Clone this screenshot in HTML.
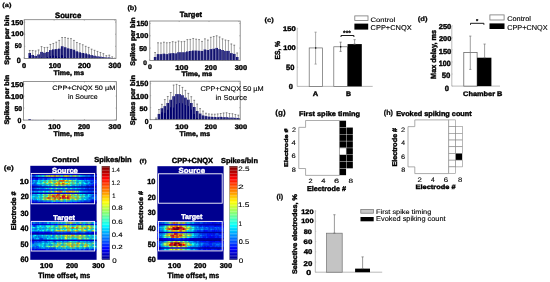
<!DOCTYPE html>
<html><head><meta charset="utf-8"><style>
html,body{margin:0;padding:0;background:#fff;width:550px;height:282px;overflow:hidden}
svg{display:block}
text{font-family:"Liberation Sans", Arial, sans-serif;text-rendering:geometricPrecision}
</style></head><body>
<svg width="550" height="282" viewBox="0 0 550 282">
<!-- panel a -->
<rect x="28.48" y="53.01" width="2.53" height="5.39" fill="#00006c" stroke="none" stroke-width="1"/>
<rect x="31.43" y="55.01" width="2.53" height="3.39" fill="#00006c" stroke="none" stroke-width="1"/>
<rect x="34.37" y="55.91" width="2.53" height="2.49" fill="#00006c" stroke="none" stroke-width="1"/>
<rect x="37.32" y="54.41" width="2.53" height="3.99" fill="#00006c" stroke="none" stroke-width="1"/>
<rect x="40.26" y="51.87" width="2.53" height="6.53" fill="#00006c" stroke="none" stroke-width="1"/>
<rect x="43.21" y="52.69" width="2.53" height="5.71" fill="#00006c" stroke="none" stroke-width="1"/>
<rect x="46.15" y="51.99" width="2.53" height="6.41" fill="#00006c" stroke="none" stroke-width="1"/>
<rect x="49.10" y="50.10" width="2.53" height="8.30" fill="#00006c" stroke="none" stroke-width="1"/>
<rect x="52.04" y="49.35" width="2.53" height="9.05" fill="#00006c" stroke="none" stroke-width="1"/>
<rect x="54.99" y="49.11" width="2.53" height="9.29" fill="#00006c" stroke="none" stroke-width="1"/>
<rect x="57.93" y="48.60" width="2.53" height="9.80" fill="#00006c" stroke="none" stroke-width="1"/>
<rect x="60.88" y="46.21" width="2.53" height="12.19" fill="#00006c" stroke="none" stroke-width="1"/>
<rect x="63.82" y="47.20" width="2.53" height="11.20" fill="#00006c" stroke="none" stroke-width="1"/>
<rect x="66.77" y="48.29" width="2.53" height="10.11" fill="#00006c" stroke="none" stroke-width="1"/>
<rect x="69.71" y="48.89" width="2.53" height="9.51" fill="#00006c" stroke="none" stroke-width="1"/>
<rect x="72.66" y="49.69" width="2.53" height="8.71" fill="#00006c" stroke="none" stroke-width="1"/>
<rect x="75.60" y="51.29" width="2.53" height="7.11" fill="#00006c" stroke="none" stroke-width="1"/>
<rect x="78.55" y="52.26" width="2.53" height="6.14" fill="#00006c" stroke="none" stroke-width="1"/>
<rect x="81.49" y="53.01" width="2.53" height="5.39" fill="#00006c" stroke="none" stroke-width="1"/>
<rect x="84.44" y="53.39" width="2.53" height="5.01" fill="#00006c" stroke="none" stroke-width="1"/>
<rect x="87.38" y="54.29" width="2.53" height="4.11" fill="#00006c" stroke="none" stroke-width="1"/>
<rect x="90.33" y="55.11" width="2.53" height="3.29" fill="#00006c" stroke="none" stroke-width="1"/>
<rect x="93.27" y="55.69" width="2.53" height="2.71" fill="#00006c" stroke="none" stroke-width="1"/>
<rect x="96.22" y="56.30" width="2.53" height="2.10" fill="#00006c" stroke="none" stroke-width="1"/>
<rect x="99.16" y="56.61" width="2.53" height="1.79" fill="#00006c" stroke="none" stroke-width="1"/>
<rect x="102.11" y="57.09" width="2.53" height="1.31" fill="#00006c" stroke="none" stroke-width="1"/>
<rect x="105.05" y="57.41" width="2.53" height="0.99" fill="#00006c" stroke="none" stroke-width="1"/>
<rect x="108.00" y="57.41" width="2.53" height="0.99" fill="#00006c" stroke="none" stroke-width="1"/>
<rect x="110.94" y="57.99" width="2.53" height="0.41" fill="#00006c" stroke="none" stroke-width="1"/>
<line x1="29.75" y1="50.18" x2="29.75" y2="53.01" stroke="#a2a2a2" stroke-width="1.0"/>
<line x1="29.75" y1="53.01" x2="29.75" y2="55.84" stroke="#6a6a90" stroke-width="0.6"/>
<line x1="28.85" y1="50.48" x2="30.65" y2="50.48" stroke="#666" stroke-width="0.7"/>
<line x1="32.70" y1="50.18" x2="32.70" y2="55.01" stroke="#a2a2a2" stroke-width="1.0"/>
<line x1="32.70" y1="55.01" x2="32.70" y2="58.40" stroke="#6a6a90" stroke-width="0.6"/>
<line x1="31.80" y1="50.48" x2="33.59" y2="50.48" stroke="#666" stroke-width="0.7"/>
<line x1="35.64" y1="50.66" x2="35.64" y2="55.91" stroke="#a2a2a2" stroke-width="1.0"/>
<line x1="35.64" y1="55.91" x2="35.64" y2="58.40" stroke="#6a6a90" stroke-width="0.6"/>
<line x1="34.74" y1="50.96" x2="36.54" y2="50.96" stroke="#666" stroke-width="0.7"/>
<line x1="38.59" y1="49.69" x2="38.59" y2="54.41" stroke="#a2a2a2" stroke-width="1.0"/>
<line x1="38.59" y1="54.41" x2="38.59" y2="58.40" stroke="#6a6a90" stroke-width="0.6"/>
<line x1="37.69" y1="49.99" x2="39.48" y2="49.99" stroke="#666" stroke-width="0.7"/>
<line x1="41.53" y1="46.31" x2="41.53" y2="51.87" stroke="#a2a2a2" stroke-width="1.0"/>
<line x1="41.53" y1="51.87" x2="41.53" y2="57.43" stroke="#6a6a90" stroke-width="0.6"/>
<line x1="40.63" y1="46.61" x2="42.43" y2="46.61" stroke="#666" stroke-width="0.7"/>
<line x1="44.48" y1="47.27" x2="44.48" y2="52.69" stroke="#a2a2a2" stroke-width="1.0"/>
<line x1="44.48" y1="52.69" x2="44.48" y2="58.11" stroke="#6a6a90" stroke-width="0.6"/>
<line x1="43.58" y1="47.57" x2="45.38" y2="47.57" stroke="#666" stroke-width="0.7"/>
<line x1="47.42" y1="47.03" x2="47.42" y2="51.99" stroke="#a2a2a2" stroke-width="1.0"/>
<line x1="47.42" y1="51.99" x2="47.42" y2="56.95" stroke="#6a6a90" stroke-width="0.6"/>
<line x1="46.52" y1="47.33" x2="48.32" y2="47.33" stroke="#666" stroke-width="0.7"/>
<line x1="50.36" y1="44.13" x2="50.36" y2="50.10" stroke="#a2a2a2" stroke-width="1.0"/>
<line x1="50.36" y1="50.10" x2="50.36" y2="56.08" stroke="#6a6a90" stroke-width="0.6"/>
<line x1="49.46" y1="44.43" x2="51.26" y2="44.43" stroke="#666" stroke-width="0.7"/>
<line x1="53.31" y1="43.16" x2="53.31" y2="49.35" stroke="#a2a2a2" stroke-width="1.0"/>
<line x1="53.31" y1="49.35" x2="53.31" y2="55.55" stroke="#6a6a90" stroke-width="0.6"/>
<line x1="52.41" y1="43.46" x2="54.21" y2="43.46" stroke="#666" stroke-width="0.7"/>
<line x1="56.25" y1="41.90" x2="56.25" y2="49.11" stroke="#a2a2a2" stroke-width="1.0"/>
<line x1="56.25" y1="49.11" x2="56.25" y2="56.32" stroke="#6a6a90" stroke-width="0.6"/>
<line x1="55.35" y1="42.20" x2="57.15" y2="42.20" stroke="#666" stroke-width="0.7"/>
<line x1="59.20" y1="40.11" x2="59.20" y2="48.60" stroke="#a2a2a2" stroke-width="1.0"/>
<line x1="59.20" y1="48.60" x2="59.20" y2="57.09" stroke="#6a6a90" stroke-width="0.6"/>
<line x1="58.30" y1="40.41" x2="60.10" y2="40.41" stroke="#666" stroke-width="0.7"/>
<line x1="62.14" y1="37.21" x2="62.14" y2="46.21" stroke="#a2a2a2" stroke-width="1.0"/>
<line x1="62.14" y1="46.21" x2="62.14" y2="55.21" stroke="#6a6a90" stroke-width="0.6"/>
<line x1="61.24" y1="37.51" x2="63.04" y2="37.51" stroke="#666" stroke-width="0.7"/>
<line x1="65.09" y1="37.21" x2="65.09" y2="47.20" stroke="#a2a2a2" stroke-width="1.0"/>
<line x1="65.09" y1="47.20" x2="65.09" y2="57.19" stroke="#6a6a90" stroke-width="0.6"/>
<line x1="64.19" y1="37.51" x2="65.99" y2="37.51" stroke="#666" stroke-width="0.7"/>
<line x1="68.03" y1="38.01" x2="68.03" y2="48.29" stroke="#a2a2a2" stroke-width="1.0"/>
<line x1="68.03" y1="48.29" x2="68.03" y2="58.40" stroke="#6a6a90" stroke-width="0.6"/>
<line x1="67.13" y1="38.31" x2="68.94" y2="38.31" stroke="#666" stroke-width="0.7"/>
<line x1="70.98" y1="38.32" x2="70.98" y2="48.89" stroke="#a2a2a2" stroke-width="1.0"/>
<line x1="70.98" y1="48.89" x2="70.98" y2="58.40" stroke="#6a6a90" stroke-width="0.6"/>
<line x1="70.08" y1="38.62" x2="71.88" y2="38.62" stroke="#666" stroke-width="0.7"/>
<line x1="73.92" y1="40.11" x2="73.92" y2="49.69" stroke="#a2a2a2" stroke-width="1.0"/>
<line x1="73.92" y1="49.69" x2="73.92" y2="58.40" stroke="#6a6a90" stroke-width="0.6"/>
<line x1="73.02" y1="40.41" x2="74.83" y2="40.41" stroke="#666" stroke-width="0.7"/>
<line x1="76.87" y1="42.19" x2="76.87" y2="51.29" stroke="#a2a2a2" stroke-width="1.0"/>
<line x1="76.87" y1="51.29" x2="76.87" y2="58.40" stroke="#6a6a90" stroke-width="0.6"/>
<line x1="75.97" y1="42.49" x2="77.77" y2="42.49" stroke="#666" stroke-width="0.7"/>
<line x1="79.81" y1="43.40" x2="79.81" y2="52.26" stroke="#a2a2a2" stroke-width="1.0"/>
<line x1="79.81" y1="52.26" x2="79.81" y2="58.40" stroke="#6a6a90" stroke-width="0.6"/>
<line x1="78.91" y1="43.70" x2="80.72" y2="43.70" stroke="#666" stroke-width="0.7"/>
<line x1="82.76" y1="44.49" x2="82.76" y2="53.01" stroke="#a2a2a2" stroke-width="1.0"/>
<line x1="82.76" y1="53.01" x2="82.76" y2="58.40" stroke="#6a6a90" stroke-width="0.6"/>
<line x1="81.86" y1="44.79" x2="83.66" y2="44.79" stroke="#666" stroke-width="0.7"/>
<line x1="85.70" y1="45.99" x2="85.70" y2="53.39" stroke="#a2a2a2" stroke-width="1.0"/>
<line x1="85.70" y1="53.39" x2="85.70" y2="58.40" stroke="#6a6a90" stroke-width="0.6"/>
<line x1="84.80" y1="46.29" x2="86.61" y2="46.29" stroke="#666" stroke-width="0.7"/>
<line x1="88.65" y1="47.10" x2="88.65" y2="54.29" stroke="#a2a2a2" stroke-width="1.0"/>
<line x1="88.65" y1="54.29" x2="88.65" y2="58.40" stroke="#6a6a90" stroke-width="0.6"/>
<line x1="87.75" y1="47.40" x2="89.55" y2="47.40" stroke="#666" stroke-width="0.7"/>
<line x1="91.59" y1="48.89" x2="91.59" y2="55.11" stroke="#a2a2a2" stroke-width="1.0"/>
<line x1="91.59" y1="55.11" x2="91.59" y2="58.40" stroke="#6a6a90" stroke-width="0.6"/>
<line x1="90.69" y1="49.19" x2="92.50" y2="49.19" stroke="#666" stroke-width="0.7"/>
<line x1="94.54" y1="50.01" x2="94.54" y2="55.69" stroke="#a2a2a2" stroke-width="1.0"/>
<line x1="94.54" y1="55.69" x2="94.54" y2="58.40" stroke="#6a6a90" stroke-width="0.6"/>
<line x1="93.64" y1="50.31" x2="95.44" y2="50.31" stroke="#666" stroke-width="0.7"/>
<line x1="97.48" y1="51.10" x2="97.48" y2="56.30" stroke="#a2a2a2" stroke-width="1.0"/>
<line x1="97.48" y1="56.30" x2="97.48" y2="58.40" stroke="#6a6a90" stroke-width="0.6"/>
<line x1="96.58" y1="51.40" x2="98.39" y2="51.40" stroke="#666" stroke-width="0.7"/>
<line x1="100.43" y1="52.21" x2="100.43" y2="56.61" stroke="#a2a2a2" stroke-width="1.0"/>
<line x1="100.43" y1="56.61" x2="100.43" y2="58.40" stroke="#6a6a90" stroke-width="0.6"/>
<line x1="99.53" y1="52.51" x2="101.33" y2="52.51" stroke="#666" stroke-width="0.7"/>
<line x1="103.38" y1="53.39" x2="103.38" y2="57.09" stroke="#a2a2a2" stroke-width="1.0"/>
<line x1="103.38" y1="57.09" x2="103.38" y2="58.40" stroke="#6a6a90" stroke-width="0.6"/>
<line x1="102.47" y1="53.69" x2="104.28" y2="53.69" stroke="#666" stroke-width="0.7"/>
<line x1="106.32" y1="55.40" x2="106.32" y2="57.41" stroke="#a2a2a2" stroke-width="1.0"/>
<line x1="106.32" y1="57.41" x2="106.32" y2="58.40" stroke="#6a6a90" stroke-width="0.6"/>
<line x1="105.42" y1="55.70" x2="107.22" y2="55.70" stroke="#666" stroke-width="0.7"/>
<line x1="109.27" y1="54.89" x2="109.27" y2="57.41" stroke="#a2a2a2" stroke-width="1.0"/>
<line x1="109.27" y1="57.41" x2="109.27" y2="58.40" stroke="#6a6a90" stroke-width="0.6"/>
<line x1="108.36" y1="55.19" x2="110.17" y2="55.19" stroke="#666" stroke-width="0.7"/>
<line x1="112.21" y1="56.61" x2="112.21" y2="57.99" stroke="#a2a2a2" stroke-width="1.0"/>
<line x1="112.21" y1="57.99" x2="112.21" y2="58.40" stroke="#6a6a90" stroke-width="0.6"/>
<line x1="111.31" y1="56.91" x2="113.11" y2="56.91" stroke="#666" stroke-width="0.7"/>
<rect x="24.30" y="19.70" width="91.70" height="38.70" fill="none" stroke="#7a7a7a" stroke-width="0.8"/>
<line x1="23.90" y1="58.40" x2="23.90" y2="57.40" stroke="#7a7a7a" stroke-width="0.5"/>
<line x1="23.90" y1="19.70" x2="23.90" y2="20.70" stroke="#7a7a7a" stroke-width="0.5"/>
<line x1="54.13" y1="58.40" x2="54.13" y2="57.40" stroke="#7a7a7a" stroke-width="0.5"/>
<line x1="54.13" y1="19.70" x2="54.13" y2="20.70" stroke="#7a7a7a" stroke-width="0.5"/>
<line x1="84.37" y1="58.40" x2="84.37" y2="57.40" stroke="#7a7a7a" stroke-width="0.5"/>
<line x1="84.37" y1="19.70" x2="84.37" y2="20.70" stroke="#7a7a7a" stroke-width="0.5"/>
<line x1="114.60" y1="58.40" x2="114.60" y2="57.40" stroke="#7a7a7a" stroke-width="0.5"/>
<line x1="114.60" y1="19.70" x2="114.60" y2="20.70" stroke="#7a7a7a" stroke-width="0.5"/>
<line x1="24.30" y1="58.40" x2="25.30" y2="58.40" stroke="#7a7a7a" stroke-width="0.5"/>
<line x1="116.00" y1="58.40" x2="115.00" y2="58.40" stroke="#7a7a7a" stroke-width="0.5"/>
<line x1="24.30" y1="46.31" x2="25.30" y2="46.31" stroke="#7a7a7a" stroke-width="0.5"/>
<line x1="116.00" y1="46.31" x2="115.00" y2="46.31" stroke="#7a7a7a" stroke-width="0.5"/>
<line x1="24.30" y1="34.21" x2="25.30" y2="34.21" stroke="#7a7a7a" stroke-width="0.5"/>
<line x1="116.00" y1="34.21" x2="115.00" y2="34.21" stroke="#7a7a7a" stroke-width="0.5"/>
<line x1="24.30" y1="22.12" x2="25.30" y2="22.12" stroke="#7a7a7a" stroke-width="0.5"/>
<line x1="116.00" y1="22.12" x2="115.00" y2="22.12" stroke="#7a7a7a" stroke-width="0.5"/>
<rect x="28.33" y="119.26" width="2.54" height="0.84" fill="#00006c" stroke="none" stroke-width="1"/>
<rect x="31.28" y="119.91" width="2.54" height="0.19" fill="#00006c" stroke="none" stroke-width="1"/>
<rect x="34.23" y="119.96" width="2.54" height="0.14" fill="#00006c" stroke="none" stroke-width="1"/>
<rect x="37.18" y="119.98" width="2.54" height="0.12" fill="#00006c" stroke="none" stroke-width="1"/>
<rect x="40.13" y="119.98" width="2.54" height="0.12" fill="#00006c" stroke="none" stroke-width="1"/>
<rect x="43.08" y="119.98" width="2.54" height="0.12" fill="#00006c" stroke="none" stroke-width="1"/>
<rect x="46.03" y="119.98" width="2.54" height="0.12" fill="#00006c" stroke="none" stroke-width="1"/>
<rect x="48.98" y="120.00" width="2.54" height="0.10" fill="#00006c" stroke="none" stroke-width="1"/>
<rect x="51.93" y="120.00" width="2.54" height="0.10" fill="#00006c" stroke="none" stroke-width="1"/>
<rect x="54.88" y="120.00" width="2.54" height="0.10" fill="#00006c" stroke="none" stroke-width="1"/>
<rect x="57.83" y="120.00" width="2.54" height="0.10" fill="#00006c" stroke="none" stroke-width="1"/>
<rect x="60.78" y="120.00" width="2.54" height="0.10" fill="#00006c" stroke="none" stroke-width="1"/>
<rect x="63.73" y="120.00" width="2.54" height="0.10" fill="#00006c" stroke="none" stroke-width="1"/>
<rect x="66.68" y="120.00" width="2.54" height="0.10" fill="#00006c" stroke="none" stroke-width="1"/>
<rect x="69.63" y="120.00" width="2.54" height="0.10" fill="#00006c" stroke="none" stroke-width="1"/>
<rect x="72.58" y="120.00" width="2.54" height="0.10" fill="#00006c" stroke="none" stroke-width="1"/>
<rect x="75.53" y="120.00" width="2.54" height="0.10" fill="#00006c" stroke="none" stroke-width="1"/>
<rect x="78.48" y="120.00" width="2.54" height="0.10" fill="#00006c" stroke="none" stroke-width="1"/>
<rect x="81.43" y="120.00" width="2.54" height="0.10" fill="#00006c" stroke="none" stroke-width="1"/>
<rect x="84.38" y="120.00" width="2.54" height="0.10" fill="#00006c" stroke="none" stroke-width="1"/>
<rect x="87.33" y="120.00" width="2.54" height="0.10" fill="#00006c" stroke="none" stroke-width="1"/>
<rect x="90.28" y="120.00" width="2.54" height="0.10" fill="#00006c" stroke="none" stroke-width="1"/>
<rect x="93.23" y="120.00" width="2.54" height="0.10" fill="#00006c" stroke="none" stroke-width="1"/>
<rect x="96.18" y="120.00" width="2.54" height="0.10" fill="#00006c" stroke="none" stroke-width="1"/>
<rect x="99.13" y="120.00" width="2.54" height="0.10" fill="#00006c" stroke="none" stroke-width="1"/>
<rect x="102.08" y="120.00" width="2.54" height="0.10" fill="#00006c" stroke="none" stroke-width="1"/>
<rect x="105.03" y="120.00" width="2.54" height="0.10" fill="#00006c" stroke="none" stroke-width="1"/>
<rect x="107.98" y="120.00" width="2.54" height="0.10" fill="#00006c" stroke="none" stroke-width="1"/>
<rect x="110.93" y="120.03" width="2.54" height="0.07" fill="#00006c" stroke="none" stroke-width="1"/>
<rect x="23.50" y="81.60" width="93.00" height="38.50" fill="none" stroke="#7a7a7a" stroke-width="0.8"/>
<line x1="23.10" y1="120.10" x2="23.10" y2="119.10" stroke="#7a7a7a" stroke-width="0.5"/>
<line x1="23.10" y1="81.60" x2="23.10" y2="82.60" stroke="#7a7a7a" stroke-width="0.5"/>
<line x1="53.77" y1="120.10" x2="53.77" y2="119.10" stroke="#7a7a7a" stroke-width="0.5"/>
<line x1="53.77" y1="81.60" x2="53.77" y2="82.60" stroke="#7a7a7a" stroke-width="0.5"/>
<line x1="84.43" y1="120.10" x2="84.43" y2="119.10" stroke="#7a7a7a" stroke-width="0.5"/>
<line x1="84.43" y1="81.60" x2="84.43" y2="82.60" stroke="#7a7a7a" stroke-width="0.5"/>
<line x1="115.10" y1="120.10" x2="115.10" y2="119.10" stroke="#7a7a7a" stroke-width="0.5"/>
<line x1="115.10" y1="81.60" x2="115.10" y2="82.60" stroke="#7a7a7a" stroke-width="0.5"/>
<line x1="23.50" y1="120.10" x2="24.50" y2="120.10" stroke="#7a7a7a" stroke-width="0.5"/>
<line x1="116.50" y1="120.10" x2="115.50" y2="120.10" stroke="#7a7a7a" stroke-width="0.5"/>
<line x1="23.50" y1="108.07" x2="24.50" y2="108.07" stroke="#7a7a7a" stroke-width="0.5"/>
<line x1="116.50" y1="108.07" x2="115.50" y2="108.07" stroke="#7a7a7a" stroke-width="0.5"/>
<line x1="23.50" y1="96.04" x2="24.50" y2="96.04" stroke="#7a7a7a" stroke-width="0.5"/>
<line x1="116.50" y1="96.04" x2="115.50" y2="96.04" stroke="#7a7a7a" stroke-width="0.5"/>
<line x1="23.50" y1="84.01" x2="24.50" y2="84.01" stroke="#7a7a7a" stroke-width="0.5"/>
<line x1="116.50" y1="84.01" x2="115.50" y2="84.01" stroke="#7a7a7a" stroke-width="0.5"/>
<text transform="matrix(1.2631 0 0 1 2.23 7.34)" font-size="5.968" font-weight="bold" fill="#000" stroke="#000" stroke-width="0.22">(a)</text>
<text transform="matrix(0.9865 0 0 1 54.96 17.70)" font-size="7.871" font-weight="bold" fill="#000" stroke="#000" stroke-width="0.38">Source</text>
<text transform="matrix(1.0345 0 0 1 11.32 24.50)" font-size="7.014" font-weight="bold" fill="#000" stroke="#000" stroke-width="0.38">150</text>
<text transform="matrix(1.0784 0 0 1 11.32 36.00)" font-size="6.729" font-weight="bold" fill="#000" stroke="#000" stroke-width="0.38">100</text>
<text transform="matrix(0.9174 0 0 1 14.80 47.80)" font-size="6.729" font-weight="bold" fill="#000" stroke="#000" stroke-width="0.38">50</text>
<text transform="matrix(0.9492 0 0 1 16.70 62.80)" font-size="7.586" font-weight="bold" fill="#000" stroke="#000" stroke-width="0.38">0</text>
<text transform="matrix(1.1014 0 0 1 21.89 67.70)" font-size="6.729" font-weight="bold" fill="#000" stroke="#000" stroke-width="0.38">0</text>
<text transform="matrix(1.0840 0 0 1 48.71 67.80)" font-size="6.871" font-weight="bold" fill="#000" stroke="#000" stroke-width="0.38">100</text>
<text transform="matrix(1.0914 0 0 1 77.92 67.80)" font-size="7.157" font-weight="bold" fill="#000" stroke="#000" stroke-width="0.38">200</text>
<text transform="matrix(1.0262 0 0 1 108.50 67.80)" font-size="7.443" font-weight="bold" fill="#000" stroke="#000" stroke-width="0.38">300</text>
<text transform="matrix(1.0645 0 0 1 53.62 74.80)" font-size="6.634" font-weight="bold" fill="#000" stroke="#000" stroke-width="0.38">Time, ms</text>
<text transform="matrix(0 -1.1187 1 0 9.20 64.63)" font-size="6.497" font-weight="bold" fill="#000" stroke="#000" stroke-width="0.38">Spikes per bin</text>
<text transform="matrix(1.0619 0 0 1 10.91 86.70)" font-size="7.014" font-weight="bold" fill="#000" stroke="#000" stroke-width="0.38">150</text>
<text transform="matrix(1.0840 0 0 1 10.91 98.90)" font-size="6.871" font-weight="bold" fill="#000" stroke="#000" stroke-width="0.38">100</text>
<text transform="matrix(0.9823 0 0 1 14.39 111.20)" font-size="6.871" font-weight="bold" fill="#000" stroke="#000" stroke-width="0.38">50</text>
<text transform="matrix(0.9575 0 0 1 17.51 122.90)" font-size="7.300" font-weight="bold" fill="#000" stroke="#000" stroke-width="0.38">0</text>
<text transform="matrix(0.9965 0 0 1 21.71 128.70)" font-size="7.014" font-weight="bold" fill="#000" stroke="#000" stroke-width="0.38">0</text>
<text transform="matrix(1.0840 0 0 1 48.21 128.50)" font-size="6.871" font-weight="bold" fill="#000" stroke="#000" stroke-width="0.38">100</text>
<text transform="matrix(1.0636 0 0 1 77.93 128.50)" font-size="6.871" font-weight="bold" fill="#000" stroke="#000" stroke-width="0.38">200</text>
<text transform="matrix(1.1024 0 0 1 108.50 128.50)" font-size="6.871" font-weight="bold" fill="#000" stroke="#000" stroke-width="0.38">300</text>
<text transform="matrix(1.0020 0 0 1 53.62 135.80)" font-size="7.048" font-weight="bold" fill="#000" stroke="#000" stroke-width="0.38">Time, ms</text>
<text transform="matrix(0 -1.0977 1 0 9.00 124.53)" font-size="6.634" font-weight="bold" fill="#000" stroke="#000" stroke-width="0.38">Spikes per bin</text>
<text transform="matrix(1.1586 0 0 1 52.19 90.00)" font-size="6.343" font-weight="normal" fill="#000" stroke="#000" stroke-width="0.12">CPP+CNQX 50 µM</text>
<text transform="matrix(1.0407 0 0 1 67.90 98.70)" font-size="6.814" font-weight="normal" fill="#000" stroke="#000" stroke-width="0.12">in Source</text>
<!-- panel b -->
<rect x="153.84" y="57.00" width="2.52" height="3.40" fill="#00006c" stroke="none" stroke-width="1"/>
<rect x="156.77" y="54.10" width="2.52" height="6.30" fill="#00006c" stroke="none" stroke-width="1"/>
<rect x="159.70" y="54.10" width="2.52" height="6.30" fill="#00006c" stroke="none" stroke-width="1"/>
<rect x="162.64" y="53.60" width="2.52" height="6.80" fill="#00006c" stroke="none" stroke-width="1"/>
<rect x="165.57" y="54.10" width="2.52" height="6.30" fill="#00006c" stroke="none" stroke-width="1"/>
<rect x="168.50" y="53.31" width="2.52" height="7.09" fill="#00006c" stroke="none" stroke-width="1"/>
<rect x="171.43" y="53.11" width="2.52" height="7.29" fill="#00006c" stroke="none" stroke-width="1"/>
<rect x="174.36" y="53.31" width="2.52" height="7.09" fill="#00006c" stroke="none" stroke-width="1"/>
<rect x="177.30" y="52.20" width="2.52" height="8.20" fill="#00006c" stroke="none" stroke-width="1"/>
<rect x="180.23" y="52.20" width="2.52" height="8.20" fill="#00006c" stroke="none" stroke-width="1"/>
<rect x="183.16" y="52.20" width="2.52" height="8.20" fill="#00006c" stroke="none" stroke-width="1"/>
<rect x="186.09" y="51.41" width="2.52" height="8.99" fill="#00006c" stroke="none" stroke-width="1"/>
<rect x="189.02" y="50.99" width="2.52" height="9.41" fill="#00006c" stroke="none" stroke-width="1"/>
<rect x="191.96" y="50.50" width="2.52" height="9.90" fill="#00006c" stroke="none" stroke-width="1"/>
<rect x="194.89" y="50.50" width="2.52" height="9.90" fill="#00006c" stroke="none" stroke-width="1"/>
<rect x="197.82" y="50.70" width="2.52" height="9.70" fill="#00006c" stroke="none" stroke-width="1"/>
<rect x="200.75" y="50.99" width="2.52" height="9.41" fill="#00006c" stroke="none" stroke-width="1"/>
<rect x="203.68" y="49.42" width="2.52" height="10.98" fill="#00006c" stroke="none" stroke-width="1"/>
<rect x="206.62" y="50.01" width="2.52" height="10.39" fill="#00006c" stroke="none" stroke-width="1"/>
<rect x="209.55" y="49.10" width="2.52" height="11.30" fill="#00006c" stroke="none" stroke-width="1"/>
<rect x="212.48" y="48.70" width="2.52" height="11.70" fill="#00006c" stroke="none" stroke-width="1"/>
<rect x="215.41" y="47.89" width="2.52" height="12.51" fill="#00006c" stroke="none" stroke-width="1"/>
<rect x="218.34" y="49.10" width="2.52" height="11.30" fill="#00006c" stroke="none" stroke-width="1"/>
<rect x="221.28" y="50.01" width="2.52" height="10.39" fill="#00006c" stroke="none" stroke-width="1"/>
<rect x="224.21" y="50.89" width="2.52" height="9.51" fill="#00006c" stroke="none" stroke-width="1"/>
<rect x="227.14" y="50.89" width="2.52" height="9.51" fill="#00006c" stroke="none" stroke-width="1"/>
<rect x="230.07" y="53.11" width="2.52" height="7.29" fill="#00006c" stroke="none" stroke-width="1"/>
<rect x="233.00" y="53.90" width="2.52" height="6.50" fill="#00006c" stroke="none" stroke-width="1"/>
<rect x="235.94" y="57.00" width="2.52" height="3.40" fill="#00006c" stroke="none" stroke-width="1"/>
<line x1="155.10" y1="52.20" x2="155.10" y2="57.00" stroke="#a2a2a2" stroke-width="1.0"/>
<line x1="155.10" y1="57.00" x2="155.10" y2="60.40" stroke="#6a6a90" stroke-width="0.6"/>
<line x1="154.20" y1="52.50" x2="156.00" y2="52.50" stroke="#666" stroke-width="0.7"/>
<line x1="158.03" y1="42.50" x2="158.03" y2="54.10" stroke="#a2a2a2" stroke-width="1.0"/>
<line x1="158.03" y1="54.10" x2="158.03" y2="60.40" stroke="#6a6a90" stroke-width="0.6"/>
<line x1="157.13" y1="42.80" x2="158.93" y2="42.80" stroke="#666" stroke-width="0.7"/>
<line x1="160.96" y1="42.69" x2="160.96" y2="54.10" stroke="#a2a2a2" stroke-width="1.0"/>
<line x1="160.96" y1="54.10" x2="160.96" y2="60.40" stroke="#6a6a90" stroke-width="0.6"/>
<line x1="160.06" y1="42.99" x2="161.86" y2="42.99" stroke="#666" stroke-width="0.7"/>
<line x1="163.90" y1="41.91" x2="163.90" y2="53.60" stroke="#a2a2a2" stroke-width="1.0"/>
<line x1="163.90" y1="53.60" x2="163.90" y2="60.40" stroke="#6a6a90" stroke-width="0.6"/>
<line x1="163.00" y1="42.21" x2="164.80" y2="42.21" stroke="#666" stroke-width="0.7"/>
<line x1="166.83" y1="42.50" x2="166.83" y2="54.10" stroke="#a2a2a2" stroke-width="1.0"/>
<line x1="166.83" y1="54.10" x2="166.83" y2="60.40" stroke="#6a6a90" stroke-width="0.6"/>
<line x1="165.93" y1="42.80" x2="167.73" y2="42.80" stroke="#666" stroke-width="0.7"/>
<line x1="169.76" y1="42.30" x2="169.76" y2="53.31" stroke="#a2a2a2" stroke-width="1.0"/>
<line x1="169.76" y1="53.31" x2="169.76" y2="60.40" stroke="#6a6a90" stroke-width="0.6"/>
<line x1="168.86" y1="42.60" x2="170.66" y2="42.60" stroke="#666" stroke-width="0.7"/>
<line x1="172.69" y1="41.39" x2="172.69" y2="53.11" stroke="#a2a2a2" stroke-width="1.0"/>
<line x1="172.69" y1="53.11" x2="172.69" y2="60.40" stroke="#6a6a90" stroke-width="0.6"/>
<line x1="171.79" y1="41.69" x2="173.59" y2="41.69" stroke="#666" stroke-width="0.7"/>
<line x1="175.62" y1="41.91" x2="175.62" y2="53.31" stroke="#a2a2a2" stroke-width="1.0"/>
<line x1="175.62" y1="53.31" x2="175.62" y2="60.40" stroke="#6a6a90" stroke-width="0.6"/>
<line x1="174.72" y1="42.21" x2="176.52" y2="42.21" stroke="#666" stroke-width="0.7"/>
<line x1="178.56" y1="40.80" x2="178.56" y2="52.20" stroke="#a2a2a2" stroke-width="1.0"/>
<line x1="178.56" y1="52.20" x2="178.56" y2="60.40" stroke="#6a6a90" stroke-width="0.6"/>
<line x1="177.66" y1="41.10" x2="179.46" y2="41.10" stroke="#666" stroke-width="0.7"/>
<line x1="181.49" y1="41.39" x2="181.49" y2="52.20" stroke="#a2a2a2" stroke-width="1.0"/>
<line x1="181.49" y1="52.20" x2="181.49" y2="60.40" stroke="#6a6a90" stroke-width="0.6"/>
<line x1="180.59" y1="41.69" x2="182.39" y2="41.69" stroke="#666" stroke-width="0.7"/>
<line x1="184.42" y1="41.09" x2="184.42" y2="52.20" stroke="#a2a2a2" stroke-width="1.0"/>
<line x1="184.42" y1="52.20" x2="184.42" y2="60.40" stroke="#6a6a90" stroke-width="0.6"/>
<line x1="183.52" y1="41.39" x2="185.32" y2="41.39" stroke="#666" stroke-width="0.7"/>
<line x1="187.35" y1="39.30" x2="187.35" y2="51.41" stroke="#a2a2a2" stroke-width="1.0"/>
<line x1="187.35" y1="51.41" x2="187.35" y2="60.40" stroke="#6a6a90" stroke-width="0.6"/>
<line x1="186.45" y1="39.60" x2="188.25" y2="39.60" stroke="#666" stroke-width="0.7"/>
<line x1="190.28" y1="39.10" x2="190.28" y2="50.99" stroke="#a2a2a2" stroke-width="1.0"/>
<line x1="190.28" y1="50.99" x2="190.28" y2="60.40" stroke="#6a6a90" stroke-width="0.6"/>
<line x1="189.38" y1="39.40" x2="191.18" y2="39.40" stroke="#666" stroke-width="0.7"/>
<line x1="193.22" y1="38.19" x2="193.22" y2="50.50" stroke="#a2a2a2" stroke-width="1.0"/>
<line x1="193.22" y1="50.50" x2="193.22" y2="60.40" stroke="#6a6a90" stroke-width="0.6"/>
<line x1="192.32" y1="38.49" x2="194.12" y2="38.49" stroke="#666" stroke-width="0.7"/>
<line x1="196.15" y1="38.90" x2="196.15" y2="50.50" stroke="#a2a2a2" stroke-width="1.0"/>
<line x1="196.15" y1="50.50" x2="196.15" y2="60.40" stroke="#6a6a90" stroke-width="0.6"/>
<line x1="195.25" y1="39.20" x2="197.05" y2="39.20" stroke="#666" stroke-width="0.7"/>
<line x1="199.08" y1="39.30" x2="199.08" y2="50.70" stroke="#a2a2a2" stroke-width="1.0"/>
<line x1="199.08" y1="50.70" x2="199.08" y2="60.40" stroke="#6a6a90" stroke-width="0.6"/>
<line x1="198.18" y1="39.60" x2="199.98" y2="39.60" stroke="#666" stroke-width="0.7"/>
<line x1="202.01" y1="41.09" x2="202.01" y2="50.99" stroke="#a2a2a2" stroke-width="1.0"/>
<line x1="202.01" y1="50.99" x2="202.01" y2="60.40" stroke="#6a6a90" stroke-width="0.6"/>
<line x1="201.11" y1="41.39" x2="202.91" y2="41.39" stroke="#666" stroke-width="0.7"/>
<line x1="204.94" y1="38.56" x2="204.94" y2="49.42" stroke="#a2a2a2" stroke-width="1.0"/>
<line x1="204.94" y1="49.42" x2="204.94" y2="60.28" stroke="#6a6a90" stroke-width="0.6"/>
<line x1="204.04" y1="38.86" x2="205.84" y2="38.86" stroke="#666" stroke-width="0.7"/>
<line x1="207.88" y1="39.79" x2="207.88" y2="50.01" stroke="#a2a2a2" stroke-width="1.0"/>
<line x1="207.88" y1="50.01" x2="207.88" y2="60.23" stroke="#6a6a90" stroke-width="0.6"/>
<line x1="206.98" y1="40.09" x2="208.78" y2="40.09" stroke="#666" stroke-width="0.7"/>
<line x1="210.81" y1="37.01" x2="210.81" y2="49.10" stroke="#a2a2a2" stroke-width="1.0"/>
<line x1="210.81" y1="49.10" x2="210.81" y2="60.40" stroke="#6a6a90" stroke-width="0.6"/>
<line x1="209.91" y1="37.31" x2="211.71" y2="37.31" stroke="#666" stroke-width="0.7"/>
<line x1="213.74" y1="36.19" x2="213.74" y2="48.70" stroke="#a2a2a2" stroke-width="1.0"/>
<line x1="213.74" y1="48.70" x2="213.74" y2="60.40" stroke="#6a6a90" stroke-width="0.6"/>
<line x1="212.84" y1="36.49" x2="214.64" y2="36.49" stroke="#666" stroke-width="0.7"/>
<line x1="216.67" y1="35.50" x2="216.67" y2="47.89" stroke="#a2a2a2" stroke-width="1.0"/>
<line x1="216.67" y1="47.89" x2="216.67" y2="60.28" stroke="#6a6a90" stroke-width="0.6"/>
<line x1="215.77" y1="35.80" x2="217.57" y2="35.80" stroke="#666" stroke-width="0.7"/>
<line x1="219.60" y1="36.71" x2="219.60" y2="49.10" stroke="#a2a2a2" stroke-width="1.0"/>
<line x1="219.60" y1="49.10" x2="219.60" y2="60.40" stroke="#6a6a90" stroke-width="0.6"/>
<line x1="218.70" y1="37.01" x2="220.50" y2="37.01" stroke="#666" stroke-width="0.7"/>
<line x1="222.54" y1="38.61" x2="222.54" y2="50.01" stroke="#a2a2a2" stroke-width="1.0"/>
<line x1="222.54" y1="50.01" x2="222.54" y2="60.40" stroke="#6a6a90" stroke-width="0.6"/>
<line x1="221.64" y1="38.91" x2="223.44" y2="38.91" stroke="#666" stroke-width="0.7"/>
<line x1="225.47" y1="39.79" x2="225.47" y2="50.89" stroke="#a2a2a2" stroke-width="1.0"/>
<line x1="225.47" y1="50.89" x2="225.47" y2="60.40" stroke="#6a6a90" stroke-width="0.6"/>
<line x1="224.57" y1="40.09" x2="226.37" y2="40.09" stroke="#666" stroke-width="0.7"/>
<line x1="228.40" y1="40.31" x2="228.40" y2="50.89" stroke="#a2a2a2" stroke-width="1.0"/>
<line x1="228.40" y1="50.89" x2="228.40" y2="60.40" stroke="#6a6a90" stroke-width="0.6"/>
<line x1="227.50" y1="40.61" x2="229.30" y2="40.61" stroke="#666" stroke-width="0.7"/>
<line x1="231.33" y1="43.70" x2="231.33" y2="53.11" stroke="#a2a2a2" stroke-width="1.0"/>
<line x1="231.33" y1="53.11" x2="231.33" y2="60.40" stroke="#6a6a90" stroke-width="0.6"/>
<line x1="230.43" y1="44.00" x2="232.23" y2="44.00" stroke="#666" stroke-width="0.7"/>
<line x1="234.26" y1="44.91" x2="234.26" y2="53.90" stroke="#a2a2a2" stroke-width="1.0"/>
<line x1="234.26" y1="53.90" x2="234.26" y2="60.40" stroke="#6a6a90" stroke-width="0.6"/>
<line x1="233.36" y1="45.21" x2="235.16" y2="45.21" stroke="#666" stroke-width="0.7"/>
<line x1="237.20" y1="52.69" x2="237.20" y2="57.00" stroke="#a2a2a2" stroke-width="1.0"/>
<line x1="237.20" y1="57.00" x2="237.20" y2="60.40" stroke="#6a6a90" stroke-width="0.6"/>
<line x1="236.30" y1="52.99" x2="238.10" y2="52.99" stroke="#666" stroke-width="0.7"/>
<rect x="149.80" y="21.00" width="90.40" height="39.40" fill="none" stroke="#7a7a7a" stroke-width="0.8"/>
<line x1="149.40" y1="60.40" x2="149.40" y2="59.40" stroke="#7a7a7a" stroke-width="0.5"/>
<line x1="149.40" y1="21.00" x2="149.40" y2="22.00" stroke="#7a7a7a" stroke-width="0.5"/>
<line x1="179.20" y1="60.40" x2="179.20" y2="59.40" stroke="#7a7a7a" stroke-width="0.5"/>
<line x1="179.20" y1="21.00" x2="179.20" y2="22.00" stroke="#7a7a7a" stroke-width="0.5"/>
<line x1="209.00" y1="60.40" x2="209.00" y2="59.40" stroke="#7a7a7a" stroke-width="0.5"/>
<line x1="209.00" y1="21.00" x2="209.00" y2="22.00" stroke="#7a7a7a" stroke-width="0.5"/>
<line x1="238.80" y1="60.40" x2="238.80" y2="59.40" stroke="#7a7a7a" stroke-width="0.5"/>
<line x1="238.80" y1="21.00" x2="238.80" y2="22.00" stroke="#7a7a7a" stroke-width="0.5"/>
<line x1="149.80" y1="60.40" x2="150.80" y2="60.40" stroke="#7a7a7a" stroke-width="0.5"/>
<line x1="240.20" y1="60.40" x2="239.20" y2="60.40" stroke="#7a7a7a" stroke-width="0.5"/>
<line x1="149.80" y1="48.09" x2="150.80" y2="48.09" stroke="#7a7a7a" stroke-width="0.5"/>
<line x1="240.20" y1="48.09" x2="239.20" y2="48.09" stroke="#7a7a7a" stroke-width="0.5"/>
<line x1="149.80" y1="35.77" x2="150.80" y2="35.77" stroke="#7a7a7a" stroke-width="0.5"/>
<line x1="240.20" y1="35.77" x2="239.20" y2="35.77" stroke="#7a7a7a" stroke-width="0.5"/>
<line x1="149.80" y1="23.46" x2="150.80" y2="23.46" stroke="#7a7a7a" stroke-width="0.5"/>
<line x1="240.20" y1="23.46" x2="239.20" y2="23.46" stroke="#7a7a7a" stroke-width="0.5"/>
<rect x="154.74" y="118.98" width="2.53" height="0.72" fill="#00006c" stroke="none" stroke-width="1"/>
<rect x="157.68" y="113.92" width="2.53" height="5.78" fill="#00006c" stroke="none" stroke-width="1"/>
<rect x="160.62" y="108.20" width="2.53" height="11.50" fill="#00006c" stroke="none" stroke-width="1"/>
<rect x="163.56" y="106.10" width="2.53" height="13.60" fill="#00006c" stroke="none" stroke-width="1"/>
<rect x="166.50" y="103.00" width="2.53" height="16.70" fill="#00006c" stroke="none" stroke-width="1"/>
<rect x="169.44" y="99.73" width="2.53" height="19.97" fill="#00006c" stroke="none" stroke-width="1"/>
<rect x="172.38" y="96.19" width="2.53" height="23.51" fill="#00006c" stroke="none" stroke-width="1"/>
<rect x="175.32" y="94.10" width="2.53" height="25.60" fill="#00006c" stroke="none" stroke-width="1"/>
<rect x="178.26" y="94.10" width="2.53" height="25.60" fill="#00006c" stroke="none" stroke-width="1"/>
<rect x="181.20" y="95.20" width="2.53" height="24.50" fill="#00006c" stroke="none" stroke-width="1"/>
<rect x="184.14" y="97.59" width="2.53" height="22.11" fill="#00006c" stroke="none" stroke-width="1"/>
<rect x="187.08" y="99.61" width="2.53" height="20.09" fill="#00006c" stroke="none" stroke-width="1"/>
<rect x="190.02" y="103.00" width="2.53" height="16.70" fill="#00006c" stroke="none" stroke-width="1"/>
<rect x="192.96" y="107.00" width="2.53" height="12.71" fill="#00006c" stroke="none" stroke-width="1"/>
<rect x="195.90" y="110.99" width="2.53" height="8.71" fill="#00006c" stroke="none" stroke-width="1"/>
<rect x="198.84" y="113.49" width="2.53" height="6.21" fill="#00006c" stroke="none" stroke-width="1"/>
<rect x="201.78" y="115.37" width="2.53" height="4.33" fill="#00006c" stroke="none" stroke-width="1"/>
<rect x="204.72" y="116.09" width="2.53" height="3.61" fill="#00006c" stroke="none" stroke-width="1"/>
<rect x="207.66" y="116.57" width="2.53" height="3.13" fill="#00006c" stroke="none" stroke-width="1"/>
<rect x="210.60" y="116.81" width="2.53" height="2.89" fill="#00006c" stroke="none" stroke-width="1"/>
<rect x="213.54" y="117.05" width="2.53" height="2.65" fill="#00006c" stroke="none" stroke-width="1"/>
<rect x="216.48" y="117.17" width="2.53" height="2.53" fill="#00006c" stroke="none" stroke-width="1"/>
<rect x="219.42" y="116.81" width="2.53" height="2.89" fill="#00006c" stroke="none" stroke-width="1"/>
<rect x="222.36" y="117.17" width="2.53" height="2.53" fill="#00006c" stroke="none" stroke-width="1"/>
<rect x="225.30" y="117.17" width="2.53" height="2.53" fill="#00006c" stroke="none" stroke-width="1"/>
<rect x="228.24" y="117.53" width="2.53" height="2.17" fill="#00006c" stroke="none" stroke-width="1"/>
<rect x="231.18" y="117.53" width="2.53" height="2.17" fill="#00006c" stroke="none" stroke-width="1"/>
<rect x="234.12" y="117.78" width="2.53" height="1.93" fill="#00006c" stroke="none" stroke-width="1"/>
<rect x="237.06" y="118.02" width="2.53" height="1.68" fill="#00006c" stroke="none" stroke-width="1"/>
<line x1="156.00" y1="117.78" x2="156.00" y2="118.98" stroke="#a2a2a2" stroke-width="1.0"/>
<line x1="156.00" y1="118.98" x2="156.00" y2="119.70" stroke="#6a6a90" stroke-width="0.6"/>
<line x1="155.10" y1="118.08" x2="156.90" y2="118.08" stroke="#666" stroke-width="0.7"/>
<line x1="158.94" y1="109.21" x2="158.94" y2="113.92" stroke="#a2a2a2" stroke-width="1.0"/>
<line x1="158.94" y1="113.92" x2="158.94" y2="118.64" stroke="#6a6a90" stroke-width="0.6"/>
<line x1="158.04" y1="109.51" x2="159.84" y2="109.51" stroke="#666" stroke-width="0.7"/>
<line x1="161.88" y1="104.06" x2="161.88" y2="108.20" stroke="#a2a2a2" stroke-width="1.0"/>
<line x1="161.88" y1="108.20" x2="161.88" y2="112.34" stroke="#6a6a90" stroke-width="0.6"/>
<line x1="160.98" y1="104.36" x2="162.78" y2="104.36" stroke="#666" stroke-width="0.7"/>
<line x1="164.82" y1="99.30" x2="164.82" y2="106.10" stroke="#a2a2a2" stroke-width="1.0"/>
<line x1="164.82" y1="106.10" x2="164.82" y2="112.91" stroke="#6a6a90" stroke-width="0.6"/>
<line x1="163.92" y1="99.59" x2="165.72" y2="99.59" stroke="#666" stroke-width="0.7"/>
<line x1="167.76" y1="96.19" x2="167.76" y2="103.00" stroke="#a2a2a2" stroke-width="1.0"/>
<line x1="167.76" y1="103.00" x2="167.76" y2="109.81" stroke="#6a6a90" stroke-width="0.6"/>
<line x1="166.86" y1="96.49" x2="168.66" y2="96.49" stroke="#666" stroke-width="0.7"/>
<line x1="170.70" y1="92.20" x2="170.70" y2="99.73" stroke="#a2a2a2" stroke-width="1.0"/>
<line x1="170.70" y1="99.73" x2="170.70" y2="107.26" stroke="#6a6a90" stroke-width="0.6"/>
<line x1="169.80" y1="92.50" x2="171.60" y2="92.50" stroke="#666" stroke-width="0.7"/>
<line x1="173.64" y1="84.81" x2="173.64" y2="96.19" stroke="#a2a2a2" stroke-width="1.0"/>
<line x1="173.64" y1="96.19" x2="173.64" y2="107.57" stroke="#6a6a90" stroke-width="0.6"/>
<line x1="172.74" y1="85.11" x2="174.54" y2="85.11" stroke="#666" stroke-width="0.7"/>
<line x1="176.58" y1="84.09" x2="176.58" y2="94.10" stroke="#a2a2a2" stroke-width="1.0"/>
<line x1="176.58" y1="94.10" x2="176.58" y2="104.11" stroke="#6a6a90" stroke-width="0.6"/>
<line x1="175.68" y1="84.39" x2="177.48" y2="84.39" stroke="#666" stroke-width="0.7"/>
<line x1="179.52" y1="85.19" x2="179.52" y2="94.10" stroke="#a2a2a2" stroke-width="1.0"/>
<line x1="179.52" y1="94.10" x2="179.52" y2="103.00" stroke="#6a6a90" stroke-width="0.6"/>
<line x1="178.62" y1="85.49" x2="180.42" y2="85.49" stroke="#666" stroke-width="0.7"/>
<line x1="182.46" y1="87.10" x2="182.46" y2="95.20" stroke="#a2a2a2" stroke-width="1.0"/>
<line x1="182.46" y1="95.20" x2="182.46" y2="103.31" stroke="#6a6a90" stroke-width="0.6"/>
<line x1="181.56" y1="87.40" x2="183.36" y2="87.40" stroke="#666" stroke-width="0.7"/>
<line x1="185.40" y1="90.10" x2="185.40" y2="97.59" stroke="#a2a2a2" stroke-width="1.0"/>
<line x1="185.40" y1="97.59" x2="185.40" y2="105.07" stroke="#6a6a90" stroke-width="0.6"/>
<line x1="184.50" y1="90.40" x2="186.30" y2="90.40" stroke="#666" stroke-width="0.7"/>
<line x1="188.34" y1="93.09" x2="188.34" y2="99.61" stroke="#a2a2a2" stroke-width="1.0"/>
<line x1="188.34" y1="99.61" x2="188.34" y2="106.13" stroke="#6a6a90" stroke-width="0.6"/>
<line x1="187.44" y1="93.39" x2="189.24" y2="93.39" stroke="#666" stroke-width="0.7"/>
<line x1="191.28" y1="96.41" x2="191.28" y2="103.00" stroke="#a2a2a2" stroke-width="1.0"/>
<line x1="191.28" y1="103.00" x2="191.28" y2="109.59" stroke="#6a6a90" stroke-width="0.6"/>
<line x1="190.38" y1="96.71" x2="192.18" y2="96.71" stroke="#666" stroke-width="0.7"/>
<line x1="194.22" y1="99.99" x2="194.22" y2="107.00" stroke="#a2a2a2" stroke-width="1.0"/>
<line x1="194.22" y1="107.00" x2="194.22" y2="114.00" stroke="#6a6a90" stroke-width="0.6"/>
<line x1="193.32" y1="100.29" x2="195.12" y2="100.29" stroke="#666" stroke-width="0.7"/>
<line x1="197.16" y1="103.82" x2="197.16" y2="110.99" stroke="#a2a2a2" stroke-width="1.0"/>
<line x1="197.16" y1="110.99" x2="197.16" y2="118.16" stroke="#6a6a90" stroke-width="0.6"/>
<line x1="196.26" y1="104.12" x2="198.06" y2="104.12" stroke="#666" stroke-width="0.7"/>
<line x1="200.10" y1="108.29" x2="200.10" y2="113.49" stroke="#a2a2a2" stroke-width="1.0"/>
<line x1="200.10" y1="113.49" x2="200.10" y2="118.69" stroke="#6a6a90" stroke-width="0.6"/>
<line x1="199.20" y1="108.59" x2="201.00" y2="108.59" stroke="#666" stroke-width="0.7"/>
<line x1="203.04" y1="110.80" x2="203.04" y2="115.37" stroke="#a2a2a2" stroke-width="1.0"/>
<line x1="203.04" y1="115.37" x2="203.04" y2="119.70" stroke="#6a6a90" stroke-width="0.6"/>
<line x1="202.14" y1="111.10" x2="203.94" y2="111.10" stroke="#666" stroke-width="0.7"/>
<line x1="205.98" y1="112.96" x2="205.98" y2="116.09" stroke="#a2a2a2" stroke-width="1.0"/>
<line x1="205.98" y1="116.09" x2="205.98" y2="119.22" stroke="#6a6a90" stroke-width="0.6"/>
<line x1="205.08" y1="113.26" x2="206.88" y2="113.26" stroke="#666" stroke-width="0.7"/>
<line x1="208.92" y1="113.68" x2="208.92" y2="116.57" stroke="#a2a2a2" stroke-width="1.0"/>
<line x1="208.92" y1="116.57" x2="208.92" y2="119.46" stroke="#6a6a90" stroke-width="0.6"/>
<line x1="208.02" y1="113.98" x2="209.82" y2="113.98" stroke="#666" stroke-width="0.7"/>
<line x1="211.86" y1="113.92" x2="211.86" y2="116.81" stroke="#a2a2a2" stroke-width="1.0"/>
<line x1="211.86" y1="116.81" x2="211.86" y2="119.70" stroke="#6a6a90" stroke-width="0.6"/>
<line x1="210.96" y1="114.22" x2="212.76" y2="114.22" stroke="#666" stroke-width="0.7"/>
<line x1="214.80" y1="113.92" x2="214.80" y2="117.05" stroke="#a2a2a2" stroke-width="1.0"/>
<line x1="214.80" y1="117.05" x2="214.80" y2="119.70" stroke="#6a6a90" stroke-width="0.6"/>
<line x1="213.90" y1="114.22" x2="215.70" y2="114.22" stroke="#666" stroke-width="0.7"/>
<line x1="217.74" y1="113.68" x2="217.74" y2="117.17" stroke="#a2a2a2" stroke-width="1.0"/>
<line x1="217.74" y1="117.17" x2="217.74" y2="119.70" stroke="#6a6a90" stroke-width="0.6"/>
<line x1="216.84" y1="113.98" x2="218.64" y2="113.98" stroke="#666" stroke-width="0.7"/>
<line x1="220.68" y1="113.20" x2="220.68" y2="116.81" stroke="#a2a2a2" stroke-width="1.0"/>
<line x1="220.68" y1="116.81" x2="220.68" y2="119.70" stroke="#6a6a90" stroke-width="0.6"/>
<line x1="219.78" y1="113.50" x2="221.58" y2="113.50" stroke="#666" stroke-width="0.7"/>
<line x1="223.62" y1="112.72" x2="223.62" y2="117.17" stroke="#a2a2a2" stroke-width="1.0"/>
<line x1="223.62" y1="117.17" x2="223.62" y2="119.70" stroke="#6a6a90" stroke-width="0.6"/>
<line x1="222.72" y1="113.02" x2="224.52" y2="113.02" stroke="#666" stroke-width="0.7"/>
<line x1="226.56" y1="112.48" x2="226.56" y2="117.17" stroke="#a2a2a2" stroke-width="1.0"/>
<line x1="226.56" y1="117.17" x2="226.56" y2="119.70" stroke="#6a6a90" stroke-width="0.6"/>
<line x1="225.66" y1="112.78" x2="227.46" y2="112.78" stroke="#666" stroke-width="0.7"/>
<line x1="229.50" y1="113.20" x2="229.50" y2="117.53" stroke="#a2a2a2" stroke-width="1.0"/>
<line x1="229.50" y1="117.53" x2="229.50" y2="119.70" stroke="#6a6a90" stroke-width="0.6"/>
<line x1="228.60" y1="113.50" x2="230.40" y2="113.50" stroke="#666" stroke-width="0.7"/>
<line x1="232.44" y1="113.44" x2="232.44" y2="117.53" stroke="#a2a2a2" stroke-width="1.0"/>
<line x1="232.44" y1="117.53" x2="232.44" y2="119.70" stroke="#6a6a90" stroke-width="0.6"/>
<line x1="231.54" y1="113.74" x2="233.34" y2="113.74" stroke="#666" stroke-width="0.7"/>
<line x1="235.38" y1="114.17" x2="235.38" y2="117.78" stroke="#a2a2a2" stroke-width="1.0"/>
<line x1="235.38" y1="117.78" x2="235.38" y2="119.70" stroke="#6a6a90" stroke-width="0.6"/>
<line x1="234.48" y1="114.47" x2="236.28" y2="114.47" stroke="#666" stroke-width="0.7"/>
<line x1="238.32" y1="114.89" x2="238.32" y2="118.02" stroke="#a2a2a2" stroke-width="1.0"/>
<line x1="238.32" y1="118.02" x2="238.32" y2="119.70" stroke="#6a6a90" stroke-width="0.6"/>
<line x1="237.42" y1="115.19" x2="239.22" y2="115.19" stroke="#666" stroke-width="0.7"/>
<rect x="150.20" y="81.20" width="90.00" height="38.50" fill="none" stroke="#7a7a7a" stroke-width="0.8"/>
<line x1="149.80" y1="119.70" x2="149.80" y2="118.70" stroke="#7a7a7a" stroke-width="0.5"/>
<line x1="149.80" y1="81.20" x2="149.80" y2="82.20" stroke="#7a7a7a" stroke-width="0.5"/>
<line x1="179.47" y1="119.70" x2="179.47" y2="118.70" stroke="#7a7a7a" stroke-width="0.5"/>
<line x1="179.47" y1="81.20" x2="179.47" y2="82.20" stroke="#7a7a7a" stroke-width="0.5"/>
<line x1="209.13" y1="119.70" x2="209.13" y2="118.70" stroke="#7a7a7a" stroke-width="0.5"/>
<line x1="209.13" y1="81.20" x2="209.13" y2="82.20" stroke="#7a7a7a" stroke-width="0.5"/>
<line x1="238.80" y1="119.70" x2="238.80" y2="118.70" stroke="#7a7a7a" stroke-width="0.5"/>
<line x1="238.80" y1="81.20" x2="238.80" y2="82.20" stroke="#7a7a7a" stroke-width="0.5"/>
<line x1="150.20" y1="119.70" x2="151.20" y2="119.70" stroke="#7a7a7a" stroke-width="0.5"/>
<line x1="240.20" y1="119.70" x2="239.20" y2="119.70" stroke="#7a7a7a" stroke-width="0.5"/>
<line x1="150.20" y1="107.67" x2="151.20" y2="107.67" stroke="#7a7a7a" stroke-width="0.5"/>
<line x1="240.20" y1="107.67" x2="239.20" y2="107.67" stroke="#7a7a7a" stroke-width="0.5"/>
<line x1="150.20" y1="95.64" x2="151.20" y2="95.64" stroke="#7a7a7a" stroke-width="0.5"/>
<line x1="240.20" y1="95.64" x2="239.20" y2="95.64" stroke="#7a7a7a" stroke-width="0.5"/>
<line x1="150.20" y1="83.61" x2="151.20" y2="83.61" stroke="#7a7a7a" stroke-width="0.5"/>
<line x1="240.20" y1="83.61" x2="239.20" y2="83.61" stroke="#7a7a7a" stroke-width="0.5"/>
<text transform="matrix(1.1001 0 0 1 127.45 9.70)" font-size="6.610" font-weight="bold" fill="#000" stroke="#000" stroke-width="0.22">(b)</text>
<text transform="matrix(0.9852 0 0 1 179.82 17.40)" font-size="7.551" font-weight="bold" fill="#000" stroke="#000" stroke-width="0.38">Target</text>
<text transform="matrix(0.9577 0 0 1 136.43 26.10)" font-size="7.443" font-weight="bold" fill="#000" stroke="#000" stroke-width="0.38">150</text>
<text transform="matrix(1.0528 0 0 1 136.01 38.40)" font-size="7.014" font-weight="bold" fill="#000" stroke="#000" stroke-width="0.38">100</text>
<text transform="matrix(1.0243 0 0 1 139.18 50.60)" font-size="6.871" font-weight="bold" fill="#000" stroke="#000" stroke-width="0.38">50</text>
<text transform="matrix(0.9974 0 0 1 143.33 65.30)" font-size="6.586" font-weight="bold" fill="#000" stroke="#000" stroke-width="0.38">0</text>
<text transform="matrix(1.0613 0 0 1 148.11 69.00)" font-size="6.586" font-weight="bold" fill="#000" stroke="#000" stroke-width="0.38">0</text>
<text transform="matrix(1.1259 0 0 1 175.18 69.60)" font-size="7.014" font-weight="bold" fill="#000" stroke="#000" stroke-width="0.38">100</text>
<text transform="matrix(1.0329 0 0 1 204.84 69.60)" font-size="7.014" font-weight="bold" fill="#000" stroke="#000" stroke-width="0.38">200</text>
<text transform="matrix(1.0710 0 0 1 234.70 69.60)" font-size="7.014" font-weight="bold" fill="#000" stroke="#000" stroke-width="0.38">300</text>
<text transform="matrix(1.1015 0 0 1 181.42 75.70)" font-size="6.497" font-weight="bold" fill="#000" stroke="#000" stroke-width="0.38">Time, ms</text>
<text transform="matrix(0 -1.0490 1 0 135.10 65.82)" font-size="6.772" font-weight="bold" fill="#000" stroke="#000" stroke-width="0.38">Spikes per bin</text>
<text transform="matrix(0.9922 0 0 1 136.01 86.40)" font-size="7.443" font-weight="bold" fill="#000" stroke="#000" stroke-width="0.38">150</text>
<text transform="matrix(1.0116 0 0 1 136.01 98.60)" font-size="7.300" font-weight="bold" fill="#000" stroke="#000" stroke-width="0.38">100</text>
<text transform="matrix(1.1223 0 0 1 139.47 110.60)" font-size="6.443" font-weight="bold" fill="#000" stroke="#000" stroke-width="0.38">50</text>
<text transform="matrix(0.9472 0 0 1 144.72 124.30)" font-size="7.157" font-weight="bold" fill="#000" stroke="#000" stroke-width="0.38">0</text>
<text transform="matrix(0.8640 0 0 1 148.65 129.30)" font-size="6.871" font-weight="bold" fill="#000" stroke="#000" stroke-width="0.38">0</text>
<text transform="matrix(1.1992 0 0 1 175.18 129.30)" font-size="6.586" font-weight="bold" fill="#000" stroke="#000" stroke-width="0.38">100</text>
<text transform="matrix(1.1002 0 0 1 204.84 129.30)" font-size="6.586" font-weight="bold" fill="#000" stroke="#000" stroke-width="0.38">200</text>
<text transform="matrix(1.1407 0 0 1 234.70 129.30)" font-size="6.586" font-weight="bold" fill="#000" stroke="#000" stroke-width="0.38">300</text>
<text transform="matrix(1.0428 0 0 1 179.62 136.20)" font-size="6.772" font-weight="bold" fill="#000" stroke="#000" stroke-width="0.38">Time, ms</text>
<text transform="matrix(0 -1.0884 1 0 134.90 125.33)" font-size="6.772" font-weight="bold" fill="#000" stroke="#000" stroke-width="0.38">Spikes per bin</text>
<text transform="matrix(1.0870 0 0 1 200.39 90.70)" font-size="6.771" font-weight="normal" fill="#000" stroke="#000" stroke-width="0.12">CPP+CNQX 50 µM</text>
<text transform="matrix(1.0383 0 0 1 215.57 99.50)" font-size="7.228" font-weight="normal" fill="#000" stroke="#000" stroke-width="0.12">in Source</text>
<!-- panel c -->
<line x1="297.20" y1="27.70" x2="297.20" y2="86.40" stroke="#a8a8a8" stroke-width="0.8"/>
<line x1="297.20" y1="86.40" x2="372.70" y2="86.40" stroke="#a8a8a8" stroke-width="0.8"/>
<line x1="297.20" y1="86.40" x2="298.20" y2="86.40" stroke="#a8a8a8" stroke-width="0.5"/>
<line x1="297.20" y1="67.17" x2="298.20" y2="67.17" stroke="#a8a8a8" stroke-width="0.5"/>
<line x1="297.20" y1="47.93" x2="298.20" y2="47.93" stroke="#a8a8a8" stroke-width="0.5"/>
<line x1="297.20" y1="28.70" x2="298.20" y2="28.70" stroke="#a8a8a8" stroke-width="0.5"/>
<rect x="309.20" y="47.93" width="13.20" height="38.47" fill="#fff" stroke="#666" stroke-width="0.7"/>
<line x1="315.60" y1="32.16" x2="315.60" y2="64.09" stroke="#888" stroke-width="0.7"/>
<line x1="314.50" y1="32.16" x2="316.70" y2="32.16" stroke="#888" stroke-width="0.7"/>
<line x1="314.50" y1="64.09" x2="316.70" y2="64.09" stroke="#888" stroke-width="0.7"/>
<rect x="315.00" y="47.33" width="1.30" height="1.30" fill="#000" stroke="none" stroke-width="1"/>
<rect x="333.80" y="46.78" width="13.80" height="39.62" fill="#fff" stroke="#666" stroke-width="0.7"/>
<line x1="340.60" y1="42.16" x2="340.60" y2="51.40" stroke="#666" stroke-width="0.7"/>
<line x1="339.50" y1="42.16" x2="341.70" y2="42.16" stroke="#666" stroke-width="0.7"/>
<line x1="339.50" y1="51.40" x2="341.70" y2="51.40" stroke="#666" stroke-width="0.7"/>
<rect x="340.00" y="46.18" width="1.30" height="1.30" fill="#000" stroke="none" stroke-width="1"/>
<rect x="347.60" y="44.09" width="14.20" height="42.31" fill="#000" stroke="none" stroke-width="1"/>
<line x1="354.60" y1="39.66" x2="354.60" y2="44.09" stroke="#777" stroke-width="0.7"/>
<line x1="353.50" y1="39.66" x2="355.70" y2="39.66" stroke="#777" stroke-width="0.7"/>
<line x1="353.50" y1="44.09" x2="355.70" y2="44.09" stroke="#777" stroke-width="0.7"/>
<path d="M341.0 37.0 V35.5 H353.9 V37.0" fill="none" stroke="#000" stroke-width="0.9"/>
<text transform="matrix(1.0519 0 0 1 343.09 35.11)" font-size="6.351" font-weight="bold" fill="#000" stroke="#000" stroke-width="0.25">***</text>
<text transform="matrix(1.2064 0 0 1 264.42 22.45)" font-size="6.396" font-weight="bold" fill="#000" stroke="#000" stroke-width="0.22">(c)</text>
<text transform="matrix(1.1356 0 0 1 282.99 31.10)" font-size="6.729" font-weight="bold" fill="#000" stroke="#000" stroke-width="0.38">150</text>
<text transform="matrix(1.1070 0 0 1 283.31 50.00)" font-size="6.729" font-weight="bold" fill="#000" stroke="#000" stroke-width="0.38">100</text>
<text transform="matrix(0.9912 0 0 1 285.96 70.00)" font-size="7.586" font-weight="bold" fill="#000" stroke="#000" stroke-width="0.38">50</text>
<text transform="matrix(1.0151 0 0 1 288.69 88.90)" font-size="7.300" font-weight="bold" fill="#000" stroke="#000" stroke-width="0.38">0</text>
<text transform="matrix(1.1463 0 0 1 312.80 96.00)" font-size="6.536" font-weight="bold" fill="#000" stroke="#000" stroke-width="0.38">A</text>
<text transform="matrix(1.0584 0 0 1 346.04 96.00)" font-size="6.536" font-weight="bold" fill="#000" stroke="#000" stroke-width="0.38">B</text>
<text transform="matrix(0 -0.9177 1 0 279.90 59.55)" font-size="7.300" font-weight="bold" fill="#000" stroke="#000" stroke-width="0.38">ES, %</text>
<rect x="354.80" y="15.90" width="13.20" height="4.60" fill="#fff" stroke="#777" stroke-width="0.8"/>
<rect x="354.40" y="23.60" width="13.80" height="6.00" fill="#000" stroke="none" stroke-width="1"/>
<text transform="matrix(1.1916 0 0 1 370.58 21.50)" font-size="6.400" font-weight="normal" fill="#000" stroke="#000" stroke-width="0.12">Control</text>
<text transform="matrix(1.0541 0 0 1 370.59 30.30)" font-size="7.057" font-weight="normal" fill="#000" stroke="#000" stroke-width="0.12">CPP+CNQX</text>
<!-- panel d -->
<line x1="451.80" y1="25.70" x2="451.80" y2="86.10" stroke="#a8a8a8" stroke-width="0.8"/>
<line x1="451.80" y1="86.10" x2="500.00" y2="86.10" stroke="#a8a8a8" stroke-width="0.8"/>
<line x1="451.80" y1="86.10" x2="452.80" y2="86.10" stroke="#a8a8a8" stroke-width="0.5"/>
<line x1="451.80" y1="74.02" x2="452.80" y2="74.02" stroke="#a8a8a8" stroke-width="0.5"/>
<line x1="451.80" y1="61.94" x2="452.80" y2="61.94" stroke="#a8a8a8" stroke-width="0.5"/>
<line x1="451.80" y1="49.86" x2="452.80" y2="49.86" stroke="#a8a8a8" stroke-width="0.5"/>
<line x1="451.80" y1="37.78" x2="452.80" y2="37.78" stroke="#a8a8a8" stroke-width="0.5"/>
<line x1="451.80" y1="25.70" x2="452.80" y2="25.70" stroke="#a8a8a8" stroke-width="0.5"/>
<rect x="463.80" y="52.64" width="13.30" height="33.46" fill="#fff" stroke="#555" stroke-width="0.7"/>
<line x1="470.30" y1="36.09" x2="470.30" y2="69.43" stroke="#777" stroke-width="0.7"/>
<line x1="469.20" y1="36.09" x2="471.40" y2="36.09" stroke="#777" stroke-width="0.7"/>
<line x1="469.20" y1="69.43" x2="471.40" y2="69.43" stroke="#777" stroke-width="0.7"/>
<rect x="477.10" y="57.71" width="14.30" height="28.39" fill="#000" stroke="none" stroke-width="1"/>
<line x1="484.60" y1="44.06" x2="484.60" y2="57.71" stroke="#777" stroke-width="0.7"/>
<line x1="483.50" y1="44.06" x2="485.70" y2="44.06" stroke="#777" stroke-width="0.7"/>
<line x1="483.50" y1="57.71" x2="485.70" y2="57.71" stroke="#777" stroke-width="0.7"/>
<path d="M470.5 24.8 V23.3 H483.9 V24.8" fill="none" stroke="#000" stroke-width="0.9"/>
<text transform="matrix(0.9737 0 0 1 476.00 23.33)" font-size="5.811" font-weight="bold" fill="#000" stroke="#000" stroke-width="0.25">*</text>
<text transform="matrix(1.1642 0 0 1 417.73 21.30)" font-size="6.610" font-weight="bold" fill="#000" stroke="#000" stroke-width="0.22">(d)</text>
<text transform="matrix(1.0563 0 0 1 438.73 28.90)" font-size="7.157" font-weight="bold" fill="#000" stroke="#000" stroke-width="0.38">250</text>
<text transform="matrix(1.0598 0 0 1 438.93 41.00)" font-size="7.014" font-weight="bold" fill="#000" stroke="#000" stroke-width="0.38">200</text>
<text transform="matrix(1.0379 0 0 1 438.70 53.80)" font-size="7.300" font-weight="bold" fill="#000" stroke="#000" stroke-width="0.38">150</text>
<text transform="matrix(0.9397 0 0 1 438.73 65.90)" font-size="7.586" font-weight="bold" fill="#000" stroke="#000" stroke-width="0.38">100</text>
<text transform="matrix(1.0102 0 0 1 441.66 77.90)" font-size="7.729" font-weight="bold" fill="#000" stroke="#000" stroke-width="0.38">50</text>
<text transform="matrix(1.0239 0 0 1 444.79 90.70)" font-size="7.443" font-weight="bold" fill="#000" stroke="#000" stroke-width="0.38">0</text>
<text transform="matrix(1.1127 0 0 1 463.09 95.50)" font-size="6.634" font-weight="bold" fill="#000" stroke="#000" stroke-width="0.38">Chamber B</text>
<text transform="matrix(0 -0.9771 1 0 436.00 78.88)" font-size="7.462" font-weight="bold" fill="#000" stroke="#000" stroke-width="0.38">Max delay, ms</text>
<rect x="489.90" y="14.90" width="14.20" height="5.10" fill="#fff" stroke="#777" stroke-width="0.8"/>
<rect x="489.50" y="23.40" width="15.00" height="5.60" fill="#000" stroke="none" stroke-width="1"/>
<text transform="matrix(1.0814 0 0 1 507.19 21.00)" font-size="6.814" font-weight="normal" fill="#000" stroke="#000" stroke-width="0.12">Control</text>
<text transform="matrix(1.0179 0 0 1 507.19 30.20)" font-size="7.200" font-weight="normal" fill="#000" stroke="#000" stroke-width="0.12">CPP+CNQX</text>
<!-- panel e -->
<rect x="30.30" y="165.80" width="66.30" height="94.00" fill="#00008f" stroke="none" stroke-width="1"/>
<path fill="#00009f" d="M30.3 173.63h3.82v1.57h-3.82zM38.0 173.63h1.27v1.57h-1.27zM83.8 173.63h5.10v1.57h-5.10zM91.5 173.63h5.10v1.57h-5.10zM30.3 176.77h3.82v1.57h-3.82zM89.0 176.77h7.65v1.57h-7.65zM30.3 186.17h5.10v1.57h-5.10zM86.4 186.17h10.20v1.57h-10.20zM30.3 192.43h1.27v1.57h-1.27zM90.2 192.43h6.38v1.57h-6.38zM30.3 233.17h3.82v1.57h-3.82zM35.4 233.17h2.55v1.57h-2.55z"/>
<path fill="#0000af" d="M34.1 173.63h3.82v1.57h-3.82zM39.2 173.63h1.27v1.57h-1.27zM78.8 173.63h1.27v1.57h-1.27zM81.3 173.63h2.55v1.57h-2.55zM89.0 173.63h2.55v1.57h-2.55zM34.1 176.77h5.10v1.57h-5.10zM81.3 176.77h7.65v1.57h-7.65zM35.4 186.17h11.47v1.57h-11.47zM81.3 186.17h5.10v1.57h-5.10zM92.8 189.30h1.27v1.57h-1.27zM95.3 189.30h1.27v1.57h-1.27zM31.6 192.43h2.55v1.57h-2.55zM35.4 192.43h2.55v1.57h-2.55zM40.5 192.43h1.27v1.57h-1.27zM80.0 192.43h2.55v1.57h-2.55zM83.8 192.43h6.38v1.57h-6.38zM89.0 201.83h7.65v1.57h-7.65zM32.9 220.63h1.27v1.57h-1.27zM46.9 220.63h1.27v1.57h-1.27zM34.1 233.17h1.27v1.57h-1.27zM38.0 233.17h1.27v1.57h-1.27zM41.8 233.17h2.55v1.57h-2.55zM45.6 233.17h1.27v1.57h-1.27zM50.7 233.17h1.27v1.57h-1.27zM58.3 233.17h2.55v1.57h-2.55zM92.8 233.17h1.27v1.57h-1.27zM30.3 239.43h5.10v1.57h-5.10zM41.8 239.43h1.27v1.57h-1.27zM44.3 239.43h2.55v1.57h-2.55zM48.1 239.43h1.27v1.57h-1.27zM53.2 239.43h1.27v1.57h-1.27zM92.8 239.43h2.55v1.57h-2.55z"/>
<path fill="#0000bf" d="M40.5 173.63h5.10v1.57h-5.10zM48.1 173.63h1.27v1.57h-1.27zM50.7 173.63h5.10v1.57h-5.10zM60.9 173.63h2.55v1.57h-2.55zM66.0 173.63h1.27v1.57h-1.27zM77.5 173.63h1.27v1.57h-1.27zM80.0 173.63h1.27v1.57h-1.27zM39.2 176.77h5.10v1.57h-5.10zM45.6 176.77h2.55v1.57h-2.55zM69.8 176.77h1.27v1.57h-1.27zM76.2 176.77h5.10v1.57h-5.10zM95.3 178.33h1.27v1.57h-1.27zM46.9 186.17h1.27v1.57h-1.27zM49.4 186.17h1.27v1.57h-1.27zM59.6 186.17h2.55v1.57h-2.55zM63.5 186.17h3.82v1.57h-3.82zM69.8 186.17h11.47v1.57h-11.47zM30.3 189.30h1.27v1.57h-1.27zM32.9 189.30h2.55v1.57h-2.55zM91.5 189.30h1.27v1.57h-1.27zM94.0 189.30h1.27v1.57h-1.27zM34.1 192.43h1.27v1.57h-1.27zM38.0 192.43h2.55v1.57h-2.55zM45.6 192.43h1.27v1.57h-1.27zM48.1 192.43h2.55v1.57h-2.55zM74.9 192.43h3.82v1.57h-3.82zM82.6 192.43h1.27v1.57h-1.27zM30.3 201.83h1.27v1.57h-1.27zM83.8 201.83h5.10v1.57h-5.10zM30.3 220.63h2.55v1.57h-2.55zM34.1 220.63h7.65v1.57h-7.65zM43.0 220.63h3.82v1.57h-3.82zM48.1 220.63h8.92v1.57h-8.92zM64.7 220.63h2.55v1.57h-2.55zM80.0 220.63h2.55v1.57h-2.55zM89.0 220.63h1.27v1.57h-1.27zM92.8 220.63h1.27v1.57h-1.27zM39.2 233.17h2.55v1.57h-2.55zM44.3 233.17h1.27v1.57h-1.27zM46.9 233.17h3.82v1.57h-3.82zM57.1 233.17h1.27v1.57h-1.27zM63.5 233.17h1.27v1.57h-1.27zM68.5 233.17h3.82v1.57h-3.82zM78.8 233.17h2.55v1.57h-2.55zM82.6 233.17h2.55v1.57h-2.55zM87.7 233.17h1.27v1.57h-1.27zM91.5 233.17h1.27v1.57h-1.27zM94.0 233.17h2.55v1.57h-2.55zM35.4 239.43h6.38v1.57h-6.38zM43.0 239.43h1.27v1.57h-1.27zM46.9 239.43h1.27v1.57h-1.27zM49.4 239.43h1.27v1.57h-1.27zM54.5 239.43h1.27v1.57h-1.27zM59.6 239.43h3.82v1.57h-3.82zM67.3 239.43h2.55v1.57h-2.55zM73.6 239.43h1.27v1.57h-1.27zM91.5 239.43h1.27v1.57h-1.27zM95.3 239.43h1.27v1.57h-1.27z"/>
<path fill="#0000cf" d="M45.6 173.63h2.55v1.57h-2.55zM49.4 173.63h1.27v1.57h-1.27zM58.3 173.63h2.55v1.57h-2.55zM64.7 173.63h1.27v1.57h-1.27zM67.3 173.63h2.55v1.57h-2.55zM71.1 173.63h6.38v1.57h-6.38zM44.3 176.77h1.27v1.57h-1.27zM48.1 176.77h1.27v1.57h-1.27zM52.0 176.77h2.55v1.57h-2.55zM55.8 176.77h1.27v1.57h-1.27zM62.2 176.77h3.82v1.57h-3.82zM67.3 176.77h1.27v1.57h-1.27zM71.1 176.77h1.27v1.57h-1.27zM73.6 176.77h2.55v1.57h-2.55zM48.1 186.17h1.27v1.57h-1.27zM50.7 186.17h3.82v1.57h-3.82zM55.8 186.17h3.82v1.57h-3.82zM62.2 186.17h1.27v1.57h-1.27zM67.3 186.17h2.55v1.57h-2.55zM31.6 189.30h1.27v1.57h-1.27zM35.4 189.30h3.82v1.57h-3.82zM83.8 189.30h7.65v1.57h-7.65zM41.8 192.43h3.82v1.57h-3.82zM46.9 192.43h1.27v1.57h-1.27zM50.7 192.43h1.27v1.57h-1.27zM57.1 192.43h5.10v1.57h-5.10zM68.5 192.43h1.27v1.57h-1.27zM71.1 192.43h1.27v1.57h-1.27zM73.6 192.43h1.27v1.57h-1.27zM78.8 192.43h1.27v1.57h-1.27zM31.6 201.83h5.10v1.57h-5.10zM39.2 201.83h3.82v1.57h-3.82zM78.8 201.83h1.27v1.57h-1.27zM81.3 201.83h2.55v1.57h-2.55zM41.8 220.63h1.27v1.57h-1.27zM57.1 220.63h3.82v1.57h-3.82zM67.3 220.63h2.55v1.57h-2.55zM90.2 220.63h2.55v1.57h-2.55zM94.0 220.63h2.55v1.57h-2.55zM36.7 223.77h2.55v1.57h-2.55zM36.7 231.60h1.27v1.57h-1.27zM52.0 233.17h5.10v1.57h-5.10zM60.9 233.17h2.55v1.57h-2.55zM64.7 233.17h3.82v1.57h-3.82zM72.4 233.17h2.55v1.57h-2.55zM76.2 233.17h1.27v1.57h-1.27zM81.3 233.17h1.27v1.57h-1.27zM85.1 233.17h2.55v1.57h-2.55zM89.0 233.17h2.55v1.57h-2.55zM50.7 239.43h2.55v1.57h-2.55zM55.8 239.43h3.82v1.57h-3.82zM63.5 239.43h2.55v1.57h-2.55zM69.8 239.43h3.82v1.57h-3.82zM74.9 239.43h1.27v1.57h-1.27zM80.0 239.43h5.10v1.57h-5.10zM86.4 239.43h5.10v1.57h-5.10z"/>
<path fill="#0000df" d="M55.8 173.63h2.55v1.57h-2.55zM63.5 173.63h1.27v1.57h-1.27zM69.8 173.63h1.27v1.57h-1.27zM49.4 176.77h2.55v1.57h-2.55zM54.5 176.77h1.27v1.57h-1.27zM57.1 176.77h1.27v1.57h-1.27zM60.9 176.77h1.27v1.57h-1.27zM66.0 176.77h1.27v1.57h-1.27zM68.5 176.77h1.27v1.57h-1.27zM72.4 176.77h1.27v1.57h-1.27zM94.0 178.33h1.27v1.57h-1.27zM54.5 186.17h1.27v1.57h-1.27zM39.2 189.30h1.27v1.57h-1.27zM80.0 189.30h2.55v1.57h-2.55zM62.2 192.43h2.55v1.57h-2.55zM67.3 192.43h1.27v1.57h-1.27zM69.8 192.43h1.27v1.57h-1.27zM72.4 192.43h1.27v1.57h-1.27zM95.3 200.27h1.27v1.57h-1.27zM36.7 201.83h2.55v1.57h-2.55zM44.3 201.83h1.27v1.57h-1.27zM77.5 201.83h1.27v1.57h-1.27zM60.9 220.63h3.82v1.57h-3.82zM69.8 220.63h1.27v1.57h-1.27zM73.6 220.63h1.27v1.57h-1.27zM76.2 220.63h3.82v1.57h-3.82zM82.6 220.63h1.27v1.57h-1.27zM85.1 220.63h3.82v1.57h-3.82zM35.4 223.77h1.27v1.57h-1.27zM40.5 223.77h6.38v1.57h-6.38zM35.4 231.60h1.27v1.57h-1.27zM38.0 231.60h1.27v1.57h-1.27zM46.9 231.60h1.27v1.57h-1.27zM74.9 233.17h1.27v1.57h-1.27zM77.5 233.17h1.27v1.57h-1.27zM66.0 239.43h1.27v1.57h-1.27zM76.2 239.43h3.82v1.57h-3.82zM85.1 239.43h1.27v1.57h-1.27zM35.4 248.83h1.27v1.57h-1.27zM41.8 248.83h1.27v1.57h-1.27z"/>
<path fill="#0000ef" d="M58.3 176.77h2.55v1.57h-2.55zM30.3 178.33h2.55v1.57h-2.55zM91.5 178.33h2.55v1.57h-2.55zM95.3 184.60h1.27v1.57h-1.27zM40.5 189.30h1.27v1.57h-1.27zM45.6 189.30h2.55v1.57h-2.55zM77.5 189.30h2.55v1.57h-2.55zM82.6 189.30h1.27v1.57h-1.27zM52.0 192.43h5.10v1.57h-5.10zM64.7 192.43h2.55v1.57h-2.55zM92.8 200.27h1.27v1.57h-1.27zM43.0 201.83h1.27v1.57h-1.27zM46.9 201.83h2.55v1.57h-2.55zM72.4 201.83h1.27v1.57h-1.27zM80.0 201.83h1.27v1.57h-1.27zM71.1 220.63h2.55v1.57h-2.55zM74.9 220.63h1.27v1.57h-1.27zM83.8 220.63h1.27v1.57h-1.27zM31.6 223.77h1.27v1.57h-1.27zM34.1 223.77h1.27v1.57h-1.27zM46.9 223.77h3.82v1.57h-3.82zM30.3 231.60h1.27v1.57h-1.27zM32.9 231.60h2.55v1.57h-2.55zM41.8 231.60h1.27v1.57h-1.27zM45.6 231.60h1.27v1.57h-1.27zM48.1 231.60h1.27v1.57h-1.27zM92.8 231.60h1.27v1.57h-1.27zM95.3 231.60h1.27v1.57h-1.27zM30.3 248.83h1.27v1.57h-1.27zM32.9 248.83h1.27v1.57h-1.27zM38.0 248.83h2.55v1.57h-2.55zM43.0 248.83h1.27v1.57h-1.27z"/>
<path fill="#0000ff" d="M35.4 178.33h2.55v1.57h-2.55zM82.6 178.33h1.27v1.57h-1.27zM89.0 178.33h1.27v1.57h-1.27zM94.0 184.60h1.27v1.57h-1.27zM43.0 189.30h2.55v1.57h-2.55zM48.1 189.30h1.27v1.57h-1.27zM30.3 200.27h1.27v1.57h-1.27zM91.5 200.27h1.27v1.57h-1.27zM45.6 201.83h1.27v1.57h-1.27zM49.4 201.83h1.27v1.57h-1.27zM53.2 201.83h2.55v1.57h-2.55zM58.3 201.83h3.82v1.57h-3.82zM64.7 201.83h1.27v1.57h-1.27zM68.5 201.83h2.55v1.57h-2.55zM73.6 201.83h3.82v1.57h-3.82zM30.3 223.77h1.27v1.57h-1.27zM32.9 223.77h1.27v1.57h-1.27zM39.2 223.77h1.27v1.57h-1.27zM54.5 223.77h2.55v1.57h-2.55zM78.8 223.77h1.27v1.57h-1.27zM91.5 223.77h1.27v1.57h-1.27zM31.6 231.60h1.27v1.57h-1.27zM40.5 231.60h1.27v1.57h-1.27zM44.3 231.60h1.27v1.57h-1.27zM91.5 231.60h1.27v1.57h-1.27zM94.0 231.60h1.27v1.57h-1.27zM32.9 241.00h1.27v1.57h-1.27zM31.6 248.83h1.27v1.57h-1.27zM36.7 248.83h1.27v1.57h-1.27zM40.5 248.83h1.27v1.57h-1.27zM44.3 248.83h1.27v1.57h-1.27z"/>
<path fill="#0010ff" d="M80.0 178.33h1.27v1.57h-1.27zM86.4 178.33h2.55v1.57h-2.55zM90.2 178.33h1.27v1.57h-1.27zM95.3 183.03h1.27v1.57h-1.27zM31.6 184.60h1.27v1.57h-1.27zM91.5 184.60h2.55v1.57h-2.55zM94.0 187.73h1.27v1.57h-1.27zM41.8 189.30h1.27v1.57h-1.27zM52.0 189.30h2.55v1.57h-2.55zM57.1 189.30h2.55v1.57h-2.55zM60.9 189.30h1.27v1.57h-1.27zM72.4 189.30h2.55v1.57h-2.55zM76.2 189.30h1.27v1.57h-1.27zM94.0 200.27h1.27v1.57h-1.27zM55.8 201.83h2.55v1.57h-2.55zM67.3 201.83h1.27v1.57h-1.27zM50.7 223.77h2.55v1.57h-2.55zM59.6 223.77h2.55v1.57h-2.55zM67.3 223.77h1.27v1.57h-1.27zM72.4 223.77h3.82v1.57h-3.82zM80.0 223.77h1.27v1.57h-1.27zM95.3 223.77h1.27v1.57h-1.27zM39.2 231.60h1.27v1.57h-1.27zM43.0 231.60h1.27v1.57h-1.27zM49.4 231.60h2.55v1.57h-2.55zM87.7 231.60h1.27v1.57h-1.27zM31.6 241.00h1.27v1.57h-1.27zM34.1 248.83h1.27v1.57h-1.27zM52.0 248.83h1.27v1.57h-1.27zM91.5 248.83h1.27v1.57h-1.27z"/>
<path fill="#0020ff" d="M95.3 175.20h1.27v1.57h-1.27zM32.9 178.33h1.27v1.57h-1.27zM78.8 178.33h1.27v1.57h-1.27zM81.3 178.33h1.27v1.57h-1.27zM83.8 178.33h2.55v1.57h-2.55zM91.5 181.47h1.27v1.57h-1.27zM30.3 184.60h1.27v1.57h-1.27zM32.9 184.60h1.27v1.57h-1.27zM31.6 187.73h1.27v1.57h-1.27zM95.3 187.73h1.27v1.57h-1.27zM62.2 189.30h1.27v1.57h-1.27zM66.0 189.30h1.27v1.57h-1.27zM69.8 189.30h1.27v1.57h-1.27zM74.9 189.30h1.27v1.57h-1.27zM31.6 200.27h2.55v1.57h-2.55zM90.2 200.27h1.27v1.57h-1.27zM50.7 201.83h1.27v1.57h-1.27zM62.2 201.83h1.27v1.57h-1.27zM66.0 201.83h1.27v1.57h-1.27zM71.1 201.83h1.27v1.57h-1.27zM53.2 223.77h1.27v1.57h-1.27zM57.1 223.77h2.55v1.57h-2.55zM68.5 223.77h1.27v1.57h-1.27zM77.5 223.77h1.27v1.57h-1.27zM85.1 223.77h2.55v1.57h-2.55zM90.2 223.77h1.27v1.57h-1.27zM92.8 223.77h1.27v1.57h-1.27zM55.8 231.60h1.27v1.57h-1.27zM69.8 231.60h1.27v1.57h-1.27zM48.1 248.83h1.27v1.57h-1.27zM50.7 248.83h1.27v1.57h-1.27zM85.1 248.83h2.55v1.57h-2.55z"/>
<path fill="#0030ff" d="M94.0 175.20h1.27v1.57h-1.27zM34.1 178.33h1.27v1.57h-1.27zM45.6 178.33h1.27v1.57h-1.27zM92.8 179.90h3.82v1.57h-3.82zM30.3 181.47h1.27v1.57h-1.27zM90.2 181.47h1.27v1.57h-1.27zM34.1 184.60h1.27v1.57h-1.27zM87.7 184.60h1.27v1.57h-1.27zM90.2 184.60h1.27v1.57h-1.27zM32.9 187.73h1.27v1.57h-1.27zM87.7 187.73h1.27v1.57h-1.27zM92.8 187.73h1.27v1.57h-1.27zM49.4 189.30h2.55v1.57h-2.55zM54.5 189.30h2.55v1.57h-2.55zM59.6 189.30h1.27v1.57h-1.27zM71.1 189.30h1.27v1.57h-1.27zM92.8 198.70h1.27v1.57h-1.27zM35.4 200.27h1.27v1.57h-1.27zM52.0 201.83h1.27v1.57h-1.27zM63.5 201.83h1.27v1.57h-1.27zM62.2 223.77h3.82v1.57h-3.82zM71.1 223.77h1.27v1.57h-1.27zM87.7 223.77h2.55v1.57h-2.55zM94.0 223.77h1.27v1.57h-1.27zM34.1 225.33h1.27v1.57h-1.27zM54.5 231.60h1.27v1.57h-1.27zM66.0 231.60h1.27v1.57h-1.27zM68.5 231.60h1.27v1.57h-1.27zM78.8 231.60h1.27v1.57h-1.27zM86.4 231.60h1.27v1.57h-1.27zM89.0 231.60h1.27v1.57h-1.27zM39.2 241.00h1.27v1.57h-1.27zM45.6 248.83h2.55v1.57h-2.55zM49.4 248.83h1.27v1.57h-1.27zM54.5 248.83h1.27v1.57h-1.27zM72.4 248.83h2.55v1.57h-2.55zM81.3 248.83h1.27v1.57h-1.27zM87.7 248.83h1.27v1.57h-1.27zM92.8 248.83h1.27v1.57h-1.27z"/>
<path fill="#0040ff" d="M32.9 175.20h1.27v1.57h-1.27zM91.5 175.20h1.27v1.57h-1.27zM40.5 178.33h1.27v1.57h-1.27zM77.5 178.33h1.27v1.57h-1.27zM94.0 181.47h2.55v1.57h-2.55zM92.8 183.03h2.55v1.57h-2.55zM36.7 184.60h1.27v1.57h-1.27zM86.4 184.60h1.27v1.57h-1.27zM30.3 187.73h1.27v1.57h-1.27zM90.2 187.73h1.27v1.57h-1.27zM63.5 189.30h2.55v1.57h-2.55zM67.3 189.30h2.55v1.57h-2.55zM95.3 190.87h1.27v1.57h-1.27zM30.3 194.00h1.27v1.57h-1.27zM91.5 195.57h2.55v1.57h-2.55zM91.5 198.70h1.27v1.57h-1.27zM36.7 200.27h1.27v1.57h-1.27zM83.8 200.27h2.55v1.57h-2.55zM81.3 223.77h2.55v1.57h-2.55zM52.0 231.60h2.55v1.57h-2.55zM59.6 231.60h1.27v1.57h-1.27zM63.5 231.60h2.55v1.57h-2.55zM67.3 231.60h1.27v1.57h-1.27zM77.5 231.60h1.27v1.57h-1.27zM80.0 231.60h1.27v1.57h-1.27zM85.1 231.60h1.27v1.57h-1.27zM90.2 231.60h1.27v1.57h-1.27zM41.8 237.87h1.27v1.57h-1.27zM30.3 241.00h1.27v1.57h-1.27zM34.1 241.00h2.55v1.57h-2.55zM32.9 242.57h1.27v1.57h-1.27zM30.3 247.27h1.27v1.57h-1.27zM32.9 247.27h1.27v1.57h-1.27zM53.2 248.83h1.27v1.57h-1.27zM55.8 248.83h1.27v1.57h-1.27zM94.0 248.83h2.55v1.57h-2.55z"/>
<path fill="#0050ff" d="M30.3 175.20h1.27v1.57h-1.27zM34.1 175.20h1.27v1.57h-1.27zM90.2 175.20h1.27v1.57h-1.27zM38.0 178.33h2.55v1.57h-2.55zM41.8 178.33h1.27v1.57h-1.27zM44.3 178.33h1.27v1.57h-1.27zM35.4 184.60h1.27v1.57h-1.27zM89.0 184.60h1.27v1.57h-1.27zM85.1 187.73h2.55v1.57h-2.55zM91.5 187.73h1.27v1.57h-1.27zM30.3 190.87h1.27v1.57h-1.27zM87.7 190.87h3.82v1.57h-3.82zM94.0 190.87h1.27v1.57h-1.27zM95.3 194.00h1.27v1.57h-1.27zM34.1 200.27h1.27v1.57h-1.27zM89.0 200.27h1.27v1.57h-1.27zM31.6 222.20h1.27v1.57h-1.27zM38.0 222.20h1.27v1.57h-1.27zM41.8 222.20h1.27v1.57h-1.27zM66.0 223.77h1.27v1.57h-1.27zM83.8 223.77h1.27v1.57h-1.27zM30.3 225.33h1.27v1.57h-1.27zM32.9 225.33h1.27v1.57h-1.27zM57.1 231.60h2.55v1.57h-2.55zM60.9 231.60h1.27v1.57h-1.27zM32.9 237.87h1.27v1.57h-1.27zM40.5 237.87h1.27v1.57h-1.27zM36.7 241.00h2.55v1.57h-2.55zM45.6 241.00h1.27v1.57h-1.27zM54.5 241.00h1.27v1.57h-1.27zM36.7 245.70h1.27v1.57h-1.27zM31.6 247.27h1.27v1.57h-1.27zM36.7 247.27h1.27v1.57h-1.27zM53.2 247.27h1.27v1.57h-1.27zM59.6 248.83h1.27v1.57h-1.27zM63.5 248.83h1.27v1.57h-1.27zM68.5 248.83h1.27v1.57h-1.27zM82.6 248.83h2.55v1.57h-2.55zM89.0 248.83h1.27v1.57h-1.27z"/>
<path fill="#0060ff" d="M92.8 175.20h1.27v1.57h-1.27zM69.8 178.33h1.27v1.57h-1.27zM73.6 178.33h1.27v1.57h-1.27zM31.6 179.90h1.27v1.57h-1.27zM90.2 179.90h1.27v1.57h-1.27zM31.6 181.47h1.27v1.57h-1.27zM92.8 181.47h1.27v1.57h-1.27zM30.3 183.03h1.27v1.57h-1.27zM34.1 183.03h1.27v1.57h-1.27zM38.0 184.60h1.27v1.57h-1.27zM81.3 184.60h1.27v1.57h-1.27zM34.1 187.73h1.27v1.57h-1.27zM89.0 187.73h1.27v1.57h-1.27zM91.5 190.87h1.27v1.57h-1.27zM92.8 194.00h1.27v1.57h-1.27zM94.0 195.57h1.27v1.57h-1.27zM89.0 197.13h1.27v1.57h-1.27zM30.3 198.70h1.27v1.57h-1.27zM94.0 198.70h2.55v1.57h-2.55zM41.8 200.27h1.27v1.57h-1.27zM87.7 200.27h1.27v1.57h-1.27zM30.3 222.20h1.27v1.57h-1.27zM43.0 222.20h1.27v1.57h-1.27zM69.8 223.77h1.27v1.57h-1.27zM76.2 223.77h1.27v1.57h-1.27zM30.3 230.03h1.27v1.57h-1.27zM62.2 231.60h1.27v1.57h-1.27zM72.4 231.60h2.55v1.57h-2.55zM31.6 237.87h1.27v1.57h-1.27zM39.2 237.87h1.27v1.57h-1.27zM53.2 241.00h1.27v1.57h-1.27zM90.2 241.00h1.27v1.57h-1.27zM31.6 242.57h1.27v1.57h-1.27zM32.9 245.70h1.27v1.57h-1.27zM38.0 247.27h1.27v1.57h-1.27zM49.4 247.27h2.55v1.57h-2.55zM67.3 248.83h1.27v1.57h-1.27zM69.8 248.83h1.27v1.57h-1.27zM74.9 248.83h1.27v1.57h-1.27zM78.8 248.83h2.55v1.57h-2.55zM90.2 248.83h1.27v1.57h-1.27z"/>
<path fill="#0070ff" d="M43.0 178.33h1.27v1.57h-1.27zM46.9 178.33h2.55v1.57h-2.55zM53.2 178.33h2.55v1.57h-2.55zM71.1 178.33h1.27v1.57h-1.27zM91.5 179.90h1.27v1.57h-1.27zM85.1 181.47h1.27v1.57h-1.27zM89.0 183.03h1.27v1.57h-1.27zM91.5 183.03h1.27v1.57h-1.27zM40.5 184.60h1.27v1.57h-1.27zM83.8 184.60h2.55v1.57h-2.55zM41.8 187.73h1.27v1.57h-1.27zM32.9 190.87h1.27v1.57h-1.27zM92.8 190.87h1.27v1.57h-1.27zM94.0 194.00h1.27v1.57h-1.27zM95.3 195.57h1.27v1.57h-1.27zM95.3 197.13h1.27v1.57h-1.27zM31.6 198.70h1.27v1.57h-1.27zM90.2 198.70h1.27v1.57h-1.27zM38.0 200.27h1.27v1.57h-1.27zM40.5 200.27h1.27v1.57h-1.27zM80.0 200.27h1.27v1.57h-1.27zM86.4 200.27h1.27v1.57h-1.27zM36.7 222.20h1.27v1.57h-1.27zM71.1 231.60h1.27v1.57h-1.27zM76.2 231.60h1.27v1.57h-1.27zM81.3 231.60h1.27v1.57h-1.27zM83.8 231.60h1.27v1.57h-1.27zM31.6 234.73h1.27v1.57h-1.27zM38.0 236.30h1.27v1.57h-1.27zM40.5 241.00h1.27v1.57h-1.27zM78.8 241.00h1.27v1.57h-1.27zM95.3 241.00h1.27v1.57h-1.27zM38.0 245.70h1.27v1.57h-1.27zM34.1 247.27h2.55v1.57h-2.55zM46.9 247.27h1.27v1.57h-1.27zM52.0 247.27h1.27v1.57h-1.27zM57.1 248.83h1.27v1.57h-1.27zM60.9 248.83h1.27v1.57h-1.27zM64.7 248.83h1.27v1.57h-1.27zM77.5 248.83h1.27v1.57h-1.27z"/>
<path fill="#0080ff" d="M31.6 175.20h1.27v1.57h-1.27zM89.0 175.20h1.27v1.57h-1.27zM63.5 178.33h2.55v1.57h-2.55zM72.4 178.33h1.27v1.57h-1.27zM74.9 178.33h2.55v1.57h-2.55zM30.3 179.90h1.27v1.57h-1.27zM83.8 179.90h1.27v1.57h-1.27zM89.0 179.90h1.27v1.57h-1.27zM35.4 181.47h1.27v1.57h-1.27zM86.4 181.47h1.27v1.57h-1.27zM39.2 184.60h1.27v1.57h-1.27zM78.8 184.60h1.27v1.57h-1.27zM38.0 187.73h1.27v1.57h-1.27zM43.0 187.73h1.27v1.57h-1.27zM82.6 187.73h1.27v1.57h-1.27zM82.6 190.87h2.55v1.57h-2.55zM31.6 194.00h1.27v1.57h-1.27zM90.2 197.13h1.27v1.57h-1.27zM87.7 198.70h2.55v1.57h-2.55zM81.3 200.27h2.55v1.57h-2.55zM35.4 222.20h1.27v1.57h-1.27zM45.6 222.20h1.27v1.57h-1.27zM35.4 225.33h1.27v1.57h-1.27zM30.3 226.90h1.27v1.57h-1.27zM34.1 228.47h1.27v1.57h-1.27zM95.3 228.47h1.27v1.57h-1.27zM74.9 231.60h1.27v1.57h-1.27zM82.6 231.60h1.27v1.57h-1.27zM35.4 236.30h1.27v1.57h-1.27zM30.3 237.87h1.27v1.57h-1.27zM43.0 237.87h1.27v1.57h-1.27zM44.3 241.00h1.27v1.57h-1.27zM62.2 241.00h1.27v1.57h-1.27zM89.0 241.00h1.27v1.57h-1.27zM95.3 244.13h1.27v1.57h-1.27zM34.1 245.70h2.55v1.57h-2.55zM86.4 247.27h2.55v1.57h-2.55zM58.3 248.83h1.27v1.57h-1.27zM62.2 248.83h1.27v1.57h-1.27zM71.1 248.83h1.27v1.57h-1.27z"/>
<path fill="#008fff" d="M85.1 175.20h1.27v1.57h-1.27zM87.7 175.20h1.27v1.57h-1.27zM52.0 178.33h1.27v1.57h-1.27zM57.1 178.33h1.27v1.57h-1.27zM67.3 178.33h1.27v1.57h-1.27zM36.7 179.90h1.27v1.57h-1.27zM32.9 181.47h1.27v1.57h-1.27zM31.6 183.03h2.55v1.57h-2.55zM90.2 183.03h1.27v1.57h-1.27zM82.6 184.60h1.27v1.57h-1.27zM35.4 187.73h1.27v1.57h-1.27zM81.3 187.73h1.27v1.57h-1.27zM83.8 187.73h1.27v1.57h-1.27zM31.6 190.87h1.27v1.57h-1.27zM36.7 190.87h1.27v1.57h-1.27zM85.1 190.87h1.27v1.57h-1.27zM34.1 198.70h2.55v1.57h-2.55zM39.2 200.27h1.27v1.57h-1.27zM43.0 200.27h1.27v1.57h-1.27zM40.5 222.20h1.27v1.57h-1.27zM49.4 222.20h1.27v1.57h-1.27zM30.3 228.47h1.27v1.57h-1.27zM32.9 228.47h1.27v1.57h-1.27zM35.4 228.47h1.27v1.57h-1.27zM38.0 230.03h1.27v1.57h-1.27zM30.3 234.73h1.27v1.57h-1.27zM38.0 234.73h1.27v1.57h-1.27zM46.9 236.30h1.27v1.57h-1.27zM45.6 237.87h1.27v1.57h-1.27zM41.8 241.00h2.55v1.57h-2.55zM46.9 241.00h1.27v1.57h-1.27zM66.0 241.00h1.27v1.57h-1.27zM91.5 241.00h1.27v1.57h-1.27zM34.1 242.57h1.27v1.57h-1.27zM36.7 242.57h1.27v1.57h-1.27zM39.2 247.27h1.27v1.57h-1.27zM45.6 247.27h1.27v1.57h-1.27zM54.5 247.27h1.27v1.57h-1.27zM66.0 248.83h1.27v1.57h-1.27zM76.2 248.83h1.27v1.57h-1.27z"/>
<path fill="#009fff" d="M83.8 175.20h1.27v1.57h-1.27zM86.4 175.20h1.27v1.57h-1.27zM49.4 178.33h1.27v1.57h-1.27zM34.1 181.47h1.27v1.57h-1.27zM35.4 183.03h1.27v1.57h-1.27zM36.7 187.73h1.27v1.57h-1.27zM40.5 187.73h1.27v1.57h-1.27zM80.0 187.73h1.27v1.57h-1.27zM86.4 190.87h1.27v1.57h-1.27zM86.4 194.00h1.27v1.57h-1.27zM91.5 194.00h1.27v1.57h-1.27zM90.2 195.57h1.27v1.57h-1.27zM94.0 197.13h1.27v1.57h-1.27zM86.4 198.70h1.27v1.57h-1.27zM45.6 200.27h1.27v1.57h-1.27zM77.5 200.27h2.55v1.57h-2.55zM32.9 222.20h2.55v1.57h-2.55zM95.3 222.20h1.27v1.57h-1.27zM35.4 226.90h1.27v1.57h-1.27zM31.6 228.47h1.27v1.57h-1.27zM39.2 228.47h1.27v1.57h-1.27zM48.1 230.03h1.27v1.57h-1.27zM36.7 234.73h1.27v1.57h-1.27zM43.0 234.73h1.27v1.57h-1.27zM53.2 234.73h1.27v1.57h-1.27zM31.6 236.30h1.27v1.57h-1.27zM39.2 236.30h1.27v1.57h-1.27zM52.0 236.30h1.27v1.57h-1.27zM52.0 241.00h1.27v1.57h-1.27zM55.8 241.00h1.27v1.57h-1.27zM63.5 241.00h2.55v1.57h-2.55zM67.3 241.00h1.27v1.57h-1.27zM77.5 241.00h1.27v1.57h-1.27zM83.8 241.00h1.27v1.57h-1.27zM86.4 241.00h1.27v1.57h-1.27zM94.0 241.00h1.27v1.57h-1.27zM30.3 242.57h1.27v1.57h-1.27zM38.0 242.57h1.27v1.57h-1.27zM30.3 244.13h1.27v1.57h-1.27zM44.3 244.13h1.27v1.57h-1.27zM49.4 244.13h2.55v1.57h-2.55zM31.6 245.70h1.27v1.57h-1.27zM40.5 247.27h2.55v1.57h-2.55zM82.6 247.27h1.27v1.57h-1.27zM95.3 247.27h1.27v1.57h-1.27z"/>
<path fill="#00afff" d="M35.4 175.20h2.55v1.57h-2.55zM82.6 175.20h1.27v1.57h-1.27zM68.5 178.33h1.27v1.57h-1.27zM32.9 179.90h1.27v1.57h-1.27zM35.4 179.90h1.27v1.57h-1.27zM86.4 179.90h2.55v1.57h-2.55zM89.0 181.47h1.27v1.57h-1.27zM43.0 184.60h1.27v1.57h-1.27zM73.6 184.60h1.27v1.57h-1.27zM80.0 184.60h1.27v1.57h-1.27zM46.9 187.73h1.27v1.57h-1.27zM77.5 187.73h2.55v1.57h-2.55zM32.9 194.00h2.55v1.57h-2.55zM85.1 194.00h1.27v1.57h-1.27zM30.3 195.57h1.27v1.57h-1.27zM36.7 195.57h1.27v1.57h-1.27zM89.0 195.57h1.27v1.57h-1.27zM30.3 197.13h1.27v1.57h-1.27zM34.1 197.13h1.27v1.57h-1.27zM91.5 197.13h2.55v1.57h-2.55zM32.9 198.70h1.27v1.57h-1.27zM82.6 198.70h1.27v1.57h-1.27zM46.9 200.27h2.55v1.57h-2.55zM44.3 222.20h1.27v1.57h-1.27zM38.0 225.33h1.27v1.57h-1.27zM41.8 225.33h1.27v1.57h-1.27zM41.8 228.47h3.82v1.57h-3.82zM34.1 230.03h1.27v1.57h-1.27zM30.3 236.30h1.27v1.57h-1.27zM40.5 236.30h1.27v1.57h-1.27zM43.0 236.30h1.27v1.57h-1.27zM53.2 236.30h1.27v1.57h-1.27zM34.1 237.87h1.27v1.57h-1.27zM48.1 241.00h1.27v1.57h-1.27zM58.3 241.00h1.27v1.57h-1.27zM82.6 241.00h1.27v1.57h-1.27zM87.7 241.00h1.27v1.57h-1.27zM92.8 241.00h1.27v1.57h-1.27zM46.9 242.57h1.27v1.57h-1.27zM95.3 242.57h1.27v1.57h-1.27zM34.1 244.13h1.27v1.57h-1.27zM94.0 244.13h1.27v1.57h-1.27zM43.0 245.70h1.27v1.57h-1.27zM43.0 247.27h2.55v1.57h-2.55zM57.1 247.27h1.27v1.57h-1.27zM60.9 247.27h1.27v1.57h-1.27zM92.8 247.27h1.27v1.57h-1.27z"/>
<path fill="#00bfff" d="M55.8 178.33h1.27v1.57h-1.27zM85.1 179.90h1.27v1.57h-1.27zM77.5 181.47h1.27v1.57h-1.27zM87.7 181.47h1.27v1.57h-1.27zM82.6 183.03h1.27v1.57h-1.27zM87.7 183.03h1.27v1.57h-1.27zM41.8 184.60h1.27v1.57h-1.27zM44.3 184.60h1.27v1.57h-1.27zM46.9 184.60h1.27v1.57h-1.27zM72.4 184.60h1.27v1.57h-1.27zM68.5 187.73h1.27v1.57h-1.27zM73.6 187.73h1.27v1.57h-1.27zM34.1 190.87h1.27v1.57h-1.27zM38.0 190.87h1.27v1.57h-1.27zM41.8 190.87h1.27v1.57h-1.27zM80.0 190.87h1.27v1.57h-1.27zM90.2 194.00h1.27v1.57h-1.27zM85.1 195.57h1.27v1.57h-1.27zM83.8 197.13h5.10v1.57h-5.10zM38.0 198.70h1.27v1.57h-1.27zM49.4 200.27h1.27v1.57h-1.27zM72.4 200.27h3.82v1.57h-3.82zM55.8 222.20h1.27v1.57h-1.27zM91.5 222.20h1.27v1.57h-1.27zM31.6 225.33h1.27v1.57h-1.27zM43.0 225.33h1.27v1.57h-1.27zM43.0 226.90h1.27v1.57h-1.27zM45.6 226.90h1.27v1.57h-1.27zM36.7 228.47h1.27v1.57h-1.27zM94.0 228.47h1.27v1.57h-1.27zM32.9 230.03h1.27v1.57h-1.27zM44.3 230.03h1.27v1.57h-1.27zM46.9 230.03h1.27v1.57h-1.27zM32.9 234.73h1.27v1.57h-1.27zM32.9 236.30h2.55v1.57h-2.55zM87.7 236.30h1.27v1.57h-1.27zM35.4 237.87h3.82v1.57h-3.82zM44.3 237.87h1.27v1.57h-1.27zM59.6 237.87h1.27v1.57h-1.27zM49.4 241.00h2.55v1.57h-2.55zM59.6 241.00h1.27v1.57h-1.27zM74.9 241.00h1.27v1.57h-1.27zM80.0 241.00h1.27v1.57h-1.27zM85.1 241.00h1.27v1.57h-1.27zM35.4 242.57h1.27v1.57h-1.27zM40.5 242.57h1.27v1.57h-1.27zM31.6 244.13h2.55v1.57h-2.55zM35.4 244.13h1.27v1.57h-1.27zM48.1 247.27h1.27v1.57h-1.27zM66.0 247.27h1.27v1.57h-1.27zM77.5 247.27h1.27v1.57h-1.27zM85.1 247.27h1.27v1.57h-1.27zM90.2 247.27h2.55v1.57h-2.55z"/>
<path fill="#00cfff" d="M80.0 175.20h1.27v1.57h-1.27zM50.7 178.33h1.27v1.57h-1.27zM66.0 178.33h1.27v1.57h-1.27zM76.2 181.47h1.27v1.57h-1.27zM82.6 181.47h2.55v1.57h-2.55zM86.4 183.03h1.27v1.57h-1.27zM45.6 184.60h1.27v1.57h-1.27zM49.4 184.60h1.27v1.57h-1.27zM66.0 184.60h1.27v1.57h-1.27zM76.2 184.60h1.27v1.57h-1.27zM39.2 187.73h1.27v1.57h-1.27zM44.3 187.73h1.27v1.57h-1.27zM48.1 187.73h1.27v1.57h-1.27zM35.4 190.87h1.27v1.57h-1.27zM35.4 194.00h1.27v1.57h-1.27zM40.5 194.00h1.27v1.57h-1.27zM89.0 194.00h1.27v1.57h-1.27zM44.3 200.27h1.27v1.57h-1.27zM50.7 200.27h1.27v1.57h-1.27zM55.8 200.27h2.55v1.57h-2.55zM69.8 200.27h1.27v1.57h-1.27zM39.2 222.20h1.27v1.57h-1.27zM52.0 222.20h1.27v1.57h-1.27zM36.7 225.33h1.27v1.57h-1.27zM44.3 225.33h1.27v1.57h-1.27zM55.8 225.33h1.27v1.57h-1.27zM39.2 226.90h1.27v1.57h-1.27zM48.1 228.47h1.27v1.57h-1.27zM36.7 230.03h1.27v1.57h-1.27zM53.2 230.03h1.27v1.57h-1.27zM95.3 230.03h1.27v1.57h-1.27zM39.2 234.73h1.27v1.57h-1.27zM46.9 234.73h1.27v1.57h-1.27zM52.0 234.73h1.27v1.57h-1.27zM36.7 236.30h1.27v1.57h-1.27zM41.8 236.30h1.27v1.57h-1.27zM50.7 236.30h1.27v1.57h-1.27zM91.5 236.30h1.27v1.57h-1.27zM94.0 236.30h1.27v1.57h-1.27zM90.2 237.87h1.27v1.57h-1.27zM60.9 241.00h1.27v1.57h-1.27zM39.2 242.57h1.27v1.57h-1.27zM44.3 242.57h1.27v1.57h-1.27zM54.5 242.57h2.55v1.57h-2.55zM36.7 244.13h1.27v1.57h-1.27zM60.9 244.13h1.27v1.57h-1.27zM92.8 244.13h1.27v1.57h-1.27zM44.3 245.70h1.27v1.57h-1.27zM76.2 247.27h1.27v1.57h-1.27z"/>
<path fill="#00dfff" d="M62.2 178.33h1.27v1.57h-1.27zM34.1 179.90h1.27v1.57h-1.27zM38.0 179.90h1.27v1.57h-1.27zM82.6 179.90h1.27v1.57h-1.27zM36.7 181.47h2.55v1.57h-2.55zM40.5 181.47h1.27v1.57h-1.27zM81.3 183.03h1.27v1.57h-1.27zM74.9 184.60h1.27v1.57h-1.27zM77.5 184.60h1.27v1.57h-1.27zM53.2 187.73h1.27v1.57h-1.27zM67.3 187.73h1.27v1.57h-1.27zM72.4 187.73h1.27v1.57h-1.27zM74.9 187.73h1.27v1.57h-1.27zM40.5 190.87h1.27v1.57h-1.27zM81.3 190.87h1.27v1.57h-1.27zM36.7 194.00h1.27v1.57h-1.27zM87.7 194.00h1.27v1.57h-1.27zM31.6 195.57h1.27v1.57h-1.27zM34.1 195.57h1.27v1.57h-1.27zM87.7 195.57h1.27v1.57h-1.27zM32.9 197.13h1.27v1.57h-1.27zM63.5 200.27h2.55v1.57h-2.55zM71.1 200.27h1.27v1.57h-1.27zM76.2 200.27h1.27v1.57h-1.27zM50.7 222.20h1.27v1.57h-1.27zM53.2 222.20h1.27v1.57h-1.27zM94.0 222.20h1.27v1.57h-1.27zM41.8 226.90h1.27v1.57h-1.27zM53.2 226.90h1.27v1.57h-1.27zM40.5 228.47h1.27v1.57h-1.27zM58.3 228.47h1.27v1.57h-1.27zM85.1 228.47h1.27v1.57h-1.27zM31.6 230.03h1.27v1.57h-1.27zM39.2 230.03h2.55v1.57h-2.55zM40.5 234.73h1.27v1.57h-1.27zM48.1 234.73h1.27v1.57h-1.27zM44.3 236.30h1.27v1.57h-1.27zM92.8 236.30h1.27v1.57h-1.27zM95.3 236.30h1.27v1.57h-1.27zM48.1 237.87h1.27v1.57h-1.27zM53.2 237.87h1.27v1.57h-1.27zM62.2 237.87h1.27v1.57h-1.27zM89.0 237.87h1.27v1.57h-1.27zM95.3 237.87h1.27v1.57h-1.27zM57.1 241.00h1.27v1.57h-1.27zM73.6 241.00h1.27v1.57h-1.27zM41.8 242.57h1.27v1.57h-1.27zM45.6 242.57h1.27v1.57h-1.27zM48.1 244.13h1.27v1.57h-1.27zM52.0 244.13h1.27v1.57h-1.27zM30.3 245.70h1.27v1.57h-1.27zM40.5 245.70h1.27v1.57h-1.27zM80.0 247.27h1.27v1.57h-1.27zM94.0 247.27h1.27v1.57h-1.27z"/>
<path fill="#00efff" d="M38.0 175.20h1.27v1.57h-1.27zM58.3 178.33h2.55v1.57h-2.55zM39.2 179.90h1.27v1.57h-1.27zM41.8 179.90h2.55v1.57h-2.55zM78.8 179.90h2.55v1.57h-2.55zM39.2 181.47h1.27v1.57h-1.27zM81.3 181.47h1.27v1.57h-1.27zM78.8 183.03h1.27v1.57h-1.27zM71.1 184.60h1.27v1.57h-1.27zM52.0 187.73h1.27v1.57h-1.27zM63.5 187.73h1.27v1.57h-1.27zM69.8 187.73h1.27v1.57h-1.27zM45.6 190.87h2.55v1.57h-2.55zM80.0 194.00h2.55v1.57h-2.55zM83.8 194.00h1.27v1.57h-1.27zM32.9 195.57h1.27v1.57h-1.27zM35.4 195.57h1.27v1.57h-1.27zM38.0 195.57h1.27v1.57h-1.27zM40.5 195.57h1.27v1.57h-1.27zM86.4 195.57h1.27v1.57h-1.27zM31.6 197.13h1.27v1.57h-1.27zM40.5 198.70h1.27v1.57h-1.27zM46.9 222.20h1.27v1.57h-1.27zM59.6 222.20h1.27v1.57h-1.27zM76.2 222.20h1.27v1.57h-1.27zM54.5 225.33h1.27v1.57h-1.27zM95.3 225.33h1.27v1.57h-1.27zM34.1 226.90h1.27v1.57h-1.27zM36.7 226.90h1.27v1.57h-1.27zM95.3 226.90h1.27v1.57h-1.27zM38.0 228.47h1.27v1.57h-1.27zM57.1 228.47h1.27v1.57h-1.27zM64.7 228.47h1.27v1.57h-1.27zM71.1 228.47h1.27v1.57h-1.27zM35.4 230.03h1.27v1.57h-1.27zM49.4 230.03h1.27v1.57h-1.27zM89.0 230.03h1.27v1.57h-1.27zM41.8 234.73h1.27v1.57h-1.27zM92.8 234.73h1.27v1.57h-1.27zM45.6 236.30h1.27v1.57h-1.27zM48.1 236.30h2.55v1.57h-2.55zM89.0 236.30h1.27v1.57h-1.27zM52.0 237.87h1.27v1.57h-1.27zM58.3 237.87h1.27v1.57h-1.27zM73.6 237.87h2.55v1.57h-2.55zM82.6 237.87h1.27v1.57h-1.27zM49.4 242.57h1.27v1.57h-1.27zM38.0 244.13h2.55v1.57h-2.55zM43.0 244.13h1.27v1.57h-1.27zM62.2 244.13h1.27v1.57h-1.27zM39.2 245.70h1.27v1.57h-1.27zM58.3 247.27h1.27v1.57h-1.27zM74.9 247.27h1.27v1.57h-1.27zM89.0 247.27h1.27v1.57h-1.27z"/>
<path fill="#00ffff" d="M41.8 175.20h1.27v1.57h-1.27zM81.3 175.20h1.27v1.57h-1.27zM60.9 178.33h1.27v1.57h-1.27zM77.5 179.90h1.27v1.57h-1.27zM41.8 181.47h1.27v1.57h-1.27zM36.7 183.03h1.27v1.57h-1.27zM76.2 183.03h1.27v1.57h-1.27zM85.1 183.03h1.27v1.57h-1.27zM53.2 184.60h1.27v1.57h-1.27zM67.3 184.60h1.27v1.57h-1.27zM57.1 187.73h1.27v1.57h-1.27zM62.2 187.73h1.27v1.57h-1.27zM39.2 190.87h1.27v1.57h-1.27zM38.0 197.13h1.27v1.57h-1.27zM81.3 197.13h1.27v1.57h-1.27zM36.7 198.70h1.27v1.57h-1.27zM85.1 198.70h1.27v1.57h-1.27zM52.0 200.27h1.27v1.57h-1.27zM58.3 200.27h1.27v1.57h-1.27zM48.1 222.20h1.27v1.57h-1.27zM63.5 222.20h1.27v1.57h-1.27zM83.8 222.20h1.27v1.57h-1.27zM92.8 222.20h1.27v1.57h-1.27zM39.2 225.33h2.55v1.57h-2.55zM72.4 225.33h1.27v1.57h-1.27zM31.6 226.90h1.27v1.57h-1.27zM94.0 226.90h1.27v1.57h-1.27zM53.2 228.47h1.27v1.57h-1.27zM62.2 228.47h2.55v1.57h-2.55zM72.4 228.47h2.55v1.57h-2.55zM76.2 228.47h1.27v1.57h-1.27zM91.5 228.47h1.27v1.57h-1.27zM41.8 230.03h1.27v1.57h-1.27zM52.0 230.03h1.27v1.57h-1.27zM34.1 234.73h2.55v1.57h-2.55zM87.7 234.73h1.27v1.57h-1.27zM62.2 236.30h1.27v1.57h-1.27zM46.9 237.87h1.27v1.57h-1.27zM50.7 237.87h1.27v1.57h-1.27zM76.2 237.87h1.27v1.57h-1.27zM76.2 241.00h1.27v1.57h-1.27zM81.3 241.00h1.27v1.57h-1.27zM94.0 242.57h1.27v1.57h-1.27zM41.8 244.13h1.27v1.57h-1.27zM80.0 244.13h1.27v1.57h-1.27zM82.6 244.13h1.27v1.57h-1.27zM91.5 244.13h1.27v1.57h-1.27zM55.8 247.27h1.27v1.57h-1.27z"/>
<path fill="#10ffef" d="M43.0 175.20h1.27v1.57h-1.27zM76.2 179.90h1.27v1.57h-1.27zM43.0 183.03h1.27v1.57h-1.27zM83.8 183.03h1.27v1.57h-1.27zM45.6 187.73h1.27v1.57h-1.27zM59.6 187.73h1.27v1.57h-1.27zM76.2 187.73h1.27v1.57h-1.27zM78.8 190.87h1.27v1.57h-1.27zM38.0 194.00h2.55v1.57h-2.55zM41.8 194.00h1.27v1.57h-1.27zM74.9 195.57h1.27v1.57h-1.27zM80.0 195.57h1.27v1.57h-1.27zM41.8 197.13h1.27v1.57h-1.27zM39.2 198.70h1.27v1.57h-1.27zM81.3 198.70h1.27v1.57h-1.27zM83.8 198.70h1.27v1.57h-1.27zM57.1 222.20h1.27v1.57h-1.27zM62.2 222.20h1.27v1.57h-1.27zM77.5 222.20h1.27v1.57h-1.27zM57.1 225.33h1.27v1.57h-1.27zM44.3 226.90h1.27v1.57h-1.27zM46.9 228.47h1.27v1.57h-1.27zM52.0 228.47h1.27v1.57h-1.27zM92.8 228.47h1.27v1.57h-1.27zM87.7 230.03h1.27v1.57h-1.27zM90.2 230.03h1.27v1.57h-1.27zM44.3 234.73h1.27v1.57h-1.27zM54.5 234.73h1.27v1.57h-1.27zM58.3 234.73h1.27v1.57h-1.27zM86.4 234.73h1.27v1.57h-1.27zM94.0 234.73h1.27v1.57h-1.27zM60.9 236.30h1.27v1.57h-1.27zM63.5 236.30h1.27v1.57h-1.27zM49.4 237.87h1.27v1.57h-1.27zM55.8 237.87h1.27v1.57h-1.27zM63.5 237.87h1.27v1.57h-1.27zM72.4 237.87h1.27v1.57h-1.27zM92.8 237.87h1.27v1.57h-1.27zM68.5 241.00h1.27v1.57h-1.27zM43.0 242.57h1.27v1.57h-1.27zM48.1 242.57h1.27v1.57h-1.27zM62.2 242.57h1.27v1.57h-1.27zM83.8 242.57h1.27v1.57h-1.27zM89.0 242.57h1.27v1.57h-1.27zM45.6 244.13h1.27v1.57h-1.27zM58.3 245.70h1.27v1.57h-1.27zM66.0 245.70h1.27v1.57h-1.27zM89.0 245.70h1.27v1.57h-1.27zM91.5 245.70h1.27v1.57h-1.27zM59.6 247.27h1.27v1.57h-1.27zM62.2 247.27h1.27v1.57h-1.27zM67.3 247.27h1.27v1.57h-1.27z"/>
<path fill="#20ffdf" d="M39.2 175.20h1.27v1.57h-1.27zM46.9 179.90h1.27v1.57h-1.27zM81.3 179.90h1.27v1.57h-1.27zM45.6 181.47h2.55v1.57h-2.55zM73.6 181.47h1.27v1.57h-1.27zM38.0 183.03h2.55v1.57h-2.55zM71.1 183.03h1.27v1.57h-1.27zM48.1 184.60h1.27v1.57h-1.27zM50.7 184.60h1.27v1.57h-1.27zM69.8 184.60h1.27v1.57h-1.27zM41.8 195.57h1.27v1.57h-1.27zM45.6 195.57h1.27v1.57h-1.27zM82.6 197.13h1.27v1.57h-1.27zM72.4 198.70h1.27v1.57h-1.27zM68.5 200.27h1.27v1.57h-1.27zM82.6 222.20h1.27v1.57h-1.27zM45.6 225.33h5.10v1.57h-5.10zM74.9 225.33h1.27v1.57h-1.27zM81.3 225.33h1.27v1.57h-1.27zM92.8 225.33h1.27v1.57h-1.27zM32.9 226.90h1.27v1.57h-1.27zM38.0 226.90h1.27v1.57h-1.27zM45.6 228.47h1.27v1.57h-1.27zM50.7 228.47h1.27v1.57h-1.27zM54.5 228.47h1.27v1.57h-1.27zM83.8 228.47h1.27v1.57h-1.27zM86.4 228.47h1.27v1.57h-1.27zM71.1 230.03h1.27v1.57h-1.27zM80.0 230.03h1.27v1.57h-1.27zM49.4 234.73h1.27v1.57h-1.27zM57.1 234.73h1.27v1.57h-1.27zM60.9 234.73h1.27v1.57h-1.27zM91.5 234.73h1.27v1.57h-1.27zM72.4 236.30h1.27v1.57h-1.27zM90.2 236.30h1.27v1.57h-1.27zM54.5 237.87h1.27v1.57h-1.27zM60.9 237.87h1.27v1.57h-1.27zM71.1 237.87h1.27v1.57h-1.27zM71.1 241.00h1.27v1.57h-1.27zM87.7 242.57h1.27v1.57h-1.27zM90.2 242.57h1.27v1.57h-1.27zM40.5 244.13h1.27v1.57h-1.27zM46.9 244.13h1.27v1.57h-1.27zM81.3 244.13h1.27v1.57h-1.27zM41.8 245.70h1.27v1.57h-1.27zM90.2 245.70h1.27v1.57h-1.27zM68.5 247.27h1.27v1.57h-1.27zM78.8 247.27h1.27v1.57h-1.27zM81.3 247.27h1.27v1.57h-1.27zM83.8 247.27h1.27v1.57h-1.27z"/>
<path fill="#30ffcf" d="M78.8 175.20h1.27v1.57h-1.27zM44.3 179.90h1.27v1.57h-1.27zM66.0 181.47h2.55v1.57h-2.55zM78.8 181.47h1.27v1.57h-1.27zM40.5 183.03h1.27v1.57h-1.27zM44.3 183.03h1.27v1.57h-1.27zM49.4 183.03h1.27v1.57h-1.27zM44.3 190.87h1.27v1.57h-1.27zM53.2 190.87h1.27v1.57h-1.27zM78.8 194.00h1.27v1.57h-1.27zM82.6 194.00h1.27v1.57h-1.27zM83.8 195.57h1.27v1.57h-1.27zM35.4 197.13h1.27v1.57h-1.27zM71.1 198.70h1.27v1.57h-1.27zM78.8 198.70h2.55v1.57h-2.55zM67.3 200.27h1.27v1.57h-1.27zM73.6 222.20h1.27v1.57h-1.27zM78.8 222.20h1.27v1.57h-1.27zM85.1 222.20h1.27v1.57h-1.27zM50.7 225.33h1.27v1.57h-1.27zM69.8 225.33h1.27v1.57h-1.27zM94.0 225.33h1.27v1.57h-1.27zM46.9 226.90h1.27v1.57h-1.27zM50.7 226.90h2.55v1.57h-2.55zM49.4 228.47h1.27v1.57h-1.27zM60.9 228.47h1.27v1.57h-1.27zM74.9 228.47h1.27v1.57h-1.27zM43.0 230.03h1.27v1.57h-1.27zM45.6 230.03h1.27v1.57h-1.27zM74.9 234.73h1.27v1.57h-1.27zM90.2 234.73h1.27v1.57h-1.27zM58.3 236.30h1.27v1.57h-1.27zM86.4 236.30h1.27v1.57h-1.27zM83.8 237.87h1.27v1.57h-1.27zM94.0 237.87h1.27v1.57h-1.27zM72.4 241.00h1.27v1.57h-1.27zM50.7 242.57h1.27v1.57h-1.27zM86.4 242.57h1.27v1.57h-1.27zM67.3 245.70h1.27v1.57h-1.27zM74.9 245.70h1.27v1.57h-1.27zM80.0 245.70h2.55v1.57h-2.55zM94.0 245.70h2.55v1.57h-2.55zM69.8 247.27h2.55v1.57h-2.55z"/>
<path fill="#40ffbf" d="M40.5 175.20h1.27v1.57h-1.27zM60.9 175.20h2.55v1.57h-2.55zM71.1 175.20h1.27v1.57h-1.27zM40.5 179.90h1.27v1.57h-1.27zM52.0 179.90h1.27v1.57h-1.27zM72.4 179.90h2.55v1.57h-2.55zM54.5 181.47h1.27v1.57h-1.27zM74.9 181.47h1.27v1.57h-1.27zM80.0 181.47h1.27v1.57h-1.27zM74.9 183.03h1.27v1.57h-1.27zM80.0 183.03h1.27v1.57h-1.27zM58.3 184.60h1.27v1.57h-1.27zM58.3 187.73h1.27v1.57h-1.27zM71.1 187.73h1.27v1.57h-1.27zM43.0 190.87h1.27v1.57h-1.27zM52.0 190.87h1.27v1.57h-1.27zM46.9 194.00h1.27v1.57h-1.27zM36.7 197.13h1.27v1.57h-1.27zM40.5 197.13h1.27v1.57h-1.27zM63.5 198.70h1.27v1.57h-1.27zM59.6 200.27h1.27v1.57h-1.27zM54.5 222.20h1.27v1.57h-1.27zM60.9 222.20h1.27v1.57h-1.27zM64.7 222.20h1.27v1.57h-1.27zM73.6 225.33h1.27v1.57h-1.27zM40.5 226.90h1.27v1.57h-1.27zM48.1 226.90h1.27v1.57h-1.27zM57.1 226.90h1.27v1.57h-1.27zM63.5 226.90h1.27v1.57h-1.27zM87.7 226.90h1.27v1.57h-1.27zM78.8 230.03h1.27v1.57h-1.27zM54.5 236.30h2.55v1.57h-2.55zM67.3 237.87h2.55v1.57h-2.55zM69.8 241.00h1.27v1.57h-1.27zM52.0 242.57h1.27v1.57h-1.27zM74.9 242.57h1.27v1.57h-1.27zM54.5 244.13h1.27v1.57h-1.27zM64.7 244.13h1.27v1.57h-1.27zM46.9 245.70h1.27v1.57h-1.27zM54.5 245.70h1.27v1.57h-1.27zM59.6 245.70h1.27v1.57h-1.27zM63.5 247.27h1.27v1.57h-1.27z"/>
<path fill="#50ffaf" d="M77.5 175.20h1.27v1.57h-1.27zM45.6 179.90h1.27v1.57h-1.27zM57.1 179.90h1.27v1.57h-1.27zM53.2 181.47h1.27v1.57h-1.27zM71.1 181.47h1.27v1.57h-1.27zM41.8 183.03h1.27v1.57h-1.27zM60.9 187.73h1.27v1.57h-1.27zM48.1 190.87h1.27v1.57h-1.27zM71.1 194.00h1.27v1.57h-1.27zM73.6 194.00h1.27v1.57h-1.27zM39.2 195.57h1.27v1.57h-1.27zM46.9 195.57h1.27v1.57h-1.27zM81.3 195.57h1.27v1.57h-1.27zM39.2 197.13h1.27v1.57h-1.27zM64.7 198.70h1.27v1.57h-1.27zM77.5 198.70h1.27v1.57h-1.27zM53.2 200.27h2.55v1.57h-2.55zM62.2 200.27h1.27v1.57h-1.27zM86.4 222.20h1.27v1.57h-1.27zM89.0 222.20h1.27v1.57h-1.27zM52.0 225.33h1.27v1.57h-1.27zM54.5 226.90h1.27v1.57h-1.27zM64.7 226.90h1.27v1.57h-1.27zM69.8 228.47h1.27v1.57h-1.27zM90.2 228.47h1.27v1.57h-1.27zM66.0 230.03h1.27v1.57h-1.27zM72.4 230.03h1.27v1.57h-1.27zM86.4 230.03h1.27v1.57h-1.27zM45.6 234.73h1.27v1.57h-1.27zM81.3 234.73h1.27v1.57h-1.27zM80.0 236.30h1.27v1.57h-1.27zM82.6 236.30h1.27v1.57h-1.27zM85.1 236.30h1.27v1.57h-1.27zM57.1 237.87h1.27v1.57h-1.27zM69.8 237.87h1.27v1.57h-1.27zM91.5 237.87h1.27v1.57h-1.27zM72.4 242.57h1.27v1.57h-1.27zM53.2 244.13h1.27v1.57h-1.27zM89.0 244.13h1.27v1.57h-1.27zM45.6 245.70h1.27v1.57h-1.27zM50.7 245.70h1.27v1.57h-1.27zM64.7 247.27h1.27v1.57h-1.27zM73.6 247.27h1.27v1.57h-1.27z"/>
<path fill="#60ff9f" d="M69.8 175.20h1.27v1.57h-1.27zM48.1 179.90h1.27v1.57h-1.27zM59.6 181.47h2.55v1.57h-2.55zM64.7 181.47h1.27v1.57h-1.27zM69.8 181.47h1.27v1.57h-1.27zM48.1 183.03h1.27v1.57h-1.27zM50.7 183.03h1.27v1.57h-1.27zM53.2 183.03h1.27v1.57h-1.27zM69.8 183.03h1.27v1.57h-1.27zM54.5 184.60h1.27v1.57h-1.27zM64.7 184.60h1.27v1.57h-1.27zM68.5 184.60h1.27v1.57h-1.27zM49.4 187.73h1.27v1.57h-1.27zM54.5 187.73h1.27v1.57h-1.27zM64.7 187.73h1.27v1.57h-1.27zM49.4 190.87h1.27v1.57h-1.27zM78.8 195.57h1.27v1.57h-1.27zM82.6 195.57h1.27v1.57h-1.27zM76.2 197.13h1.27v1.57h-1.27zM78.8 197.13h1.27v1.57h-1.27zM41.8 198.70h1.27v1.57h-1.27zM60.9 200.27h1.27v1.57h-1.27zM66.0 200.27h1.27v1.57h-1.27zM74.9 222.20h1.27v1.57h-1.27zM81.3 222.20h1.27v1.57h-1.27zM60.9 225.33h1.27v1.57h-1.27zM71.1 225.33h1.27v1.57h-1.27zM83.8 225.33h1.27v1.57h-1.27zM86.4 226.90h1.27v1.57h-1.27zM55.8 228.47h1.27v1.57h-1.27zM59.6 228.47h1.27v1.57h-1.27zM66.0 228.47h1.27v1.57h-1.27zM50.7 230.03h1.27v1.57h-1.27zM94.0 230.03h1.27v1.57h-1.27zM50.7 234.73h1.27v1.57h-1.27zM85.1 234.73h1.27v1.57h-1.27zM95.3 234.73h1.27v1.57h-1.27zM81.3 237.87h1.27v1.57h-1.27zM86.4 237.87h2.55v1.57h-2.55zM60.9 242.57h1.27v1.57h-1.27zM81.3 242.57h1.27v1.57h-1.27zM55.8 244.13h1.27v1.57h-1.27zM76.2 244.13h1.27v1.57h-1.27z"/>
<path fill="#70ff8f" d="M74.9 179.90h1.27v1.57h-1.27zM77.5 183.03h1.27v1.57h-1.27zM52.0 184.60h1.27v1.57h-1.27zM59.6 184.60h1.27v1.57h-1.27zM50.7 187.73h1.27v1.57h-1.27zM62.2 190.87h2.55v1.57h-2.55zM44.3 194.00h1.27v1.57h-1.27zM77.5 194.00h1.27v1.57h-1.27zM44.3 195.57h1.27v1.57h-1.27zM73.6 195.57h1.27v1.57h-1.27zM74.9 197.13h1.27v1.57h-1.27zM73.6 198.70h1.27v1.57h-1.27zM67.3 222.20h1.27v1.57h-1.27zM90.2 222.20h1.27v1.57h-1.27zM53.2 225.33h1.27v1.57h-1.27zM82.6 225.33h1.27v1.57h-1.27zM90.2 225.33h1.27v1.57h-1.27zM58.3 226.90h1.27v1.57h-1.27zM62.2 226.90h1.27v1.57h-1.27zM69.8 226.90h1.27v1.57h-1.27zM91.5 226.90h1.27v1.57h-1.27zM82.6 230.03h1.27v1.57h-1.27zM76.2 234.73h1.27v1.57h-1.27zM68.5 236.30h1.27v1.57h-1.27zM53.2 242.57h1.27v1.57h-1.27zM64.7 242.57h1.27v1.57h-1.27zM80.0 242.57h1.27v1.57h-1.27zM91.5 242.57h1.27v1.57h-1.27zM59.6 244.13h1.27v1.57h-1.27zM63.5 244.13h1.27v1.57h-1.27zM78.8 245.70h1.27v1.57h-1.27zM86.4 245.70h1.27v1.57h-1.27zM92.8 245.70h1.27v1.57h-1.27zM72.4 247.27h1.27v1.57h-1.27z"/>
<path fill="#80ff80" d="M44.3 175.20h1.27v1.57h-1.27zM71.1 179.90h1.27v1.57h-1.27zM52.0 181.47h1.27v1.57h-1.27zM73.6 183.03h1.27v1.57h-1.27zM62.2 184.60h1.27v1.57h-1.27zM64.7 190.87h1.27v1.57h-1.27zM74.9 190.87h1.27v1.57h-1.27zM45.6 194.00h1.27v1.57h-1.27zM60.9 194.00h1.27v1.57h-1.27zM52.0 197.13h1.27v1.57h-1.27zM80.0 197.13h1.27v1.57h-1.27zM43.0 198.70h1.27v1.57h-1.27zM55.8 198.70h1.27v1.57h-1.27zM58.3 222.20h1.27v1.57h-1.27zM72.4 222.20h1.27v1.57h-1.27zM87.7 222.20h1.27v1.57h-1.27zM91.5 225.33h1.27v1.57h-1.27zM92.8 226.90h1.27v1.57h-1.27zM54.5 230.03h1.27v1.57h-1.27zM69.8 234.73h1.27v1.57h-1.27zM89.0 234.73h1.27v1.57h-1.27zM59.6 236.30h1.27v1.57h-1.27zM67.3 236.30h1.27v1.57h-1.27zM71.1 236.30h1.27v1.57h-1.27zM73.6 236.30h1.27v1.57h-1.27zM83.8 236.30h1.27v1.57h-1.27zM58.3 242.57h1.27v1.57h-1.27zM72.4 244.13h1.27v1.57h-1.27zM87.7 244.13h1.27v1.57h-1.27zM90.2 244.13h1.27v1.57h-1.27zM48.1 245.70h2.55v1.57h-2.55zM52.0 245.70h1.27v1.57h-1.27zM68.5 245.70h1.27v1.57h-1.27zM82.6 245.70h1.27v1.57h-1.27zM87.7 245.70h1.27v1.57h-1.27z"/>
<path fill="#8fff70" d="M76.2 175.20h1.27v1.57h-1.27zM50.7 179.90h1.27v1.57h-1.27zM53.2 179.90h1.27v1.57h-1.27zM43.0 181.47h1.27v1.57h-1.27zM72.4 181.47h1.27v1.57h-1.27zM45.6 183.03h1.27v1.57h-1.27zM52.0 183.03h1.27v1.57h-1.27zM72.4 183.03h1.27v1.57h-1.27zM55.8 187.73h1.27v1.57h-1.27zM76.2 190.87h2.55v1.57h-2.55zM50.7 194.00h1.27v1.57h-1.27zM43.0 195.57h1.27v1.57h-1.27zM71.1 195.57h1.27v1.57h-1.27zM76.2 195.57h1.27v1.57h-1.27zM69.8 198.70h1.27v1.57h-1.27zM62.2 225.33h1.27v1.57h-1.27zM85.1 225.33h1.27v1.57h-1.27zM68.5 226.90h1.27v1.57h-1.27zM77.5 228.47h2.55v1.57h-2.55zM69.8 230.03h1.27v1.57h-1.27zM73.6 230.03h1.27v1.57h-1.27zM77.5 230.03h1.27v1.57h-1.27zM59.6 234.73h1.27v1.57h-1.27zM77.5 234.73h1.27v1.57h-1.27zM57.1 236.30h1.27v1.57h-1.27zM85.1 237.87h1.27v1.57h-1.27zM66.0 242.57h1.27v1.57h-1.27zM92.8 242.57h1.27v1.57h-1.27zM71.1 244.13h1.27v1.57h-1.27zM74.9 244.13h1.27v1.57h-1.27zM77.5 244.13h2.55v1.57h-2.55zM64.7 245.70h1.27v1.57h-1.27z"/>
<path fill="#9fff60" d="M45.6 175.20h2.55v1.57h-2.55zM52.0 175.20h1.27v1.57h-1.27zM68.5 175.20h1.27v1.57h-1.27zM74.9 175.20h1.27v1.57h-1.27zM55.8 181.47h1.27v1.57h-1.27zM63.5 184.60h1.27v1.57h-1.27zM66.0 187.73h1.27v1.57h-1.27zM43.0 194.00h1.27v1.57h-1.27zM44.3 197.13h1.27v1.57h-1.27zM66.0 222.20h1.27v1.57h-1.27zM58.3 225.33h1.27v1.57h-1.27zM49.4 226.90h1.27v1.57h-1.27zM55.8 226.90h1.27v1.57h-1.27zM78.8 226.90h1.27v1.57h-1.27zM55.8 230.03h1.27v1.57h-1.27zM60.9 230.03h1.27v1.57h-1.27zM64.7 230.03h1.27v1.57h-1.27zM91.5 230.03h1.27v1.57h-1.27zM55.8 234.73h1.27v1.57h-1.27zM63.5 234.73h1.27v1.57h-1.27zM67.3 234.73h2.55v1.57h-2.55zM82.6 234.73h1.27v1.57h-1.27zM74.9 236.30h1.27v1.57h-1.27zM77.5 237.87h1.27v1.57h-1.27zM57.1 242.57h1.27v1.57h-1.27zM73.6 242.57h1.27v1.57h-1.27zM85.1 242.57h1.27v1.57h-1.27zM66.0 244.13h1.27v1.57h-1.27zM83.8 244.13h1.27v1.57h-1.27zM60.9 245.70h1.27v1.57h-1.27z"/>
<path fill="#afff50" d="M59.6 175.20h1.27v1.57h-1.27zM55.8 179.90h1.27v1.57h-1.27zM58.3 179.90h1.27v1.57h-1.27zM67.3 179.90h1.27v1.57h-1.27zM44.3 181.47h1.27v1.57h-1.27zM48.1 181.47h1.27v1.57h-1.27zM60.9 184.60h1.27v1.57h-1.27zM66.0 194.00h1.27v1.57h-1.27zM45.6 198.70h1.27v1.57h-1.27zM80.0 222.20h1.27v1.57h-1.27zM67.3 225.33h2.55v1.57h-2.55zM78.8 225.33h1.27v1.57h-1.27zM60.9 226.90h1.27v1.57h-1.27zM77.5 226.90h1.27v1.57h-1.27zM80.0 226.90h1.27v1.57h-1.27zM87.7 228.47h2.55v1.57h-2.55zM62.2 234.73h1.27v1.57h-1.27zM64.7 234.73h1.27v1.57h-1.27zM78.8 234.73h1.27v1.57h-1.27zM78.8 237.87h1.27v1.57h-1.27zM59.6 242.57h1.27v1.57h-1.27zM63.5 242.57h1.27v1.57h-1.27zM71.1 242.57h1.27v1.57h-1.27zM82.6 242.57h1.27v1.57h-1.27zM53.2 245.70h1.27v1.57h-1.27zM63.5 245.70h1.27v1.57h-1.27zM72.4 245.70h1.27v1.57h-1.27zM76.2 245.70h1.27v1.57h-1.27z"/>
<path fill="#bfff40" d="M55.8 175.20h1.27v1.57h-1.27zM58.3 175.20h1.27v1.57h-1.27zM72.4 175.20h1.27v1.57h-1.27zM49.4 179.90h1.27v1.57h-1.27zM54.5 179.90h1.27v1.57h-1.27zM68.5 181.47h1.27v1.57h-1.27zM46.9 183.03h1.27v1.57h-1.27zM55.8 184.60h2.55v1.57h-2.55zM48.1 194.00h1.27v1.57h-1.27zM74.9 194.00h2.55v1.57h-2.55zM43.0 197.13h1.27v1.57h-1.27zM53.2 197.13h1.27v1.57h-1.27zM44.3 198.70h1.27v1.57h-1.27zM48.1 198.70h1.27v1.57h-1.27zM66.0 198.70h1.27v1.57h-1.27zM76.2 198.70h1.27v1.57h-1.27zM68.5 222.20h1.27v1.57h-1.27zM59.6 225.33h1.27v1.57h-1.27zM86.4 225.33h1.27v1.57h-1.27zM82.6 226.90h1.27v1.57h-1.27zM67.3 228.47h1.27v1.57h-1.27zM80.0 228.47h1.27v1.57h-1.27zM82.6 228.47h1.27v1.57h-1.27zM63.5 230.03h1.27v1.57h-1.27zM83.8 234.73h1.27v1.57h-1.27zM81.3 236.30h1.27v1.57h-1.27zM66.0 237.87h1.27v1.57h-1.27zM80.0 237.87h1.27v1.57h-1.27zM67.3 242.57h1.27v1.57h-1.27zM57.1 244.13h2.55v1.57h-2.55zM67.3 244.13h1.27v1.57h-1.27zM55.8 245.70h1.27v1.57h-1.27zM83.8 245.70h1.27v1.57h-1.27z"/>
<path fill="#cfff30" d="M48.1 175.20h2.55v1.57h-2.55zM73.6 175.20h1.27v1.57h-1.27zM68.5 179.90h2.55v1.57h-2.55zM50.7 190.87h1.27v1.57h-1.27zM54.5 194.00h1.27v1.57h-1.27zM67.3 194.00h1.27v1.57h-1.27zM72.4 194.00h1.27v1.57h-1.27zM59.6 195.57h1.27v1.57h-1.27zM72.4 195.57h1.27v1.57h-1.27zM72.4 197.13h1.27v1.57h-1.27zM50.7 198.70h1.27v1.57h-1.27zM57.1 198.70h1.27v1.57h-1.27zM62.2 198.70h1.27v1.57h-1.27zM67.3 198.70h1.27v1.57h-1.27zM80.0 225.33h1.27v1.57h-1.27zM89.0 225.33h1.27v1.57h-1.27zM73.6 226.90h1.27v1.57h-1.27zM57.1 230.03h1.27v1.57h-1.27zM81.3 230.03h1.27v1.57h-1.27zM85.1 230.03h1.27v1.57h-1.27zM92.8 230.03h1.27v1.57h-1.27zM76.2 236.30h1.27v1.57h-1.27zM57.1 245.70h1.27v1.57h-1.27zM69.8 245.70h1.27v1.57h-1.27zM73.6 245.70h1.27v1.57h-1.27z"/>
<path fill="#dfff20" d="M57.1 175.20h1.27v1.57h-1.27zM64.7 175.20h1.27v1.57h-1.27zM55.8 190.87h1.27v1.57h-1.27zM73.6 190.87h1.27v1.57h-1.27zM49.4 194.00h1.27v1.57h-1.27zM53.2 194.00h1.27v1.57h-1.27zM69.8 194.00h1.27v1.57h-1.27zM77.5 195.57h1.27v1.57h-1.27zM46.9 198.70h1.27v1.57h-1.27zM59.6 198.70h1.27v1.57h-1.27zM63.5 225.33h1.27v1.57h-1.27zM76.2 225.33h1.27v1.57h-1.27zM87.7 225.33h1.27v1.57h-1.27zM81.3 226.90h1.27v1.57h-1.27zM68.5 228.47h1.27v1.57h-1.27zM83.8 230.03h1.27v1.57h-1.27zM64.7 236.30h1.27v1.57h-1.27zM69.8 236.30h1.27v1.57h-1.27zM77.5 236.30h1.27v1.57h-1.27zM64.7 237.87h1.27v1.57h-1.27zM68.5 242.57h1.27v1.57h-1.27zM78.8 242.57h1.27v1.57h-1.27zM86.4 244.13h1.27v1.57h-1.27z"/>
<path fill="#efff10" d="M66.0 175.20h1.27v1.57h-1.27zM49.4 181.47h1.27v1.57h-1.27zM67.3 183.03h2.55v1.57h-2.55zM72.4 190.87h1.27v1.57h-1.27zM62.2 194.00h1.27v1.57h-1.27zM71.1 197.13h1.27v1.57h-1.27zM77.5 197.13h1.27v1.57h-1.27zM74.9 198.70h1.27v1.57h-1.27zM71.1 222.20h1.27v1.57h-1.27zM66.0 225.33h1.27v1.57h-1.27zM77.5 225.33h1.27v1.57h-1.27zM67.3 226.90h1.27v1.57h-1.27zM74.9 226.90h1.27v1.57h-1.27zM90.2 226.90h1.27v1.57h-1.27zM81.3 228.47h1.27v1.57h-1.27zM58.3 230.03h1.27v1.57h-1.27zM74.9 230.03h1.27v1.57h-1.27zM73.6 234.73h1.27v1.57h-1.27zM78.8 236.30h1.27v1.57h-1.27zM69.8 242.57h1.27v1.57h-1.27zM76.2 242.57h1.27v1.57h-1.27zM68.5 244.13h1.27v1.57h-1.27zM85.1 244.13h1.27v1.57h-1.27zM62.2 245.70h1.27v1.57h-1.27z"/>
<path fill="#ffff00" d="M63.5 175.20h1.27v1.57h-1.27zM67.3 175.20h1.27v1.57h-1.27zM64.7 179.90h1.27v1.57h-1.27zM50.7 181.47h1.27v1.57h-1.27zM54.5 183.03h1.27v1.57h-1.27zM57.1 183.03h1.27v1.57h-1.27zM59.6 183.03h1.27v1.57h-1.27zM71.1 190.87h1.27v1.57h-1.27zM48.1 195.57h1.27v1.57h-1.27zM66.0 195.57h1.27v1.57h-1.27zM45.6 197.13h1.27v1.57h-1.27zM50.7 197.13h1.27v1.57h-1.27zM73.6 197.13h1.27v1.57h-1.27zM60.9 198.70h1.27v1.57h-1.27zM69.8 222.20h1.27v1.57h-1.27zM64.7 225.33h1.27v1.57h-1.27zM59.6 226.90h1.27v1.57h-1.27zM62.2 230.03h1.27v1.57h-1.27zM80.0 234.73h1.27v1.57h-1.27zM66.0 236.30h1.27v1.57h-1.27zM69.8 244.13h1.27v1.57h-1.27zM77.5 245.70h1.27v1.57h-1.27zM85.1 245.70h1.27v1.57h-1.27z"/>
<path fill="#ffef00" d="M50.7 175.20h1.27v1.57h-1.27zM53.2 175.20h1.27v1.57h-1.27zM57.1 181.47h1.27v1.57h-1.27zM62.2 181.47h2.55v1.57h-2.55zM64.7 183.03h1.27v1.57h-1.27zM54.5 190.87h1.27v1.57h-1.27zM68.5 194.00h1.27v1.57h-1.27zM49.4 195.57h1.27v1.57h-1.27zM69.8 197.13h1.27v1.57h-1.27zM49.4 198.70h1.27v1.57h-1.27zM89.0 226.90h1.27v1.57h-1.27zM59.6 230.03h1.27v1.57h-1.27zM68.5 230.03h1.27v1.57h-1.27zM76.2 230.03h1.27v1.57h-1.27zM66.0 234.73h1.27v1.57h-1.27zM73.6 244.13h1.27v1.57h-1.27z"/>
<path fill="#ffdf00" d="M60.9 183.03h1.27v1.57h-1.27zM58.3 190.87h1.27v1.57h-1.27zM67.3 190.87h1.27v1.57h-1.27zM59.6 194.00h1.27v1.57h-1.27zM55.8 197.13h1.27v1.57h-1.27zM58.3 197.13h1.27v1.57h-1.27zM85.1 226.90h1.27v1.57h-1.27zM71.1 234.73h1.27v1.57h-1.27z"/>
<path fill="#ffcf00" d="M66.0 183.03h1.27v1.57h-1.27zM54.5 195.57h1.27v1.57h-1.27zM68.5 198.70h1.27v1.57h-1.27zM67.3 230.03h1.27v1.57h-1.27zM72.4 234.73h1.27v1.57h-1.27zM77.5 242.57h1.27v1.57h-1.27z"/>
<path fill="#ffbf00" d="M58.3 181.47h1.27v1.57h-1.27zM57.1 190.87h1.27v1.57h-1.27zM66.0 190.87h1.27v1.57h-1.27zM68.5 190.87h2.55v1.57h-2.55zM52.0 194.00h1.27v1.57h-1.27zM55.8 194.00h1.27v1.57h-1.27zM63.5 194.00h1.27v1.57h-1.27zM50.7 195.57h1.27v1.57h-1.27zM60.9 195.57h1.27v1.57h-1.27zM64.7 195.57h1.27v1.57h-1.27zM49.4 197.13h1.27v1.57h-1.27zM53.2 198.70h1.27v1.57h-1.27zM66.0 226.90h1.27v1.57h-1.27zM71.1 226.90h1.27v1.57h-1.27z"/>
<path fill="#ffaf00" d="M54.5 175.20h1.27v1.57h-1.27zM63.5 179.90h1.27v1.57h-1.27zM66.0 179.90h1.27v1.57h-1.27zM63.5 183.03h1.27v1.57h-1.27zM60.9 197.13h1.27v1.57h-1.27zM52.0 198.70h1.27v1.57h-1.27zM54.5 198.70h1.27v1.57h-1.27zM83.8 226.90h1.27v1.57h-1.27zM71.1 245.70h1.27v1.57h-1.27z"/>
<path fill="#ff9f00" d="M55.8 183.03h1.27v1.57h-1.27zM60.9 190.87h1.27v1.57h-1.27zM64.7 194.00h1.27v1.57h-1.27zM68.5 195.57h1.27v1.57h-1.27zM57.1 197.13h1.27v1.57h-1.27zM68.5 197.13h1.27v1.57h-1.27z"/>
<path fill="#ff8f00" d="M58.3 183.03h1.27v1.57h-1.27zM59.6 190.87h1.27v1.57h-1.27zM58.3 195.57h1.27v1.57h-1.27zM69.8 195.57h1.27v1.57h-1.27zM46.9 197.13h1.27v1.57h-1.27zM66.0 197.13h1.27v1.57h-1.27zM58.3 198.70h1.27v1.57h-1.27zM76.2 226.90h1.27v1.57h-1.27z"/>
<path fill="#ff8000" d="M57.1 195.57h1.27v1.57h-1.27zM72.4 226.90h1.27v1.57h-1.27z"/>
<path fill="#ff7000" d="M59.6 179.90h1.27v1.57h-1.27zM54.5 197.13h1.27v1.57h-1.27z"/>
<path fill="#ff6000" d="M60.9 179.90h2.55v1.57h-2.55zM62.2 183.03h1.27v1.57h-1.27zM58.3 194.00h1.27v1.57h-1.27zM48.1 197.13h1.27v1.57h-1.27zM63.5 197.13h1.27v1.57h-1.27z"/>
<path fill="#ff5000" d="M57.1 194.00h1.27v1.57h-1.27zM67.3 195.57h1.27v1.57h-1.27z"/>
<path fill="#ff4000" d="M52.0 195.57h1.27v1.57h-1.27zM55.8 195.57h1.27v1.57h-1.27zM64.7 197.13h1.27v1.57h-1.27z"/>
<path fill="#ff3000" d="M53.2 195.57h1.27v1.57h-1.27zM59.6 197.13h1.27v1.57h-1.27zM62.2 197.13h1.27v1.57h-1.27z"/>
<path fill="#ff0000" d="M67.3 197.13h1.27v1.57h-1.27z"/>
<path fill="#ef0000" d="M62.2 195.57h2.55v1.57h-2.55z"/>
<rect x="31.20" y="173.40" width="63.40" height="30.40" fill="none" stroke="#fff" stroke-width="0.9"/>
<rect x="31.20" y="221.40" width="63.40" height="29.60" fill="none" stroke="#fff" stroke-width="0.9"/>
<rect x="101.90" y="258.19" width="7.90" height="1.56" fill="#00008f" stroke="none" stroke-width="1"/>
<rect x="101.90" y="256.73" width="7.90" height="1.56" fill="#00009f" stroke="none" stroke-width="1"/>
<rect x="101.90" y="255.27" width="7.90" height="1.56" fill="#0000af" stroke="none" stroke-width="1"/>
<rect x="101.90" y="253.81" width="7.90" height="1.56" fill="#0000bf" stroke="none" stroke-width="1"/>
<rect x="101.90" y="252.35" width="7.90" height="1.56" fill="#0000cf" stroke="none" stroke-width="1"/>
<rect x="101.90" y="250.88" width="7.90" height="1.56" fill="#0000df" stroke="none" stroke-width="1"/>
<rect x="101.90" y="249.42" width="7.90" height="1.56" fill="#0000ef" stroke="none" stroke-width="1"/>
<rect x="101.90" y="247.96" width="7.90" height="1.56" fill="#0000ff" stroke="none" stroke-width="1"/>
<rect x="101.90" y="246.50" width="7.90" height="1.56" fill="#0010ff" stroke="none" stroke-width="1"/>
<rect x="101.90" y="245.04" width="7.90" height="1.56" fill="#0020ff" stroke="none" stroke-width="1"/>
<rect x="101.90" y="243.58" width="7.90" height="1.56" fill="#0030ff" stroke="none" stroke-width="1"/>
<rect x="101.90" y="242.12" width="7.90" height="1.56" fill="#0040ff" stroke="none" stroke-width="1"/>
<rect x="101.90" y="240.66" width="7.90" height="1.56" fill="#0050ff" stroke="none" stroke-width="1"/>
<rect x="101.90" y="239.20" width="7.90" height="1.56" fill="#0060ff" stroke="none" stroke-width="1"/>
<rect x="101.90" y="237.74" width="7.90" height="1.56" fill="#0070ff" stroke="none" stroke-width="1"/>
<rect x="101.90" y="236.27" width="7.90" height="1.56" fill="#0080ff" stroke="none" stroke-width="1"/>
<rect x="101.90" y="234.81" width="7.90" height="1.56" fill="#008fff" stroke="none" stroke-width="1"/>
<rect x="101.90" y="233.35" width="7.90" height="1.56" fill="#009fff" stroke="none" stroke-width="1"/>
<rect x="101.90" y="231.89" width="7.90" height="1.56" fill="#00afff" stroke="none" stroke-width="1"/>
<rect x="101.90" y="230.43" width="7.90" height="1.56" fill="#00bfff" stroke="none" stroke-width="1"/>
<rect x="101.90" y="228.97" width="7.90" height="1.56" fill="#00cfff" stroke="none" stroke-width="1"/>
<rect x="101.90" y="227.51" width="7.90" height="1.56" fill="#00dfff" stroke="none" stroke-width="1"/>
<rect x="101.90" y="226.05" width="7.90" height="1.56" fill="#00efff" stroke="none" stroke-width="1"/>
<rect x="101.90" y="224.59" width="7.90" height="1.56" fill="#00ffff" stroke="none" stroke-width="1"/>
<rect x="101.90" y="223.13" width="7.90" height="1.56" fill="#10ffef" stroke="none" stroke-width="1"/>
<rect x="101.90" y="221.67" width="7.90" height="1.56" fill="#20ffdf" stroke="none" stroke-width="1"/>
<rect x="101.90" y="220.20" width="7.90" height="1.56" fill="#30ffcf" stroke="none" stroke-width="1"/>
<rect x="101.90" y="218.74" width="7.90" height="1.56" fill="#40ffbf" stroke="none" stroke-width="1"/>
<rect x="101.90" y="217.28" width="7.90" height="1.56" fill="#50ffaf" stroke="none" stroke-width="1"/>
<rect x="101.90" y="215.82" width="7.90" height="1.56" fill="#60ff9f" stroke="none" stroke-width="1"/>
<rect x="101.90" y="214.36" width="7.90" height="1.56" fill="#70ff8f" stroke="none" stroke-width="1"/>
<rect x="101.90" y="212.90" width="7.90" height="1.56" fill="#80ff80" stroke="none" stroke-width="1"/>
<rect x="101.90" y="211.44" width="7.90" height="1.56" fill="#8fff70" stroke="none" stroke-width="1"/>
<rect x="101.90" y="209.98" width="7.90" height="1.56" fill="#9fff60" stroke="none" stroke-width="1"/>
<rect x="101.90" y="208.52" width="7.90" height="1.56" fill="#afff50" stroke="none" stroke-width="1"/>
<rect x="101.90" y="207.06" width="7.90" height="1.56" fill="#bfff40" stroke="none" stroke-width="1"/>
<rect x="101.90" y="205.60" width="7.90" height="1.56" fill="#cfff30" stroke="none" stroke-width="1"/>
<rect x="101.90" y="204.13" width="7.90" height="1.56" fill="#dfff20" stroke="none" stroke-width="1"/>
<rect x="101.90" y="202.67" width="7.90" height="1.56" fill="#efff10" stroke="none" stroke-width="1"/>
<rect x="101.90" y="201.21" width="7.90" height="1.56" fill="#ffff00" stroke="none" stroke-width="1"/>
<rect x="101.90" y="199.75" width="7.90" height="1.56" fill="#ffef00" stroke="none" stroke-width="1"/>
<rect x="101.90" y="198.29" width="7.90" height="1.56" fill="#ffdf00" stroke="none" stroke-width="1"/>
<rect x="101.90" y="196.83" width="7.90" height="1.56" fill="#ffcf00" stroke="none" stroke-width="1"/>
<rect x="101.90" y="195.37" width="7.90" height="1.56" fill="#ffbf00" stroke="none" stroke-width="1"/>
<rect x="101.90" y="193.91" width="7.90" height="1.56" fill="#ffaf00" stroke="none" stroke-width="1"/>
<rect x="101.90" y="192.45" width="7.90" height="1.56" fill="#ff9f00" stroke="none" stroke-width="1"/>
<rect x="101.90" y="190.99" width="7.90" height="1.56" fill="#ff8f00" stroke="none" stroke-width="1"/>
<rect x="101.90" y="189.52" width="7.90" height="1.56" fill="#ff8000" stroke="none" stroke-width="1"/>
<rect x="101.90" y="188.06" width="7.90" height="1.56" fill="#ff7000" stroke="none" stroke-width="1"/>
<rect x="101.90" y="186.60" width="7.90" height="1.56" fill="#ff6000" stroke="none" stroke-width="1"/>
<rect x="101.90" y="185.14" width="7.90" height="1.56" fill="#ff5000" stroke="none" stroke-width="1"/>
<rect x="101.90" y="183.68" width="7.90" height="1.56" fill="#ff4000" stroke="none" stroke-width="1"/>
<rect x="101.90" y="182.22" width="7.90" height="1.56" fill="#ff3000" stroke="none" stroke-width="1"/>
<rect x="101.90" y="180.76" width="7.90" height="1.56" fill="#ff2000" stroke="none" stroke-width="1"/>
<rect x="101.90" y="179.30" width="7.90" height="1.56" fill="#ff1000" stroke="none" stroke-width="1"/>
<rect x="101.90" y="177.84" width="7.90" height="1.56" fill="#ff0000" stroke="none" stroke-width="1"/>
<rect x="101.90" y="176.38" width="7.90" height="1.56" fill="#ef0000" stroke="none" stroke-width="1"/>
<rect x="101.90" y="174.92" width="7.90" height="1.56" fill="#df0000" stroke="none" stroke-width="1"/>
<rect x="101.90" y="173.45" width="7.90" height="1.56" fill="#cf0000" stroke="none" stroke-width="1"/>
<rect x="101.90" y="171.99" width="7.90" height="1.56" fill="#bf0000" stroke="none" stroke-width="1"/>
<rect x="101.90" y="170.53" width="7.90" height="1.56" fill="#af0000" stroke="none" stroke-width="1"/>
<rect x="101.90" y="169.07" width="7.90" height="1.56" fill="#9f0000" stroke="none" stroke-width="1"/>
<rect x="101.90" y="167.61" width="7.90" height="1.56" fill="#8f0000" stroke="none" stroke-width="1"/>
<rect x="101.90" y="166.15" width="7.90" height="1.56" fill="#800000" stroke="none" stroke-width="1"/>
<rect x="101.90" y="166.20" width="7.90" height="93.50" fill="none" stroke="#555" stroke-width="0.4"/>
<text transform="matrix(1.2615 0 0 1 3.69 169.70)" font-size="6.610" font-weight="bold" fill="#000" stroke="#000" stroke-width="0.22">(e)</text>
<text transform="matrix(1.1072 0 0 1 51.98 162.10)" font-size="6.910" font-weight="bold" fill="#000" stroke="#000" stroke-width="0.38">Control</text>
<text transform="matrix(1.0267 0 0 1 94.16 162.10)" font-size="7.324" font-weight="bold" fill="#000" stroke="#000" stroke-width="0.38">Spikes/bin</text>
<text transform="matrix(1.0231 0 0 1 52.06 172.50)" font-size="7.443" font-weight="bold" fill="#fff" stroke="#fff" stroke-width="0.38">Source</text>
<text transform="matrix(1.0381 0 0 1 53.32 219.50)" font-size="6.971" font-weight="bold" fill="#fff" stroke="#fff" stroke-width="0.38">Target</text>
<text transform="matrix(1.1068 0 0 1 19.86 183.60)" font-size="7.300" font-weight="bold" fill="#000" stroke="#000" stroke-width="0.38">10</text>
<text transform="matrix(0.9578 0 0 1 20.64 199.20)" font-size="7.586" font-weight="bold" fill="#000" stroke="#000" stroke-width="0.38">20</text>
<text transform="matrix(0.9613 0 0 1 20.51 215.60)" font-size="7.586" font-weight="bold" fill="#000" stroke="#000" stroke-width="0.38">30</text>
<text transform="matrix(0.9055 0 0 1 20.58 230.60)" font-size="7.871" font-weight="bold" fill="#000" stroke="#000" stroke-width="0.38">40</text>
<text transform="matrix(0.9186 0 0 1 20.47 246.90)" font-size="7.871" font-weight="bold" fill="#000" stroke="#000" stroke-width="0.38">50</text>
<text transform="matrix(0.9230 0 0 1 20.44 262.40)" font-size="7.871" font-weight="bold" fill="#000" stroke="#000" stroke-width="0.38">60</text>
<text transform="matrix(1.1168 0 0 1 39.98 268.10)" font-size="7.014" font-weight="bold" fill="#000" stroke="#000" stroke-width="0.38">100</text>
<text transform="matrix(1.0509 0 0 1 65.93 268.10)" font-size="7.014" font-weight="bold" fill="#000" stroke="#000" stroke-width="0.38">200</text>
<text transform="matrix(1.0710 0 0 1 92.20 268.10)" font-size="7.014" font-weight="bold" fill="#000" stroke="#000" stroke-width="0.38">300</text>
<text transform="matrix(0.9200 0 0 1 38.22 278.00)" font-size="7.738" font-weight="bold" fill="#000" stroke="#000" stroke-width="0.38">Time offset, ms</text>
<text transform="matrix(0 -1.0239 1 0 15.50 230.28)" font-size="7.048" font-weight="bold" fill="#000" stroke="#000" stroke-width="0.38">Electrode #</text>
<text transform="matrix(0.9726 0 0 1 111.61 172.10)" font-size="6.145" font-weight="normal" fill="#000" stroke="#000" stroke-width="0.12">1.4</text>
<text transform="matrix(0.9572 0 0 1 111.60 185.00)" font-size="6.343" font-weight="normal" fill="#000" stroke="#000" stroke-width="0.12">1.2</text>
<text transform="matrix(0.8963 0 0 1 112.23 198.00)" font-size="6.435" font-weight="normal" fill="#000" stroke="#000" stroke-width="0.12">1</text>
<text transform="matrix(1.2372 0 0 1 111.75 210.30)" font-size="6.343" font-weight="normal" fill="#000" stroke="#000" stroke-width="0.12">0.8</text>
<text transform="matrix(1.2146 0 0 1 111.74 224.00)" font-size="6.486" font-weight="normal" fill="#000" stroke="#000" stroke-width="0.12">0.6</text>
<text transform="matrix(1.2278 0 0 1 111.75 236.90)" font-size="6.343" font-weight="normal" fill="#000" stroke="#000" stroke-width="0.12">0.4</text>
<text transform="matrix(1.3055 0 0 1 111.74 249.00)" font-size="6.057" font-weight="normal" fill="#000" stroke="#000" stroke-width="0.12">0.2</text>
<text transform="matrix(1.1752 0 0 1 112.34 262.60)" font-size="6.771" font-weight="normal" fill="#000" stroke="#000" stroke-width="0.12">0</text>
<!-- panel f -->
<rect x="157.40" y="166.20" width="66.20" height="93.50" fill="#00008f" stroke="none" stroke-width="1"/>
<path fill="#00009f" d="M161.2 220.74h2.55v1.56h-2.55zM165.0 220.74h2.55v1.56h-2.55zM190.5 220.74h8.91v1.56h-8.91zM200.7 220.74h1.27v1.56h-1.27zM157.4 223.86h1.27v1.56h-1.27zM214.7 223.86h7.64v1.56h-7.64zM158.7 231.65h2.55v1.56h-2.55zM198.1 231.65h25.46v1.56h-25.46zM159.9 239.44h2.55v1.56h-2.55zM190.5 239.44h12.73v1.56h-12.73zM212.1 239.44h1.27v1.56h-1.27zM217.2 239.44h1.27v1.56h-1.27zM219.8 239.44h2.55v1.56h-2.55zM157.4 247.23h2.55v1.56h-2.55zM199.4 247.23h2.55v1.56h-2.55zM204.5 247.23h5.09v1.56h-5.09zM210.9 247.23h12.73v1.56h-12.73z"/>
<path fill="#0000af" d="M163.8 220.74h1.27v1.56h-1.27zM167.6 220.74h7.64v1.56h-7.64zM177.8 220.74h2.55v1.56h-2.55zM184.1 220.74h6.37v1.56h-6.37zM158.7 223.86h1.27v1.56h-1.27zM196.9 223.86h17.82v1.56h-17.82zM222.3 223.86h1.27v1.56h-1.27zM161.2 231.65h1.27v1.56h-1.27zM193.0 231.65h1.27v1.56h-1.27zM195.6 231.65h2.55v1.56h-2.55zM157.4 237.88h1.27v1.56h-1.27zM198.1 237.88h6.37v1.56h-6.37zM207.1 237.88h6.37v1.56h-6.37zM214.7 237.88h5.09v1.56h-5.09zM222.3 237.88h1.27v1.56h-1.27zM162.5 239.44h3.82v1.56h-3.82zM184.1 239.44h2.55v1.56h-2.55zM189.2 239.44h1.27v1.56h-1.27zM159.9 247.23h2.55v1.56h-2.55zM193.0 247.23h6.37v1.56h-6.37zM202.0 247.23h2.55v1.56h-2.55zM209.6 247.23h1.27v1.56h-1.27z"/>
<path fill="#0000bf" d="M175.2 220.74h2.55v1.56h-2.55zM180.3 220.74h3.82v1.56h-3.82zM159.9 223.86h5.09v1.56h-5.09zM190.5 223.86h6.37v1.56h-6.37zM162.5 231.65h3.82v1.56h-3.82zM190.5 231.65h2.55v1.56h-2.55zM194.3 231.65h1.27v1.56h-1.27zM158.7 237.88h2.55v1.56h-2.55zM193.0 237.88h5.09v1.56h-5.09zM204.5 237.88h2.55v1.56h-2.55zM213.4 237.88h1.27v1.56h-1.27zM219.8 237.88h2.55v1.56h-2.55zM166.3 239.44h2.55v1.56h-2.55zM172.7 239.44h1.27v1.56h-1.27zM176.5 239.44h2.55v1.56h-2.55zM182.9 239.44h1.27v1.56h-1.27zM186.7 239.44h2.55v1.56h-2.55zM162.5 247.23h1.27v1.56h-1.27zM190.5 247.23h2.55v1.56h-2.55z"/>
<path fill="#0000cf" d="M165.0 223.86h1.27v1.56h-1.27zM189.2 223.86h1.27v1.56h-1.27zM166.3 231.65h1.27v1.56h-1.27zM186.7 231.65h3.82v1.56h-3.82zM161.2 237.88h1.27v1.56h-1.27zM191.8 237.88h1.27v1.56h-1.27zM168.9 239.44h3.82v1.56h-3.82zM173.9 239.44h2.55v1.56h-2.55zM179.0 239.44h3.82v1.56h-3.82zM163.8 247.23h2.55v1.56h-2.55zM167.6 247.23h1.27v1.56h-1.27zM186.7 247.23h1.27v1.56h-1.27z"/>
<path fill="#0000df" d="M188.0 223.86h1.27v1.56h-1.27zM167.6 231.65h1.27v1.56h-1.27zM173.9 231.65h1.27v1.56h-1.27zM184.1 231.65h2.55v1.56h-2.55zM189.2 237.88h1.27v1.56h-1.27zM157.4 241.00h1.27v1.56h-1.27zM166.3 247.23h1.27v1.56h-1.27zM168.9 247.23h2.55v1.56h-2.55zM185.4 247.23h1.27v1.56h-1.27zM188.0 247.23h2.55v1.56h-2.55zM157.4 248.79h1.27v1.56h-1.27z"/>
<path fill="#0000ef" d="M166.3 223.86h1.27v1.56h-1.27zM173.9 223.86h2.55v1.56h-2.55zM179.0 223.86h1.27v1.56h-1.27zM186.7 223.86h1.27v1.56h-1.27zM168.9 231.65h2.55v1.56h-2.55zM172.7 231.65h1.27v1.56h-1.27zM175.2 231.65h2.55v1.56h-2.55zM182.9 231.65h1.27v1.56h-1.27zM210.9 236.32h1.27v1.56h-1.27zM162.5 237.88h2.55v1.56h-2.55zM190.5 237.88h1.27v1.56h-1.27zM210.9 241.00h3.82v1.56h-3.82zM219.8 241.00h3.82v1.56h-3.82zM171.4 247.23h1.27v1.56h-1.27zM182.9 247.23h2.55v1.56h-2.55zM217.2 248.79h1.27v1.56h-1.27z"/>
<path fill="#0000ff" d="M212.1 222.30h1.27v1.56h-1.27zM222.3 222.30h1.27v1.56h-1.27zM167.6 223.86h1.27v1.56h-1.27zM171.4 223.86h1.27v1.56h-1.27zM176.5 223.86h1.27v1.56h-1.27zM180.3 223.86h6.37v1.56h-6.37zM214.7 225.42h1.27v1.56h-1.27zM219.8 225.42h3.82v1.56h-3.82zM157.4 230.09h1.27v1.56h-1.27zM171.4 231.65h1.27v1.56h-1.27zM177.8 231.65h5.09v1.56h-5.09zM219.8 233.21h1.27v1.56h-1.27zM157.4 236.32h1.27v1.56h-1.27zM209.6 236.32h1.27v1.56h-1.27zM212.1 236.32h1.27v1.56h-1.27zM165.0 237.88h2.55v1.56h-2.55zM209.6 241.00h1.27v1.56h-1.27zM157.4 245.67h1.27v1.56h-1.27zM207.1 245.67h1.27v1.56h-1.27zM172.7 247.23h2.55v1.56h-2.55zM177.8 247.23h1.27v1.56h-1.27zM158.7 248.79h1.27v1.56h-1.27zM203.2 248.79h2.55v1.56h-2.55zM208.3 248.79h2.55v1.56h-2.55zM218.5 248.79h1.27v1.56h-1.27zM222.3 248.79h1.27v1.56h-1.27z"/>
<path fill="#0010ff" d="M157.4 222.30h1.27v1.56h-1.27zM214.7 222.30h1.27v1.56h-1.27zM219.8 222.30h1.27v1.56h-1.27zM168.9 223.86h2.55v1.56h-2.55zM172.7 223.86h1.27v1.56h-1.27zM157.4 225.42h1.27v1.56h-1.27zM205.8 225.42h2.55v1.56h-2.55zM216.0 225.42h2.55v1.56h-2.55zM204.5 230.09h2.55v1.56h-2.55zM212.1 230.09h2.55v1.56h-2.55zM216.0 230.09h1.27v1.56h-1.27zM221.1 230.09h1.27v1.56h-1.27zM209.6 233.21h2.55v1.56h-2.55zM213.4 233.21h1.27v1.56h-1.27zM221.1 233.21h1.27v1.56h-1.27zM207.1 234.77h3.82v1.56h-3.82zM203.2 236.32h2.55v1.56h-2.55zM208.3 236.32h1.27v1.56h-1.27zM213.4 236.32h1.27v1.56h-1.27zM217.2 236.32h1.27v1.56h-1.27zM168.9 237.88h1.27v1.56h-1.27zM185.4 237.88h1.27v1.56h-1.27zM188.0 237.88h1.27v1.56h-1.27zM202.0 241.00h3.82v1.56h-3.82zM214.7 241.00h5.09v1.56h-5.09zM222.3 242.56h1.27v1.56h-1.27zM158.7 245.67h1.27v1.56h-1.27zM204.5 245.67h1.27v1.56h-1.27zM208.3 245.67h1.27v1.56h-1.27zM176.5 247.23h1.27v1.56h-1.27zM179.0 247.23h3.82v1.56h-3.82zM207.1 248.79h1.27v1.56h-1.27zM214.7 248.79h2.55v1.56h-2.55zM221.1 248.79h1.27v1.56h-1.27z"/>
<path fill="#0020ff" d="M203.2 222.30h1.27v1.56h-1.27zM207.1 222.30h1.27v1.56h-1.27zM209.6 222.30h2.55v1.56h-2.55zM213.4 222.30h1.27v1.56h-1.27zM216.0 222.30h1.27v1.56h-1.27zM221.1 222.30h1.27v1.56h-1.27zM177.8 223.86h1.27v1.56h-1.27zM200.7 225.42h1.27v1.56h-1.27zM203.2 225.42h2.55v1.56h-2.55zM208.3 225.42h6.37v1.56h-6.37zM218.5 225.42h1.27v1.56h-1.27zM157.4 226.97h1.27v1.56h-1.27zM221.1 226.97h2.55v1.56h-2.55zM158.7 230.09h1.27v1.56h-1.27zM203.2 230.09h1.27v1.56h-1.27zM207.1 230.09h1.27v1.56h-1.27zM214.7 230.09h1.27v1.56h-1.27zM218.5 230.09h2.55v1.56h-2.55zM157.4 233.21h1.27v1.56h-1.27zM207.1 233.21h2.55v1.56h-2.55zM212.1 233.21h1.27v1.56h-1.27zM218.5 233.21h1.27v1.56h-1.27zM213.4 234.77h1.27v1.56h-1.27zM216.0 234.77h1.27v1.56h-1.27zM222.3 234.77h1.27v1.56h-1.27zM207.1 236.32h1.27v1.56h-1.27zM214.7 236.32h2.55v1.56h-2.55zM218.5 236.32h3.82v1.56h-3.82zM167.6 237.88h1.27v1.56h-1.27zM171.4 237.88h2.55v1.56h-2.55zM181.6 237.88h1.27v1.56h-1.27zM186.7 237.88h1.27v1.56h-1.27zM158.7 241.00h1.27v1.56h-1.27zM200.7 241.00h1.27v1.56h-1.27zM205.8 241.00h1.27v1.56h-1.27zM208.3 241.00h1.27v1.56h-1.27zM209.6 242.56h2.55v1.56h-2.55zM221.1 242.56h1.27v1.56h-1.27zM209.6 244.12h2.55v1.56h-2.55zM221.1 244.12h1.27v1.56h-1.27zM202.0 245.67h2.55v1.56h-2.55zM205.8 245.67h1.27v1.56h-1.27zM212.1 245.67h1.27v1.56h-1.27zM216.0 245.67h1.27v1.56h-1.27zM222.3 245.67h1.27v1.56h-1.27zM175.2 247.23h1.27v1.56h-1.27zM159.9 248.79h1.27v1.56h-1.27zM199.4 248.79h1.27v1.56h-1.27zM205.8 248.79h1.27v1.56h-1.27zM210.9 248.79h3.82v1.56h-3.82zM219.8 248.79h1.27v1.56h-1.27z"/>
<path fill="#0030ff" d="M205.8 222.30h1.27v1.56h-1.27zM208.3 222.30h1.27v1.56h-1.27zM217.2 222.30h2.55v1.56h-2.55zM158.7 225.42h1.27v1.56h-1.27zM199.4 225.42h1.27v1.56h-1.27zM212.1 226.97h1.27v1.56h-1.27zM219.8 226.97h1.27v1.56h-1.27zM219.8 228.53h1.27v1.56h-1.27zM196.9 230.09h2.55v1.56h-2.55zM209.6 230.09h2.55v1.56h-2.55zM217.2 230.09h1.27v1.56h-1.27zM222.3 230.09h1.27v1.56h-1.27zM202.0 233.21h2.55v1.56h-2.55zM205.8 233.21h1.27v1.56h-1.27zM214.7 233.21h1.27v1.56h-1.27zM222.3 233.21h1.27v1.56h-1.27zM157.4 234.77h1.27v1.56h-1.27zM205.8 234.77h1.27v1.56h-1.27zM212.1 234.77h1.27v1.56h-1.27zM214.7 234.77h1.27v1.56h-1.27zM217.2 234.77h1.27v1.56h-1.27zM221.1 234.77h1.27v1.56h-1.27zM202.0 236.32h1.27v1.56h-1.27zM222.3 236.32h1.27v1.56h-1.27zM170.1 237.88h1.27v1.56h-1.27zM173.9 237.88h1.27v1.56h-1.27zM179.0 237.88h2.55v1.56h-2.55zM184.1 237.88h1.27v1.56h-1.27zM199.4 241.00h1.27v1.56h-1.27zM207.1 241.00h1.27v1.56h-1.27zM157.4 242.56h1.27v1.56h-1.27zM208.3 242.56h1.27v1.56h-1.27zM157.4 244.12h1.27v1.56h-1.27zM210.9 245.67h1.27v1.56h-1.27zM213.4 245.67h1.27v1.56h-1.27zM219.8 245.67h2.55v1.56h-2.55zM198.1 248.79h1.27v1.56h-1.27zM202.0 248.79h1.27v1.56h-1.27z"/>
<path fill="#0040ff" d="M158.7 222.30h1.27v1.56h-1.27zM198.1 222.30h1.27v1.56h-1.27zM204.5 222.30h1.27v1.56h-1.27zM208.3 226.97h1.27v1.56h-1.27zM210.9 226.97h1.27v1.56h-1.27zM157.4 228.53h2.55v1.56h-2.55zM208.3 228.53h1.27v1.56h-1.27zM214.7 228.53h1.27v1.56h-1.27zM217.2 228.53h1.27v1.56h-1.27zM221.1 228.53h2.55v1.56h-2.55zM199.4 230.09h1.27v1.56h-1.27zM208.3 230.09h1.27v1.56h-1.27zM204.5 233.21h1.27v1.56h-1.27zM202.0 234.77h1.27v1.56h-1.27zM204.5 234.77h1.27v1.56h-1.27zM210.9 234.77h1.27v1.56h-1.27zM205.8 236.32h1.27v1.56h-1.27zM182.9 237.88h1.27v1.56h-1.27zM205.8 242.56h1.27v1.56h-1.27zM216.0 242.56h1.27v1.56h-1.27zM219.8 242.56h1.27v1.56h-1.27zM158.7 244.12h1.27v1.56h-1.27zM203.2 244.12h1.27v1.56h-1.27zM205.8 244.12h3.82v1.56h-3.82zM214.7 244.12h1.27v1.56h-1.27zM219.8 244.12h1.27v1.56h-1.27zM222.3 244.12h1.27v1.56h-1.27zM159.9 245.67h1.27v1.56h-1.27zM209.6 245.67h1.27v1.56h-1.27zM214.7 245.67h1.27v1.56h-1.27zM217.2 245.67h2.55v1.56h-2.55zM200.7 248.79h1.27v1.56h-1.27z"/>
<path fill="#0050ff" d="M159.9 222.30h1.27v1.56h-1.27zM196.9 222.30h1.27v1.56h-1.27zM202.0 222.30h1.27v1.56h-1.27zM198.1 225.42h1.27v1.56h-1.27zM202.0 225.42h1.27v1.56h-1.27zM209.6 226.97h1.27v1.56h-1.27zM216.0 226.97h1.27v1.56h-1.27zM212.1 228.53h2.55v1.56h-2.55zM216.0 228.53h1.27v1.56h-1.27zM200.7 230.09h2.55v1.56h-2.55zM158.7 233.21h1.27v1.56h-1.27zM200.7 233.21h1.27v1.56h-1.27zM216.0 233.21h2.55v1.56h-2.55zM158.7 234.77h1.27v1.56h-1.27zM198.1 234.77h1.27v1.56h-1.27zM218.5 234.77h2.55v1.56h-2.55zM158.7 236.32h2.55v1.56h-2.55zM200.7 236.32h1.27v1.56h-1.27zM175.2 237.88h1.27v1.56h-1.27zM177.8 237.88h1.27v1.56h-1.27zM195.6 241.00h1.27v1.56h-1.27zM207.1 242.56h1.27v1.56h-1.27zM212.1 242.56h1.27v1.56h-1.27zM214.7 242.56h1.27v1.56h-1.27zM204.5 244.12h1.27v1.56h-1.27zM213.4 244.12h1.27v1.56h-1.27zM200.7 245.67h1.27v1.56h-1.27zM196.9 248.79h1.27v1.56h-1.27z"/>
<path fill="#0060ff" d="M194.3 222.30h2.55v1.56h-2.55zM196.9 225.42h1.27v1.56h-1.27zM203.2 226.97h1.27v1.56h-1.27zM213.4 226.97h1.27v1.56h-1.27zM217.2 226.97h2.55v1.56h-2.55zM204.5 228.53h2.55v1.56h-2.55zM218.5 228.53h1.27v1.56h-1.27zM199.4 233.21h1.27v1.56h-1.27zM203.2 234.77h1.27v1.56h-1.27zM198.1 236.32h2.55v1.56h-2.55zM176.5 237.88h1.27v1.56h-1.27zM159.9 241.00h1.27v1.56h-1.27zM162.5 241.00h1.27v1.56h-1.27zM194.3 241.00h1.27v1.56h-1.27zM198.1 241.00h1.27v1.56h-1.27zM158.7 242.56h2.55v1.56h-2.55zM204.5 242.56h1.27v1.56h-1.27zM217.2 242.56h1.27v1.56h-1.27zM212.1 244.12h1.27v1.56h-1.27zM198.1 245.67h2.55v1.56h-2.55zM161.2 248.79h2.55v1.56h-2.55z"/>
<path fill="#0070ff" d="M199.4 222.30h2.55v1.56h-2.55zM159.9 225.42h1.27v1.56h-1.27zM195.6 225.42h1.27v1.56h-1.27zM199.4 226.97h2.55v1.56h-2.55zM204.5 226.97h1.27v1.56h-1.27zM207.1 226.97h1.27v1.56h-1.27zM214.7 226.97h1.27v1.56h-1.27zM207.1 228.53h1.27v1.56h-1.27zM209.6 228.53h1.27v1.56h-1.27zM159.9 230.09h1.27v1.56h-1.27zM195.6 230.09h1.27v1.56h-1.27zM196.9 236.32h1.27v1.56h-1.27zM161.2 241.00h1.27v1.56h-1.27zM193.0 241.00h1.27v1.56h-1.27zM196.9 241.00h1.27v1.56h-1.27zM198.1 242.56h1.27v1.56h-1.27zM203.2 242.56h1.27v1.56h-1.27zM213.4 242.56h1.27v1.56h-1.27zM218.5 242.56h1.27v1.56h-1.27zM199.4 244.12h1.27v1.56h-1.27zM202.0 244.12h1.27v1.56h-1.27zM216.0 244.12h3.82v1.56h-3.82zM191.8 248.79h1.27v1.56h-1.27z"/>
<path fill="#0080ff" d="M161.2 222.30h2.55v1.56h-2.55zM158.7 226.97h1.27v1.56h-1.27zM195.6 226.97h1.27v1.56h-1.27zM198.1 226.97h1.27v1.56h-1.27zM205.8 226.97h1.27v1.56h-1.27zM196.9 228.53h1.27v1.56h-1.27zM203.2 228.53h1.27v1.56h-1.27zM210.9 228.53h1.27v1.56h-1.27zM194.3 230.09h1.27v1.56h-1.27zM159.9 233.21h1.27v1.56h-1.27zM199.4 234.77h2.55v1.56h-2.55zM161.2 236.32h1.27v1.56h-1.27zM199.4 242.56h1.27v1.56h-1.27zM202.0 242.56h1.27v1.56h-1.27zM195.6 248.79h1.27v1.56h-1.27z"/>
<path fill="#008fff" d="M161.2 225.42h1.27v1.56h-1.27zM191.8 225.42h1.27v1.56h-1.27zM194.3 225.42h1.27v1.56h-1.27zM202.0 226.97h1.27v1.56h-1.27zM159.9 228.53h1.27v1.56h-1.27zM199.4 228.53h1.27v1.56h-1.27zM161.2 230.09h1.27v1.56h-1.27zM161.2 233.21h1.27v1.56h-1.27zM198.1 233.21h1.27v1.56h-1.27zM161.2 234.77h1.27v1.56h-1.27zM196.9 234.77h1.27v1.56h-1.27zM195.6 236.32h1.27v1.56h-1.27zM163.8 241.00h1.27v1.56h-1.27zM195.6 242.56h1.27v1.56h-1.27zM200.7 242.56h1.27v1.56h-1.27zM159.9 244.12h1.27v1.56h-1.27zM193.0 245.67h1.27v1.56h-1.27zM196.9 245.67h1.27v1.56h-1.27zM190.5 248.79h1.27v1.56h-1.27z"/>
<path fill="#009fff" d="M163.8 222.30h1.27v1.56h-1.27zM193.0 225.42h1.27v1.56h-1.27zM195.6 228.53h1.27v1.56h-1.27zM198.1 228.53h1.27v1.56h-1.27zM202.0 228.53h1.27v1.56h-1.27zM193.0 230.09h1.27v1.56h-1.27zM194.3 233.21h3.82v1.56h-3.82zM159.9 234.77h1.27v1.56h-1.27zM193.0 236.32h1.27v1.56h-1.27zM189.2 241.00h3.82v1.56h-3.82zM198.1 244.12h1.27v1.56h-1.27zM200.7 244.12h1.27v1.56h-1.27zM190.5 245.67h2.55v1.56h-2.55z"/>
<path fill="#00afff" d="M190.5 222.30h1.27v1.56h-1.27zM196.9 226.97h1.27v1.56h-1.27zM200.7 228.53h1.27v1.56h-1.27zM162.5 230.09h1.27v1.56h-1.27zM194.3 234.77h2.55v1.56h-2.55zM194.3 236.32h1.27v1.56h-1.27zM165.0 241.00h1.27v1.56h-1.27zM188.0 241.00h1.27v1.56h-1.27zM161.2 242.56h1.27v1.56h-1.27zM196.9 242.56h1.27v1.56h-1.27zM161.2 245.67h1.27v1.56h-1.27zM195.6 245.67h1.27v1.56h-1.27zM193.0 248.79h2.55v1.56h-2.55z"/>
<path fill="#00bfff" d="M162.5 225.42h1.27v1.56h-1.27zM159.9 226.97h1.27v1.56h-1.27zM161.2 228.53h1.27v1.56h-1.27zM194.3 228.53h1.27v1.56h-1.27zM163.8 233.21h1.27v1.56h-1.27zM191.8 236.32h1.27v1.56h-1.27zM196.9 244.12h1.27v1.56h-1.27zM163.8 245.67h1.27v1.56h-1.27zM194.3 245.67h1.27v1.56h-1.27z"/>
<path fill="#00cfff" d="M165.0 222.30h1.27v1.56h-1.27zM191.8 222.30h2.55v1.56h-2.55zM163.8 225.42h1.27v1.56h-1.27zM162.5 228.53h1.27v1.56h-1.27zM188.0 230.09h1.27v1.56h-1.27zM162.5 233.21h1.27v1.56h-1.27zM194.3 244.12h1.27v1.56h-1.27zM162.5 245.67h1.27v1.56h-1.27zM188.0 245.67h2.55v1.56h-2.55zM166.3 248.79h1.27v1.56h-1.27z"/>
<path fill="#00dfff" d="M190.5 225.42h1.27v1.56h-1.27zM194.3 226.97h1.27v1.56h-1.27zM163.8 230.09h1.27v1.56h-1.27zM191.8 230.09h1.27v1.56h-1.27zM162.5 236.32h1.27v1.56h-1.27zM190.5 236.32h1.27v1.56h-1.27zM190.5 242.56h1.27v1.56h-1.27zM193.0 242.56h1.27v1.56h-1.27zM195.6 244.12h1.27v1.56h-1.27zM163.8 248.79h1.27v1.56h-1.27z"/>
<path fill="#00efff" d="M186.7 222.30h2.55v1.56h-2.55zM161.2 226.97h1.27v1.56h-1.27zM193.0 233.21h1.27v1.56h-1.27zM165.0 245.67h1.27v1.56h-1.27zM167.6 248.79h1.27v1.56h-1.27zM186.7 248.79h2.55v1.56h-2.55z"/>
<path fill="#00ffff" d="M191.8 226.97h1.27v1.56h-1.27zM193.0 228.53h1.27v1.56h-1.27zM165.0 230.09h1.27v1.56h-1.27zM186.7 230.09h1.27v1.56h-1.27zM162.5 234.77h1.27v1.56h-1.27zM191.8 234.77h2.55v1.56h-2.55zM194.3 242.56h1.27v1.56h-1.27zM161.2 244.12h1.27v1.56h-1.27zM189.2 248.79h1.27v1.56h-1.27z"/>
<path fill="#10ffef" d="M186.7 225.42h1.27v1.56h-1.27zM163.8 226.97h1.27v1.56h-1.27zM163.8 228.53h1.27v1.56h-1.27zM190.5 228.53h1.27v1.56h-1.27zM166.3 230.09h1.27v1.56h-1.27zM190.5 230.09h1.27v1.56h-1.27zM186.7 236.32h2.55v1.56h-2.55zM191.8 242.56h1.27v1.56h-1.27zM191.8 244.12h1.27v1.56h-1.27z"/>
<path fill="#20ffdf" d="M189.2 222.30h1.27v1.56h-1.27zM189.2 230.09h1.27v1.56h-1.27zM165.0 233.21h1.27v1.56h-1.27zM191.8 233.21h1.27v1.56h-1.27zM163.8 234.77h1.27v1.56h-1.27zM189.2 236.32h1.27v1.56h-1.27zM193.0 244.12h1.27v1.56h-1.27zM167.6 245.67h1.27v1.56h-1.27zM165.0 248.79h1.27v1.56h-1.27z"/>
<path fill="#30ffcf" d="M166.3 222.30h1.27v1.56h-1.27zM193.0 226.97h1.27v1.56h-1.27zM185.4 241.00h1.27v1.56h-1.27zM189.2 242.56h1.27v1.56h-1.27zM166.3 245.67h1.27v1.56h-1.27z"/>
<path fill="#40ffbf" d="M167.6 222.30h1.27v1.56h-1.27zM162.5 226.97h1.27v1.56h-1.27zM189.2 228.53h1.27v1.56h-1.27zM188.0 233.21h1.27v1.56h-1.27zM190.5 233.21h1.27v1.56h-1.27zM163.8 236.32h1.27v1.56h-1.27zM168.9 236.32h1.27v1.56h-1.27zM166.3 241.00h1.27v1.56h-1.27zM170.1 241.00h1.27v1.56h-1.27zM184.1 241.00h1.27v1.56h-1.27zM186.7 241.00h1.27v1.56h-1.27zM162.5 242.56h1.27v1.56h-1.27zM186.7 245.67h1.27v1.56h-1.27z"/>
<path fill="#50ffaf" d="M165.0 225.42h1.27v1.56h-1.27zM188.0 225.42h2.55v1.56h-2.55zM165.0 226.97h1.27v1.56h-1.27zM191.8 228.53h1.27v1.56h-1.27zM168.9 230.09h1.27v1.56h-1.27zM165.0 236.32h1.27v1.56h-1.27zM167.6 236.32h1.27v1.56h-1.27zM180.3 241.00h1.27v1.56h-1.27zM162.5 244.12h1.27v1.56h-1.27z"/>
<path fill="#60ff9f" d="M185.4 222.30h1.27v1.56h-1.27zM166.3 236.32h1.27v1.56h-1.27zM181.6 241.00h1.27v1.56h-1.27zM186.7 244.12h1.27v1.56h-1.27zM168.9 248.79h1.27v1.56h-1.27zM182.9 248.79h1.27v1.56h-1.27zM185.4 248.79h1.27v1.56h-1.27z"/>
<path fill="#70ff8f" d="M166.3 225.42h1.27v1.56h-1.27zM167.6 230.09h1.27v1.56h-1.27zM166.3 233.21h1.27v1.56h-1.27zM185.4 234.77h1.27v1.56h-1.27zM190.5 234.77h1.27v1.56h-1.27zM182.9 236.32h1.27v1.56h-1.27zM184.1 248.79h1.27v1.56h-1.27z"/>
<path fill="#80ff80" d="M182.9 225.42h1.27v1.56h-1.27zM190.5 226.97h1.27v1.56h-1.27zM188.0 228.53h1.27v1.56h-1.27zM185.4 230.09h1.27v1.56h-1.27zM189.2 233.21h1.27v1.56h-1.27zM186.7 242.56h1.27v1.56h-1.27z"/>
<path fill="#8fff70" d="M168.9 222.30h1.27v1.56h-1.27zM166.3 226.97h1.27v1.56h-1.27zM165.0 228.53h1.27v1.56h-1.27zM170.1 230.09h1.27v1.56h-1.27zM184.1 233.21h2.55v1.56h-2.55zM186.7 234.77h1.27v1.56h-1.27zM168.9 241.00h1.27v1.56h-1.27zM171.4 241.00h1.27v1.56h-1.27zM177.8 241.00h1.27v1.56h-1.27zM190.5 244.12h1.27v1.56h-1.27zM168.9 245.67h1.27v1.56h-1.27zM171.4 245.67h1.27v1.56h-1.27zM182.9 245.67h1.27v1.56h-1.27zM172.7 248.79h1.27v1.56h-1.27zM179.0 248.79h1.27v1.56h-1.27z"/>
<path fill="#9fff60" d="M171.4 222.30h1.27v1.56h-1.27zM180.3 222.30h1.27v1.56h-1.27zM186.7 226.97h1.27v1.56h-1.27zM186.7 233.21h1.27v1.56h-1.27zM165.0 234.77h1.27v1.56h-1.27zM184.1 234.77h1.27v1.56h-1.27zM167.6 241.00h1.27v1.56h-1.27zM172.7 241.00h1.27v1.56h-1.27zM163.8 242.56h2.55v1.56h-2.55z"/>
<path fill="#afff50" d="M167.6 225.42h1.27v1.56h-1.27zM185.4 225.42h1.27v1.56h-1.27zM189.2 226.97h1.27v1.56h-1.27zM175.2 230.09h1.27v1.56h-1.27zM182.9 233.21h1.27v1.56h-1.27zM170.1 236.32h1.27v1.56h-1.27zM181.6 236.32h1.27v1.56h-1.27zM185.4 236.32h1.27v1.56h-1.27zM163.8 244.12h1.27v1.56h-1.27zM188.0 244.12h1.27v1.56h-1.27zM176.5 248.79h1.27v1.56h-1.27z"/>
<path fill="#bfff40" d="M181.6 222.30h1.27v1.56h-1.27zM184.1 222.30h1.27v1.56h-1.27zM184.1 226.97h2.55v1.56h-2.55zM180.3 236.32h1.27v1.56h-1.27zM185.4 242.56h1.27v1.56h-1.27zM165.0 244.12h1.27v1.56h-1.27zM167.6 244.12h1.27v1.56h-1.27zM189.2 244.12h1.27v1.56h-1.27zM173.9 245.67h1.27v1.56h-1.27zM181.6 248.79h1.27v1.56h-1.27z"/>
<path fill="#cfff30" d="M177.8 222.30h1.27v1.56h-1.27zM168.9 225.42h1.27v1.56h-1.27zM181.6 225.42h1.27v1.56h-1.27zM189.2 234.77h1.27v1.56h-1.27zM184.1 236.32h1.27v1.56h-1.27zM182.9 241.00h1.27v1.56h-1.27zM166.3 242.56h1.27v1.56h-1.27zM188.0 242.56h1.27v1.56h-1.27zM185.4 244.12h1.27v1.56h-1.27zM172.7 245.67h1.27v1.56h-1.27zM185.4 245.67h1.27v1.56h-1.27zM173.9 248.79h1.27v1.56h-1.27z"/>
<path fill="#dfff20" d="M184.1 225.42h1.27v1.56h-1.27zM188.0 226.97h1.27v1.56h-1.27zM176.5 230.09h1.27v1.56h-1.27zM181.6 230.09h1.27v1.56h-1.27zM184.1 230.09h1.27v1.56h-1.27zM167.6 233.21h1.27v1.56h-1.27zM171.4 233.21h1.27v1.56h-1.27zM180.3 233.21h1.27v1.56h-1.27zM182.9 234.77h1.27v1.56h-1.27zM179.0 241.00h1.27v1.56h-1.27zM166.3 244.12h1.27v1.56h-1.27zM181.6 245.67h1.27v1.56h-1.27z"/>
<path fill="#efff10" d="M170.1 222.30h1.27v1.56h-1.27zM168.9 226.97h1.27v1.56h-1.27zM186.7 228.53h1.27v1.56h-1.27zM172.7 233.21h1.27v1.56h-1.27zM166.3 234.77h1.27v1.56h-1.27zM188.0 234.77h1.27v1.56h-1.27zM175.2 245.67h1.27v1.56h-1.27zM177.8 245.67h1.27v1.56h-1.27zM184.1 245.67h1.27v1.56h-1.27zM170.1 248.79h2.55v1.56h-2.55z"/>
<path fill="#ffff00" d="M185.4 228.53h1.27v1.56h-1.27zM171.4 230.09h1.27v1.56h-1.27zM184.1 242.56h1.27v1.56h-1.27zM177.8 248.79h1.27v1.56h-1.27z"/>
<path fill="#ffef00" d="M175.2 222.30h1.27v1.56h-1.27zM179.0 222.30h1.27v1.56h-1.27zM166.3 228.53h1.27v1.56h-1.27zM170.1 233.21h1.27v1.56h-1.27zM168.9 234.77h1.27v1.56h-1.27zM173.9 241.00h1.27v1.56h-1.27zM176.5 241.00h1.27v1.56h-1.27zM167.6 242.56h1.27v1.56h-1.27z"/>
<path fill="#ffdf00" d="M177.8 225.42h1.27v1.56h-1.27zM177.8 230.09h1.27v1.56h-1.27zM168.9 233.21h1.27v1.56h-1.27zM179.0 233.21h1.27v1.56h-1.27zM167.6 234.77h1.27v1.56h-1.27zM170.1 245.67h1.27v1.56h-1.27zM179.0 245.67h1.27v1.56h-1.27zM180.3 248.79h1.27v1.56h-1.27z"/>
<path fill="#ffcf00" d="M182.9 222.30h1.27v1.56h-1.27zM171.4 225.42h1.27v1.56h-1.27zM170.1 226.97h2.55v1.56h-2.55zM182.9 230.09h1.27v1.56h-1.27zM181.6 233.21h1.27v1.56h-1.27zM181.6 234.77h1.27v1.56h-1.27zM179.0 236.32h1.27v1.56h-1.27zM175.2 241.00h1.27v1.56h-1.27zM168.9 242.56h1.27v1.56h-1.27z"/>
<path fill="#ffbf00" d="M170.1 225.42h1.27v1.56h-1.27zM172.7 225.42h1.27v1.56h-1.27zM177.8 233.21h1.27v1.56h-1.27zM175.2 234.77h1.27v1.56h-1.27zM175.2 248.79h1.27v1.56h-1.27z"/>
<path fill="#ffaf00" d="M167.6 226.97h1.27v1.56h-1.27zM172.7 230.09h2.55v1.56h-2.55zM175.2 236.32h1.27v1.56h-1.27zM181.6 242.56h1.27v1.56h-1.27z"/>
<path fill="#ff9f00" d="M176.5 222.30h1.27v1.56h-1.27zM175.2 225.42h1.27v1.56h-1.27zM177.8 234.77h1.27v1.56h-1.27zM182.9 242.56h1.27v1.56h-1.27zM176.5 245.67h1.27v1.56h-1.27zM180.3 245.67h1.27v1.56h-1.27z"/>
<path fill="#ff8f00" d="M173.9 225.42h1.27v1.56h-1.27zM180.3 225.42h1.27v1.56h-1.27zM170.1 228.53h1.27v1.56h-1.27zM179.0 230.09h1.27v1.56h-1.27zM173.9 236.32h1.27v1.56h-1.27zM176.5 244.12h1.27v1.56h-1.27z"/>
<path fill="#ff8000" d="M172.7 222.30h1.27v1.56h-1.27zM176.5 225.42h1.27v1.56h-1.27zM179.0 225.42h1.27v1.56h-1.27zM182.9 226.97h1.27v1.56h-1.27zM180.3 228.53h1.27v1.56h-1.27zM180.3 230.09h1.27v1.56h-1.27zM177.8 236.32h1.27v1.56h-1.27zM180.3 242.56h1.27v1.56h-1.27z"/>
<path fill="#ff7000" d="M167.6 228.53h1.27v1.56h-1.27zM173.9 234.77h1.27v1.56h-1.27zM171.4 236.32h1.27v1.56h-1.27z"/>
<path fill="#ff6000" d="M173.9 222.30h1.27v1.56h-1.27zM175.2 226.97h1.27v1.56h-1.27zM176.5 233.21h1.27v1.56h-1.27zM172.7 242.56h1.27v1.56h-1.27zM181.6 244.12h1.27v1.56h-1.27zM184.1 244.12h1.27v1.56h-1.27z"/>
<path fill="#ff5000" d="M170.1 234.77h1.27v1.56h-1.27zM176.5 234.77h1.27v1.56h-1.27zM176.5 236.32h1.27v1.56h-1.27z"/>
<path fill="#ff4000" d="M181.6 226.97h1.27v1.56h-1.27zM171.4 228.53h1.27v1.56h-1.27zM181.6 228.53h1.27v1.56h-1.27zM170.1 242.56h1.27v1.56h-1.27z"/>
<path fill="#ff3000" d="M179.0 228.53h1.27v1.56h-1.27zM184.1 228.53h1.27v1.56h-1.27zM171.4 234.77h1.27v1.56h-1.27zM179.0 234.77h2.55v1.56h-2.55zM172.7 236.32h1.27v1.56h-1.27zM168.9 244.12h1.27v1.56h-1.27zM171.4 244.12h1.27v1.56h-1.27z"/>
<path fill="#ff2000" d="M168.9 228.53h1.27v1.56h-1.27zM172.7 244.12h1.27v1.56h-1.27z"/>
<path fill="#ff1000" d="M180.3 226.97h1.27v1.56h-1.27zM173.9 233.21h2.55v1.56h-2.55z"/>
<path fill="#ff0000" d="M173.9 226.97h1.27v1.56h-1.27zM172.7 234.77h1.27v1.56h-1.27zM177.8 244.12h1.27v1.56h-1.27zM182.9 244.12h1.27v1.56h-1.27z"/>
<path fill="#ef0000" d="M171.4 242.56h1.27v1.56h-1.27zM176.5 242.56h1.27v1.56h-1.27z"/>
<path fill="#df0000" d="M170.1 244.12h1.27v1.56h-1.27z"/>
<path fill="#cf0000" d="M172.7 226.97h1.27v1.56h-1.27zM179.0 226.97h1.27v1.56h-1.27z"/>
<path fill="#bf0000" d="M172.7 228.53h1.27v1.56h-1.27zM173.9 242.56h1.27v1.56h-1.27zM179.0 242.56h1.27v1.56h-1.27z"/>
<path fill="#af0000" d="M177.8 228.53h1.27v1.56h-1.27zM182.9 228.53h1.27v1.56h-1.27z"/>
<path fill="#9f0000" d="M180.3 244.12h1.27v1.56h-1.27z"/>
<path fill="#8f0000" d="M176.5 226.97h1.27v1.56h-1.27zM175.2 242.56h1.27v1.56h-1.27z"/>
<path fill="#800000" d="M177.8 226.97h1.27v1.56h-1.27zM173.9 228.53h3.82v1.56h-3.82zM177.8 242.56h1.27v1.56h-1.27zM173.9 244.12h2.55v1.56h-2.55zM179.0 244.12h1.27v1.56h-1.27z"/>
<rect x="158.50" y="173.80" width="63.70" height="29.40" fill="none" stroke="#fff" stroke-width="0.9"/>
<rect x="158.40" y="221.40" width="63.80" height="29.50" fill="none" stroke="#fff" stroke-width="0.9"/>
<rect x="229.60" y="258.19" width="7.80" height="1.56" fill="#00008f" stroke="none" stroke-width="1"/>
<rect x="229.60" y="256.73" width="7.80" height="1.56" fill="#00009f" stroke="none" stroke-width="1"/>
<rect x="229.60" y="255.27" width="7.80" height="1.56" fill="#0000af" stroke="none" stroke-width="1"/>
<rect x="229.60" y="253.81" width="7.80" height="1.56" fill="#0000bf" stroke="none" stroke-width="1"/>
<rect x="229.60" y="252.35" width="7.80" height="1.56" fill="#0000cf" stroke="none" stroke-width="1"/>
<rect x="229.60" y="250.88" width="7.80" height="1.56" fill="#0000df" stroke="none" stroke-width="1"/>
<rect x="229.60" y="249.42" width="7.80" height="1.56" fill="#0000ef" stroke="none" stroke-width="1"/>
<rect x="229.60" y="247.96" width="7.80" height="1.56" fill="#0000ff" stroke="none" stroke-width="1"/>
<rect x="229.60" y="246.50" width="7.80" height="1.56" fill="#0010ff" stroke="none" stroke-width="1"/>
<rect x="229.60" y="245.04" width="7.80" height="1.56" fill="#0020ff" stroke="none" stroke-width="1"/>
<rect x="229.60" y="243.58" width="7.80" height="1.56" fill="#0030ff" stroke="none" stroke-width="1"/>
<rect x="229.60" y="242.12" width="7.80" height="1.56" fill="#0040ff" stroke="none" stroke-width="1"/>
<rect x="229.60" y="240.66" width="7.80" height="1.56" fill="#0050ff" stroke="none" stroke-width="1"/>
<rect x="229.60" y="239.20" width="7.80" height="1.56" fill="#0060ff" stroke="none" stroke-width="1"/>
<rect x="229.60" y="237.74" width="7.80" height="1.56" fill="#0070ff" stroke="none" stroke-width="1"/>
<rect x="229.60" y="236.27" width="7.80" height="1.56" fill="#0080ff" stroke="none" stroke-width="1"/>
<rect x="229.60" y="234.81" width="7.80" height="1.56" fill="#008fff" stroke="none" stroke-width="1"/>
<rect x="229.60" y="233.35" width="7.80" height="1.56" fill="#009fff" stroke="none" stroke-width="1"/>
<rect x="229.60" y="231.89" width="7.80" height="1.56" fill="#00afff" stroke="none" stroke-width="1"/>
<rect x="229.60" y="230.43" width="7.80" height="1.56" fill="#00bfff" stroke="none" stroke-width="1"/>
<rect x="229.60" y="228.97" width="7.80" height="1.56" fill="#00cfff" stroke="none" stroke-width="1"/>
<rect x="229.60" y="227.51" width="7.80" height="1.56" fill="#00dfff" stroke="none" stroke-width="1"/>
<rect x="229.60" y="226.05" width="7.80" height="1.56" fill="#00efff" stroke="none" stroke-width="1"/>
<rect x="229.60" y="224.59" width="7.80" height="1.56" fill="#00ffff" stroke="none" stroke-width="1"/>
<rect x="229.60" y="223.13" width="7.80" height="1.56" fill="#10ffef" stroke="none" stroke-width="1"/>
<rect x="229.60" y="221.67" width="7.80" height="1.56" fill="#20ffdf" stroke="none" stroke-width="1"/>
<rect x="229.60" y="220.20" width="7.80" height="1.56" fill="#30ffcf" stroke="none" stroke-width="1"/>
<rect x="229.60" y="218.74" width="7.80" height="1.56" fill="#40ffbf" stroke="none" stroke-width="1"/>
<rect x="229.60" y="217.28" width="7.80" height="1.56" fill="#50ffaf" stroke="none" stroke-width="1"/>
<rect x="229.60" y="215.82" width="7.80" height="1.56" fill="#60ff9f" stroke="none" stroke-width="1"/>
<rect x="229.60" y="214.36" width="7.80" height="1.56" fill="#70ff8f" stroke="none" stroke-width="1"/>
<rect x="229.60" y="212.90" width="7.80" height="1.56" fill="#80ff80" stroke="none" stroke-width="1"/>
<rect x="229.60" y="211.44" width="7.80" height="1.56" fill="#8fff70" stroke="none" stroke-width="1"/>
<rect x="229.60" y="209.98" width="7.80" height="1.56" fill="#9fff60" stroke="none" stroke-width="1"/>
<rect x="229.60" y="208.52" width="7.80" height="1.56" fill="#afff50" stroke="none" stroke-width="1"/>
<rect x="229.60" y="207.06" width="7.80" height="1.56" fill="#bfff40" stroke="none" stroke-width="1"/>
<rect x="229.60" y="205.60" width="7.80" height="1.56" fill="#cfff30" stroke="none" stroke-width="1"/>
<rect x="229.60" y="204.13" width="7.80" height="1.56" fill="#dfff20" stroke="none" stroke-width="1"/>
<rect x="229.60" y="202.67" width="7.80" height="1.56" fill="#efff10" stroke="none" stroke-width="1"/>
<rect x="229.60" y="201.21" width="7.80" height="1.56" fill="#ffff00" stroke="none" stroke-width="1"/>
<rect x="229.60" y="199.75" width="7.80" height="1.56" fill="#ffef00" stroke="none" stroke-width="1"/>
<rect x="229.60" y="198.29" width="7.80" height="1.56" fill="#ffdf00" stroke="none" stroke-width="1"/>
<rect x="229.60" y="196.83" width="7.80" height="1.56" fill="#ffcf00" stroke="none" stroke-width="1"/>
<rect x="229.60" y="195.37" width="7.80" height="1.56" fill="#ffbf00" stroke="none" stroke-width="1"/>
<rect x="229.60" y="193.91" width="7.80" height="1.56" fill="#ffaf00" stroke="none" stroke-width="1"/>
<rect x="229.60" y="192.45" width="7.80" height="1.56" fill="#ff9f00" stroke="none" stroke-width="1"/>
<rect x="229.60" y="190.99" width="7.80" height="1.56" fill="#ff8f00" stroke="none" stroke-width="1"/>
<rect x="229.60" y="189.52" width="7.80" height="1.56" fill="#ff8000" stroke="none" stroke-width="1"/>
<rect x="229.60" y="188.06" width="7.80" height="1.56" fill="#ff7000" stroke="none" stroke-width="1"/>
<rect x="229.60" y="186.60" width="7.80" height="1.56" fill="#ff6000" stroke="none" stroke-width="1"/>
<rect x="229.60" y="185.14" width="7.80" height="1.56" fill="#ff5000" stroke="none" stroke-width="1"/>
<rect x="229.60" y="183.68" width="7.80" height="1.56" fill="#ff4000" stroke="none" stroke-width="1"/>
<rect x="229.60" y="182.22" width="7.80" height="1.56" fill="#ff3000" stroke="none" stroke-width="1"/>
<rect x="229.60" y="180.76" width="7.80" height="1.56" fill="#ff2000" stroke="none" stroke-width="1"/>
<rect x="229.60" y="179.30" width="7.80" height="1.56" fill="#ff1000" stroke="none" stroke-width="1"/>
<rect x="229.60" y="177.84" width="7.80" height="1.56" fill="#ff0000" stroke="none" stroke-width="1"/>
<rect x="229.60" y="176.38" width="7.80" height="1.56" fill="#ef0000" stroke="none" stroke-width="1"/>
<rect x="229.60" y="174.92" width="7.80" height="1.56" fill="#df0000" stroke="none" stroke-width="1"/>
<rect x="229.60" y="173.45" width="7.80" height="1.56" fill="#cf0000" stroke="none" stroke-width="1"/>
<rect x="229.60" y="171.99" width="7.80" height="1.56" fill="#bf0000" stroke="none" stroke-width="1"/>
<rect x="229.60" y="170.53" width="7.80" height="1.56" fill="#af0000" stroke="none" stroke-width="1"/>
<rect x="229.60" y="169.07" width="7.80" height="1.56" fill="#9f0000" stroke="none" stroke-width="1"/>
<rect x="229.60" y="167.61" width="7.80" height="1.56" fill="#8f0000" stroke="none" stroke-width="1"/>
<rect x="229.60" y="166.15" width="7.80" height="1.56" fill="#800000" stroke="none" stroke-width="1"/>
<rect x="229.60" y="166.20" width="7.80" height="93.50" fill="none" stroke="#555" stroke-width="0.4"/>
<text transform="matrix(1.2474 0 0 1 139.44 162.86)" font-size="5.861" font-weight="bold" fill="#000" stroke="#000" stroke-width="0.22">(f)</text>
<text transform="matrix(1.0042 0 0 1 171.79 162.70)" font-size="7.443" font-weight="bold" fill="#000" stroke="#000" stroke-width="0.38">CPP+CNQX</text>
<text transform="matrix(1.0294 0 0 1 220.97 162.50)" font-size="7.186" font-weight="bold" fill="#000" stroke="#000" stroke-width="0.38">Spikes/bin</text>
<text transform="matrix(1.0514 0 0 1 178.56 172.70)" font-size="7.443" font-weight="bold" fill="#fff" stroke="#fff" stroke-width="0.38">Source</text>
<text transform="matrix(1.0139 0 0 1 181.32 218.60)" font-size="6.971" font-weight="bold" fill="#fff" stroke="#fff" stroke-width="0.38">Target</text>
<text transform="matrix(0.9920 0 0 1 147.21 184.00)" font-size="7.443" font-weight="bold" fill="#000" stroke="#000" stroke-width="0.38">10</text>
<text transform="matrix(0.9451 0 0 1 147.74 199.70)" font-size="7.586" font-weight="bold" fill="#000" stroke="#000" stroke-width="0.38">20</text>
<text transform="matrix(0.9360 0 0 1 147.81 215.10)" font-size="7.586" font-weight="bold" fill="#000" stroke="#000" stroke-width="0.38">30</text>
<text transform="matrix(0.9272 0 0 1 147.88 231.00)" font-size="7.586" font-weight="bold" fill="#000" stroke="#000" stroke-width="0.38">40</text>
<text transform="matrix(0.9405 0 0 1 147.78 246.90)" font-size="7.586" font-weight="bold" fill="#000" stroke="#000" stroke-width="0.38">50</text>
<text transform="matrix(0.9451 0 0 1 147.74 262.40)" font-size="7.586" font-weight="bold" fill="#000" stroke="#000" stroke-width="0.38">60</text>
<text transform="matrix(1.1076 0 0 1 168.09 268.10)" font-size="7.014" font-weight="bold" fill="#000" stroke="#000" stroke-width="0.38">100</text>
<text transform="matrix(1.0598 0 0 1 193.93 268.10)" font-size="7.014" font-weight="bold" fill="#000" stroke="#000" stroke-width="0.38">200</text>
<text transform="matrix(1.0710 0 0 1 219.70 268.10)" font-size="7.014" font-weight="bold" fill="#000" stroke="#000" stroke-width="0.38">300</text>
<text transform="matrix(0.9165 0 0 1 167.52 278.00)" font-size="7.738" font-weight="bold" fill="#000" stroke="#000" stroke-width="0.38">Time offset, ms</text>
<text transform="matrix(0 -1.0792 1 0 142.90 229.68)" font-size="6.634" font-weight="bold" fill="#000" stroke="#000" stroke-width="0.38">Electrode #</text>
<text transform="matrix(1.2831 0 0 1 238.15 171.30)" font-size="6.343" font-weight="normal" fill="#000" stroke="#000" stroke-width="0.12">2.5</text>
<text transform="matrix(1.6590 0 0 1 238.05 188.80)" font-size="6.200" font-weight="normal" fill="#000" stroke="#000" stroke-width="0.12">2</text>
<text transform="matrix(1.2340 0 0 1 237.94 207.20)" font-size="6.725" font-weight="normal" fill="#000" stroke="#000" stroke-width="0.12">1.5</text>
<text transform="matrix(0.9268 0 0 1 238.59 226.00)" font-size="6.725" font-weight="normal" fill="#000" stroke="#000" stroke-width="0.12">1</text>
<text transform="matrix(1.0687 0 0 1 238.76 244.10)" font-size="6.914" font-weight="normal" fill="#000" stroke="#000" stroke-width="0.12">0.5</text>
<text transform="matrix(1.2323 0 0 1 238.73 263.00)" font-size="6.629" font-weight="normal" fill="#000" stroke="#000" stroke-width="0.12">0</text>
<!-- panel g -->
<path d="M305.58 120.50 H339.48 V175.38 H305.58 V168.52 H298.80 V127.36 H305.58 Z" fill="#fff" stroke="#8a8a8a" stroke-width="0.7"/>
<rect x="339.68" y="120.70" width="6.38" height="6.46" fill="#000" stroke="none" stroke-width="1"/>
<rect x="339.68" y="127.56" width="6.38" height="6.46" fill="#000" stroke="none" stroke-width="1"/>
<rect x="339.68" y="134.42" width="6.38" height="6.46" fill="#000" stroke="none" stroke-width="1"/>
<rect x="339.68" y="141.28" width="6.38" height="6.46" fill="#000" stroke="none" stroke-width="1"/>
<rect x="339.48" y="147.94" width="6.78" height="6.86" fill="#fff" stroke="#8a8a8a" stroke-width="0.6"/>
<rect x="339.68" y="155.00" width="6.38" height="6.46" fill="#000" stroke="none" stroke-width="1"/>
<rect x="339.68" y="161.86" width="6.38" height="6.46" fill="#000" stroke="none" stroke-width="1"/>
<rect x="339.68" y="168.72" width="6.38" height="6.46" fill="#000" stroke="none" stroke-width="1"/>
<rect x="346.46" y="127.56" width="6.38" height="6.46" fill="#000" stroke="none" stroke-width="1"/>
<rect x="346.46" y="134.42" width="6.38" height="6.46" fill="#000" stroke="none" stroke-width="1"/>
<rect x="346.46" y="141.28" width="6.38" height="6.46" fill="#000" stroke="none" stroke-width="1"/>
<rect x="346.46" y="148.14" width="6.38" height="6.46" fill="#000" stroke="none" stroke-width="1"/>
<rect x="346.46" y="155.00" width="6.38" height="6.46" fill="#000" stroke="none" stroke-width="1"/>
<rect x="346.46" y="161.86" width="6.38" height="6.46" fill="#000" stroke="none" stroke-width="1"/>
<text transform="matrix(1.0722 0 0 1 275.30 114.80)" font-size="7.572" font-weight="bold" fill="#000" stroke="#000" stroke-width="0.22">(g)</text>
<text transform="matrix(1.0892 0 0 1 299.01 115.50)" font-size="6.772" font-weight="bold" fill="#000" stroke="#000" stroke-width="0.38">First spike timing</text>
<text transform="matrix(1.1365 0 0 1 292.10 131.90)" font-size="6.343" font-weight="normal" fill="#000" stroke="#000" stroke-width="0.12">2</text>
<text transform="matrix(1.1749 0 0 1 291.57 144.80)" font-size="6.435" font-weight="normal" fill="#000" stroke="#000" stroke-width="0.12">4</text>
<text transform="matrix(1.1927 0 0 1 291.38 158.40)" font-size="6.343" font-weight="normal" fill="#000" stroke="#000" stroke-width="0.12">6</text>
<text transform="matrix(1.1673 0 0 1 291.63 171.80)" font-size="6.343" font-weight="normal" fill="#000" stroke="#000" stroke-width="0.12">8</text>
<text transform="matrix(1.1982 0 0 1 308.39 183.30)" font-size="6.200" font-weight="normal" fill="#000" stroke="#000" stroke-width="0.12">2</text>
<text transform="matrix(1.2019 0 0 1 321.27 183.30)" font-size="6.290" font-weight="normal" fill="#000" stroke="#000" stroke-width="0.12">4</text>
<text transform="matrix(1.5007 0 0 1 334.09 183.30)" font-size="6.200" font-weight="normal" fill="#000" stroke="#000" stroke-width="0.12">6</text>
<text transform="matrix(1.3315 0 0 1 348.39 183.30)" font-size="6.200" font-weight="normal" fill="#000" stroke="#000" stroke-width="0.12">8</text>
<text transform="matrix(1.0443 0 0 1 307.02 190.50)" font-size="6.910" font-weight="bold" fill="#000" stroke="#000" stroke-width="0.38">Electrode #</text>
<text transform="matrix(0 -1.2945 1 0 287.70 167.08)" font-size="5.531" font-weight="bold" fill="#000" stroke="#000" stroke-width="0.38">Electrode #</text>
<!-- panel h -->
<path d="M414.80 119.90 H448.80 V173.58 H414.80 V166.87 H408.00 V126.61 H414.80 Z" fill="#fff" stroke="#8a8a8a" stroke-width="0.7"/>
<rect x="448.80" y="119.90" width="6.80" height="6.71" fill="#fff" stroke="#8a8a8a" stroke-width="0.6"/>
<rect x="448.80" y="126.61" width="6.80" height="6.71" fill="#fff" stroke="#8a8a8a" stroke-width="0.6"/>
<rect x="448.80" y="133.32" width="6.80" height="6.71" fill="#fff" stroke="#8a8a8a" stroke-width="0.6"/>
<rect x="448.80" y="140.03" width="6.80" height="6.71" fill="#fff" stroke="#8a8a8a" stroke-width="0.6"/>
<rect x="448.80" y="146.74" width="6.80" height="6.71" fill="#fff" stroke="#8a8a8a" stroke-width="0.6"/>
<rect x="448.80" y="153.45" width="6.80" height="6.71" fill="#fff" stroke="#8a8a8a" stroke-width="0.6"/>
<rect x="448.80" y="160.16" width="6.80" height="6.71" fill="#fff" stroke="#8a8a8a" stroke-width="0.6"/>
<rect x="448.80" y="166.87" width="6.80" height="6.71" fill="#fff" stroke="#8a8a8a" stroke-width="0.6"/>
<rect x="455.60" y="126.61" width="6.80" height="6.71" fill="#fff" stroke="#8a8a8a" stroke-width="0.6"/>
<rect x="455.60" y="133.32" width="6.80" height="6.71" fill="#fff" stroke="#8a8a8a" stroke-width="0.6"/>
<rect x="455.60" y="140.03" width="6.80" height="6.71" fill="#fff" stroke="#8a8a8a" stroke-width="0.6"/>
<rect x="455.60" y="146.74" width="6.80" height="6.71" fill="#fff" stroke="#8a8a8a" stroke-width="0.6"/>
<rect x="455.80" y="153.65" width="6.40" height="6.31" fill="#000" stroke="none" stroke-width="1"/>
<rect x="455.60" y="160.16" width="6.80" height="6.71" fill="#fff" stroke="#8a8a8a" stroke-width="0.6"/>
<text transform="matrix(1.0059 0 0 1 383.85 114.89)" font-size="7.144" font-weight="bold" fill="#000" stroke="#000" stroke-width="0.22">(h)</text>
<text transform="matrix(1.0393 0 0 1 396.21 115.70)" font-size="7.048" font-weight="bold" fill="#000" stroke="#000" stroke-width="0.38">Evoked spiking count</text>
<text transform="matrix(1.1712 0 0 1 401.09 131.55)" font-size="6.343" font-weight="normal" fill="#000" stroke="#000" stroke-width="0.12">2</text>
<text transform="matrix(1.0505 0 0 1 401.29 145.25)" font-size="6.435" font-weight="normal" fill="#000" stroke="#000" stroke-width="0.12">4</text>
<text transform="matrix(1.1584 0 0 1 401.09 158.85)" font-size="6.343" font-weight="normal" fill="#000" stroke="#000" stroke-width="0.12">6</text>
<text transform="matrix(1.1338 0 0 1 401.14 171.65)" font-size="6.343" font-weight="normal" fill="#000" stroke="#000" stroke-width="0.12">8</text>
<text transform="matrix(1.1870 0 0 1 417.57 181.60)" font-size="6.629" font-weight="normal" fill="#000" stroke="#000" stroke-width="0.12">2</text>
<text transform="matrix(0.9755 0 0 1 430.90 181.60)" font-size="6.725" font-weight="normal" fill="#000" stroke="#000" stroke-width="0.12">4</text>
<text transform="matrix(1.1741 0 0 1 443.67 181.60)" font-size="6.629" font-weight="normal" fill="#000" stroke="#000" stroke-width="0.12">6</text>
<text transform="matrix(1.1491 0 0 1 457.92 181.60)" font-size="6.629" font-weight="normal" fill="#000" stroke="#000" stroke-width="0.12">8</text>
<text transform="matrix(1.1675 0 0 1 415.61 188.90)" font-size="6.359" font-weight="bold" fill="#000" stroke="#000" stroke-width="0.38">Electrode #</text>
<text transform="matrix(0 -1.0389 1 0 397.30 166.58)" font-size="6.910" font-weight="bold" fill="#000" stroke="#000" stroke-width="0.38">Electrode #</text>
<!-- panel i -->
<line x1="315.30" y1="210.20" x2="315.30" y2="272.20" stroke="#a8a8a8" stroke-width="0.8"/>
<line x1="315.30" y1="272.20" x2="382.20" y2="272.20" stroke="#a8a8a8" stroke-width="0.8"/>
<line x1="315.30" y1="272.20" x2="316.30" y2="272.20" stroke="#a8a8a8" stroke-width="0.5"/>
<line x1="315.30" y1="262.00" x2="316.30" y2="262.00" stroke="#a8a8a8" stroke-width="0.5"/>
<line x1="315.30" y1="251.80" x2="316.30" y2="251.80" stroke="#a8a8a8" stroke-width="0.5"/>
<line x1="315.30" y1="241.60" x2="316.30" y2="241.60" stroke="#a8a8a8" stroke-width="0.5"/>
<line x1="315.30" y1="231.40" x2="316.30" y2="231.40" stroke="#a8a8a8" stroke-width="0.5"/>
<line x1="315.30" y1="221.20" x2="316.30" y2="221.20" stroke="#a8a8a8" stroke-width="0.5"/>
<line x1="315.30" y1="211.00" x2="316.30" y2="211.00" stroke="#a8a8a8" stroke-width="0.5"/>
<rect x="326.60" y="233.19" width="15.60" height="39.01" fill="#c4c4c4" stroke="#707070" stroke-width="0.7"/>
<line x1="334.40" y1="214.72" x2="334.40" y2="233.19" stroke="#707070" stroke-width="0.7"/>
<line x1="333.30" y1="214.72" x2="335.50" y2="214.72" stroke="#707070" stroke-width="0.7"/>
<line x1="333.30" y1="233.19" x2="335.50" y2="233.19" stroke="#707070" stroke-width="0.7"/>
<rect x="355.10" y="268.63" width="14.90" height="3.57" fill="#000" stroke="none" stroke-width="1"/>
<line x1="362.60" y1="256.90" x2="362.60" y2="268.63" stroke="#707070" stroke-width="0.7"/>
<line x1="361.50" y1="256.90" x2="363.70" y2="256.90" stroke="#707070" stroke-width="0.7"/>
<line x1="361.50" y1="268.63" x2="363.70" y2="268.63" stroke="#707070" stroke-width="0.7"/>
<text transform="matrix(1.0382 0 0 1 276.45 199.43)" font-size="6.930" font-weight="bold" fill="#000" stroke="#000" stroke-width="0.22">(i)</text>
<text transform="matrix(1.1213 0 0 1 301.21 213.50)" font-size="6.586" font-weight="bold" fill="#000" stroke="#000" stroke-width="0.38">120</text>
<text transform="matrix(1.1722 0 0 1 301.21 223.20)" font-size="6.300" font-weight="bold" fill="#000" stroke="#000" stroke-width="0.38">100</text>
<text transform="matrix(1.1125 0 0 1 303.67 233.90)" font-size="6.586" font-weight="bold" fill="#000" stroke="#000" stroke-width="0.38">80</text>
<text transform="matrix(1.1913 0 0 1 303.62 244.20)" font-size="6.586" font-weight="bold" fill="#000" stroke="#000" stroke-width="0.38">60</text>
<text transform="matrix(1.0973 0 0 1 303.77 254.40)" font-size="7.014" font-weight="bold" fill="#000" stroke="#000" stroke-width="0.38">40</text>
<text transform="matrix(1.1185 0 0 1 303.62 265.50)" font-size="7.014" font-weight="bold" fill="#000" stroke="#000" stroke-width="0.38">20</text>
<text transform="matrix(1.2413 0 0 1 306.13 274.90)" font-size="7.157" font-weight="bold" fill="#000" stroke="#000" stroke-width="0.38">0</text>
<text transform="matrix(0 -1.0678 1 0 297.10 274.03)" font-size="6.772" font-weight="bold" fill="#000" stroke="#000" stroke-width="0.38">Selective electrodes, %</text>
<rect x="360.80" y="209.50" width="12.60" height="3.70" fill="#c8c8c8" stroke="#707070" stroke-width="0.7"/>
<rect x="360.50" y="217.00" width="13.20" height="4.30" fill="#000" stroke="none" stroke-width="1"/>
<text transform="matrix(1.1288 0 0 1 376.07 214.00)" font-size="6.538" font-weight="normal" fill="#000" stroke="#000" stroke-width="0.12">First spike timing</text>
<text transform="matrix(1.0389 0 0 1 376.07 220.90)" font-size="7.090" font-weight="normal" fill="#000" stroke="#000" stroke-width="0.12">Evoked spiking count</text>
</svg></body></html>
